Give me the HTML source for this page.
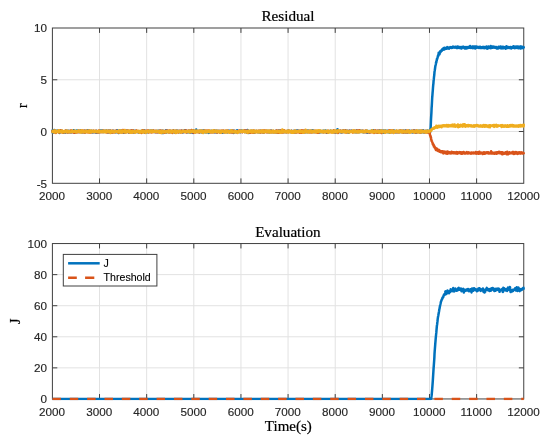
<!DOCTYPE html>
<html><head><meta charset="utf-8"><title>Residual / Evaluation</title>
<style>html,body{margin:0;padding:0;background:#fff}body{width:550px;height:438px;overflow:hidden}</style></head>
<body>
<svg width="550" height="438" viewBox="0 0 550 438" style="display:block">
<rect width="550" height="438" fill="#fff"/>
<line x1="99.53" y1="28.0" x2="99.53" y2="183.3" stroke="#e2e2e2" stroke-width="1"/>
<line x1="146.67" y1="28.0" x2="146.67" y2="183.3" stroke="#e2e2e2" stroke-width="1"/>
<line x1="193.81" y1="28.0" x2="193.81" y2="183.3" stroke="#e2e2e2" stroke-width="1"/>
<line x1="240.94" y1="28.0" x2="240.94" y2="183.3" stroke="#e2e2e2" stroke-width="1"/>
<line x1="288.07" y1="28.0" x2="288.07" y2="183.3" stroke="#e2e2e2" stroke-width="1"/>
<line x1="335.21" y1="28.0" x2="335.21" y2="183.3" stroke="#e2e2e2" stroke-width="1"/>
<line x1="382.35" y1="28.0" x2="382.35" y2="183.3" stroke="#e2e2e2" stroke-width="1"/>
<line x1="429.48" y1="28.0" x2="429.48" y2="183.3" stroke="#e2e2e2" stroke-width="1"/>
<line x1="476.62" y1="28.0" x2="476.62" y2="183.3" stroke="#e2e2e2" stroke-width="1"/>
<line x1="52.4" y1="131.53" x2="523.75" y2="131.53" stroke="#e2e2e2" stroke-width="1"/>
<line x1="52.4" y1="79.77" x2="523.75" y2="79.77" stroke="#e2e2e2" stroke-width="1"/>
<rect x="52.4" y="28.0" width="471.35" height="155.3" fill="none" stroke="#404040" stroke-width="1"/>
<line x1="99.53" y1="183.3" x2="99.53" y2="178.4" stroke="#404040" stroke-width="1"/>
<line x1="99.53" y1="28.0" x2="99.53" y2="32.9" stroke="#404040" stroke-width="1"/>
<line x1="146.67" y1="183.3" x2="146.67" y2="178.4" stroke="#404040" stroke-width="1"/>
<line x1="146.67" y1="28.0" x2="146.67" y2="32.9" stroke="#404040" stroke-width="1"/>
<line x1="193.81" y1="183.3" x2="193.81" y2="178.4" stroke="#404040" stroke-width="1"/>
<line x1="193.81" y1="28.0" x2="193.81" y2="32.9" stroke="#404040" stroke-width="1"/>
<line x1="240.94" y1="183.3" x2="240.94" y2="178.4" stroke="#404040" stroke-width="1"/>
<line x1="240.94" y1="28.0" x2="240.94" y2="32.9" stroke="#404040" stroke-width="1"/>
<line x1="288.07" y1="183.3" x2="288.07" y2="178.4" stroke="#404040" stroke-width="1"/>
<line x1="288.07" y1="28.0" x2="288.07" y2="32.9" stroke="#404040" stroke-width="1"/>
<line x1="335.21" y1="183.3" x2="335.21" y2="178.4" stroke="#404040" stroke-width="1"/>
<line x1="335.21" y1="28.0" x2="335.21" y2="32.9" stroke="#404040" stroke-width="1"/>
<line x1="382.35" y1="183.3" x2="382.35" y2="178.4" stroke="#404040" stroke-width="1"/>
<line x1="382.35" y1="28.0" x2="382.35" y2="32.9" stroke="#404040" stroke-width="1"/>
<line x1="429.48" y1="183.3" x2="429.48" y2="178.4" stroke="#404040" stroke-width="1"/>
<line x1="429.48" y1="28.0" x2="429.48" y2="32.9" stroke="#404040" stroke-width="1"/>
<line x1="476.62" y1="183.3" x2="476.62" y2="178.4" stroke="#404040" stroke-width="1"/>
<line x1="476.62" y1="28.0" x2="476.62" y2="32.9" stroke="#404040" stroke-width="1"/>
<line x1="52.4" y1="131.53" x2="57.3" y2="131.53" stroke="#404040" stroke-width="1"/>
<line x1="523.75" y1="131.53" x2="518.85" y2="131.53" stroke="#404040" stroke-width="1"/>
<line x1="52.4" y1="79.77" x2="57.3" y2="79.77" stroke="#404040" stroke-width="1"/>
<line x1="523.75" y1="79.77" x2="518.85" y2="79.77" stroke="#404040" stroke-width="1"/>
<text x="52.10" y="200.1" text-anchor="middle" font-family='"Liberation Sans", Arial, sans-serif' font-size="11.7" fill="#262626" stroke="#262626" stroke-width="0.15">2000</text>
<text x="99.23" y="200.1" text-anchor="middle" font-family='"Liberation Sans", Arial, sans-serif' font-size="11.7" fill="#262626" stroke="#262626" stroke-width="0.15">3000</text>
<text x="146.37" y="200.1" text-anchor="middle" font-family='"Liberation Sans", Arial, sans-serif' font-size="11.7" fill="#262626" stroke="#262626" stroke-width="0.15">4000</text>
<text x="193.51" y="200.1" text-anchor="middle" font-family='"Liberation Sans", Arial, sans-serif' font-size="11.7" fill="#262626" stroke="#262626" stroke-width="0.15">5000</text>
<text x="240.64" y="200.1" text-anchor="middle" font-family='"Liberation Sans", Arial, sans-serif' font-size="11.7" fill="#262626" stroke="#262626" stroke-width="0.15">6000</text>
<text x="287.77" y="200.1" text-anchor="middle" font-family='"Liberation Sans", Arial, sans-serif' font-size="11.7" fill="#262626" stroke="#262626" stroke-width="0.15">7000</text>
<text x="334.91" y="200.1" text-anchor="middle" font-family='"Liberation Sans", Arial, sans-serif' font-size="11.7" fill="#262626" stroke="#262626" stroke-width="0.15">8000</text>
<text x="382.05" y="200.1" text-anchor="middle" font-family='"Liberation Sans", Arial, sans-serif' font-size="11.7" fill="#262626" stroke="#262626" stroke-width="0.15">9000</text>
<text x="429.18" y="200.1" text-anchor="middle" font-family='"Liberation Sans", Arial, sans-serif' font-size="11.7" fill="#262626" stroke="#262626" stroke-width="0.15">10000</text>
<text x="476.31" y="200.1" text-anchor="middle" font-family='"Liberation Sans", Arial, sans-serif' font-size="11.7" fill="#262626" stroke="#262626" stroke-width="0.15">11000</text>
<text x="523.45" y="200.1" text-anchor="middle" font-family='"Liberation Sans", Arial, sans-serif' font-size="11.7" fill="#262626" stroke="#262626" stroke-width="0.15">12000</text>
<text x="47.1" y="187.6" text-anchor="end" font-family='"Liberation Sans", Arial, sans-serif' font-size="11.7" fill="#262626" stroke="#262626" stroke-width="0.15">-5</text>
<text x="47.1" y="135.8" text-anchor="end" font-family='"Liberation Sans", Arial, sans-serif' font-size="11.7" fill="#262626" stroke="#262626" stroke-width="0.15">0</text>
<text x="47.1" y="84.1" text-anchor="end" font-family='"Liberation Sans", Arial, sans-serif' font-size="11.7" fill="#262626" stroke="#262626" stroke-width="0.15">5</text>
<text x="47.1" y="32.3" text-anchor="end" font-family='"Liberation Sans", Arial, sans-serif' font-size="11.7" fill="#262626" stroke="#262626" stroke-width="0.15">10</text>
<clipPath id="c1"><rect x="51.199999999999996" y="28.0" width="473.75" height="156.5"/></clipPath>
<clipPath id="c2"><rect x="51.199999999999996" y="243.55" width="473.75" height="156.59999999999997"/></clipPath>
<g clip-path="url(#c1)" fill="none" stroke-linejoin="round" stroke-linecap="round" stroke-width="2.5">
<polyline stroke="#0072BD" points="52.4,130.6 52.6,132.7 52.8,131.3 53.0,131.8 53.2,131.7 53.4,131.6 53.6,132.5 53.8,131.6 54.0,131.9 54.2,130.0 54.4,131.4 54.6,131.7 54.8,131.7 55.0,131.8 55.2,132.0 55.3,131.7 55.5,131.3 55.7,131.6 55.9,131.1 56.1,131.6 56.3,131.5 56.5,130.8 56.7,131.3 56.9,131.8 57.1,131.6 57.3,131.3 57.5,130.6 57.7,131.7 57.9,131.6 58.1,131.1 58.3,131.9 58.5,131.7 58.7,131.1 58.9,131.3 59.1,131.5 59.3,131.2 59.5,132.9 59.7,131.1 59.9,132.0 60.1,132.3 60.3,131.4 60.5,131.2 60.7,131.7 60.8,132.0 61.0,131.5 61.2,131.6 61.4,130.9 61.6,131.2 61.8,131.4 62.0,131.0 62.2,131.6 62.4,132.0 62.6,131.3 62.8,131.3 63.0,131.6 63.2,131.9 63.4,131.4 63.6,132.7 63.8,131.2 64.0,131.3 64.2,132.3 64.4,131.5 64.6,132.0 64.8,131.2 65.0,132.5 65.2,132.0 65.4,131.2 65.6,131.0 65.8,132.5 66.0,131.8 66.2,131.4 66.3,131.8 66.5,130.8 66.7,132.1 66.9,131.4 67.1,132.0 67.3,130.9 67.5,131.5 67.7,131.7 67.9,132.3 68.1,130.7 68.3,131.2 68.5,131.2 68.7,131.0 68.9,131.4 69.1,131.8 69.3,131.9 69.5,131.9 69.7,130.9 69.9,132.2 70.1,131.8 70.3,131.7 70.5,131.4 70.7,131.3 70.9,132.1 71.1,132.3 71.3,131.5 71.5,131.0 71.7,131.2 71.9,131.4 72.0,131.7 72.2,131.4 72.4,131.6 72.6,131.2 72.8,131.9 73.0,131.5 73.2,131.6 73.4,131.3 73.6,131.4 73.8,130.3 74.0,130.8 74.2,130.8 74.4,132.5 74.6,131.7 74.8,131.8 75.0,131.3 75.2,132.6 75.4,131.0 75.6,131.0 75.8,132.1 76.0,132.0 76.2,131.9 76.4,131.5 76.6,131.2 76.8,130.6 77.0,131.6 77.2,131.2 77.4,131.5 77.5,130.7 77.7,131.2 77.9,130.9 78.1,132.0 78.3,131.6 78.5,131.9 78.7,130.8 78.9,131.2 79.1,131.7 79.3,131.7 79.5,131.3 79.7,131.9 79.9,132.0 80.1,131.3 80.3,130.4 80.5,131.6 80.7,131.8 80.9,132.1 81.1,132.2 81.3,131.3 81.5,131.1 81.7,131.5 81.9,131.4 82.1,131.5 82.3,131.5 82.5,132.2 82.7,131.7 82.9,131.5 83.1,131.9 83.2,131.8 83.4,131.9 83.6,131.7 83.8,131.1 84.0,131.7 84.2,131.6 84.4,131.2 84.6,131.2 84.8,130.7 85.0,132.5 85.2,131.1 85.4,131.8 85.6,131.5 85.8,131.1 86.0,131.0 86.2,131.0 86.4,131.5 86.6,130.8 86.8,131.7 87.0,131.6 87.2,131.2 87.4,131.8 87.6,130.5 87.8,131.1 88.0,130.5 88.2,131.5 88.4,131.7 88.6,131.5 88.7,131.2 88.9,131.8 89.1,131.4 89.3,131.5 89.5,130.8 89.7,131.8 89.9,131.0 90.1,131.8 90.3,132.0 90.5,131.9 90.7,132.1 90.9,131.5 91.1,131.1 91.3,131.5 91.5,131.2 91.7,130.8 91.9,131.4 92.1,131.4 92.3,131.7 92.5,132.3 92.7,131.2 92.9,132.4 93.1,131.2 93.3,131.5 93.5,131.0 93.7,131.6 93.9,131.9 94.1,131.4 94.2,131.8 94.4,131.6 94.6,131.5 94.8,131.6 95.0,131.6 95.2,131.9 95.4,131.6 95.6,132.5 95.8,131.6 96.0,132.1 96.2,131.0 96.4,130.9 96.6,132.4 96.8,131.5 97.0,131.6 97.2,132.0 97.4,131.3 97.6,131.7 97.8,132.4 98.0,131.7 98.2,131.6 98.4,131.5 98.6,132.1 98.8,131.2 99.0,131.2 99.2,132.1 99.4,131.8 99.6,131.6 99.8,131.8 99.9,130.7 100.1,131.4 100.3,132.0 100.5,131.9 100.7,131.6 100.9,130.5 101.1,131.6 101.3,131.5 101.5,131.3 101.7,131.6 101.9,130.5 102.1,131.8 102.3,131.2 102.5,131.5 102.7,131.2 102.9,132.1 103.1,130.7 103.3,131.6 103.5,131.5 103.7,132.0 103.9,131.9 104.1,131.3 104.3,131.1 104.5,131.2 104.7,131.0 104.9,131.2 105.1,131.5 105.3,131.1 105.4,131.3 105.6,131.6 105.8,131.2 106.0,130.9 106.2,131.4 106.4,131.7 106.6,131.2 106.8,130.6 107.0,131.6 107.2,131.6 107.4,131.6 107.6,131.0 107.8,132.4 108.0,131.4 108.2,131.0 108.4,131.9 108.6,130.8 108.8,131.3 109.0,131.8 109.2,131.4 109.4,132.2 109.6,131.8 109.8,130.7 110.0,131.9 110.2,130.7 110.4,131.6 110.6,131.1 110.8,131.5 111.0,132.6 111.1,131.8 111.3,131.4 111.5,132.1 111.7,132.2 111.9,131.4 112.1,131.8 112.3,132.3 112.5,131.9 112.7,131.1 112.9,131.8 113.1,131.1 113.3,130.8 113.5,131.5 113.7,132.1 113.9,132.1 114.1,131.5 114.3,131.1 114.5,131.4 114.7,131.3 114.9,131.7 115.1,131.4 115.3,131.8 115.5,131.7 115.7,132.1 115.9,132.3 116.1,131.8 116.3,132.0 116.5,132.0 116.6,131.2 116.8,131.6 117.0,130.2 117.2,131.1 117.4,131.8 117.6,131.2 117.8,131.4 118.0,131.9 118.2,131.0 118.4,131.9 118.6,133.0 118.8,131.2 119.0,131.8 119.2,130.8 119.4,131.8 119.6,132.1 119.8,130.8 120.0,132.0 120.2,131.4 120.4,130.9 120.6,131.5 120.8,131.6 121.0,131.5 121.2,131.1 121.4,131.9 121.6,131.2 121.8,131.3 122.0,130.4 122.1,131.7 122.3,132.0 122.5,131.2 122.7,131.7 122.9,131.4 123.1,131.5 123.3,131.0 123.5,131.8 123.7,131.6 123.9,132.7 124.1,131.9 124.3,130.8 124.5,131.9 124.7,131.9 124.9,132.1 125.1,131.3 125.3,131.5 125.5,132.1 125.7,131.2 125.9,131.4 126.1,131.2 126.3,131.8 126.5,130.7 126.7,131.3 126.9,131.6 127.1,131.8 127.3,131.6 127.5,131.1 127.7,131.7 127.8,131.0 128.0,131.3 128.2,130.9 128.4,131.2 128.6,131.6 128.8,132.4 129.0,131.4 129.2,131.2 129.4,131.5 129.6,131.3 129.8,131.8 130.0,131.7 130.2,132.0 130.4,130.9 130.6,131.5 130.8,131.8 131.0,132.2 131.2,131.6 131.4,130.9 131.6,131.3 131.8,131.9 132.0,130.9 132.2,130.9 132.4,131.1 132.6,131.2 132.8,131.0 133.0,131.3 133.2,131.2 133.3,131.9 133.5,130.8 133.7,131.4 133.9,130.6 134.1,132.5 134.3,131.2 134.5,131.1 134.7,131.7 134.9,131.3 135.1,131.2 135.3,131.3 135.5,131.8 135.7,131.6 135.9,131.1 136.1,130.9 136.3,131.5 136.5,131.5 136.7,131.4 136.9,131.0 137.1,132.0 137.3,132.2 137.5,131.5 137.7,132.0 137.9,131.8 138.1,131.5 138.3,131.3 138.5,132.0 138.7,131.2 138.9,132.4 139.0,131.3 139.2,132.3 139.4,132.1 139.6,131.2 139.8,131.7 140.0,131.9 140.2,131.7 140.4,131.3 140.6,131.6 140.8,131.5 141.0,131.0 141.2,131.9 141.4,131.8 141.6,131.8 141.8,131.0 142.0,131.1 142.2,130.9 142.4,131.5 142.6,131.6 142.8,131.1 143.0,131.7 143.2,131.1 143.4,131.2 143.6,131.9 143.8,131.6 144.0,131.6 144.2,130.7 144.4,130.3 144.5,131.6 144.7,131.5 144.9,132.6 145.1,131.4 145.3,131.5 145.5,132.0 145.7,131.2 145.9,132.3 146.1,131.6 146.3,131.5 146.5,132.1 146.7,131.1 146.9,131.0 147.1,132.2 147.3,132.2 147.5,131.3 147.7,131.5 147.9,132.1 148.1,131.7 148.3,131.6 148.5,131.6 148.7,131.1 148.9,131.4 149.1,130.7 149.3,130.9 149.5,131.2 149.7,131.0 149.9,130.9 150.0,131.2 150.2,132.1 150.4,131.1 150.6,131.5 150.8,130.8 151.0,131.5 151.2,131.3 151.4,131.4 151.6,130.8 151.8,131.5 152.0,131.7 152.2,131.4 152.4,131.7 152.6,131.5 152.8,131.5 153.0,131.4 153.2,130.6 153.4,131.7 153.6,131.5 153.8,131.6 154.0,131.2 154.2,132.1 154.4,131.9 154.6,131.6 154.8,131.3 155.0,131.6 155.2,131.8 155.4,131.9 155.6,131.3 155.7,130.9 155.9,131.4 156.1,131.4 156.3,131.3 156.5,132.0 156.7,131.7 156.9,131.7 157.1,131.4 157.3,131.5 157.5,132.1 157.7,131.0 157.9,130.7 158.1,131.7 158.3,131.3 158.5,131.4 158.7,131.2 158.9,132.2 159.1,130.8 159.3,131.8 159.5,130.9 159.7,131.5 159.9,131.7 160.1,131.6 160.3,131.1 160.5,131.9 160.7,131.7 160.9,131.8 161.1,132.3 161.2,130.9 161.4,131.3 161.6,131.5 161.8,131.0 162.0,132.0 162.2,131.6 162.4,130.7 162.6,131.1 162.8,132.6 163.0,133.1 163.2,132.0 163.4,131.0 163.6,131.8 163.8,131.6 164.0,131.2 164.2,131.9 164.4,131.4 164.6,131.2 164.8,131.3 165.0,131.3 165.2,131.8 165.4,131.3 165.6,131.7 165.8,130.9 166.0,130.3 166.2,131.9 166.4,132.5 166.6,131.7 166.8,131.4 166.9,131.0 167.1,131.0 167.3,131.9 167.5,131.9 167.7,130.9 167.9,132.0 168.1,131.0 168.3,131.6 168.5,131.2 168.7,131.2 168.9,131.2 169.1,131.2 169.3,132.0 169.5,131.4 169.7,131.5 169.9,131.4 170.1,131.0 170.3,131.7 170.5,131.9 170.7,131.9 170.9,131.7 171.1,131.2 171.3,131.9 171.5,131.0 171.7,131.4 171.9,131.6 172.1,132.2 172.3,131.4 172.4,131.2 172.6,132.4 172.8,131.0 173.0,130.8 173.2,131.4 173.4,131.3 173.6,130.4 173.8,131.0 174.0,132.0 174.2,131.5 174.4,131.6 174.6,131.6 174.8,132.6 175.0,131.2 175.2,131.8 175.4,131.5 175.6,131.6 175.8,131.1 176.0,131.7 176.2,131.9 176.4,131.3 176.6,130.9 176.8,131.7 177.0,130.9 177.2,131.4 177.4,131.8 177.6,130.8 177.8,131.9 177.9,131.1 178.1,131.8 178.3,131.3 178.5,132.1 178.7,131.9 178.9,131.0 179.1,131.4 179.3,131.5 179.5,131.7 179.7,131.3 179.9,132.2 180.1,132.1 180.3,131.6 180.5,131.9 180.7,131.9 180.9,131.6 181.1,131.6 181.3,131.6 181.5,130.8 181.7,131.1 181.9,131.0 182.1,131.5 182.3,131.8 182.5,132.2 182.7,131.7 182.9,132.5 183.1,131.8 183.3,131.2 183.5,130.8 183.6,131.1 183.8,131.9 184.0,131.3 184.2,131.9 184.4,131.1 184.6,131.6 184.8,131.1 185.0,130.3 185.2,131.1 185.4,130.4 185.6,131.5 185.8,131.7 186.0,130.9 186.2,130.7 186.4,131.8 186.6,131.5 186.8,132.2 187.0,131.6 187.2,131.1 187.4,131.6 187.6,131.8 187.8,132.2 188.0,131.4 188.2,131.2 188.4,131.3 188.6,131.4 188.8,132.1 189.0,130.7 189.1,131.6 189.3,131.6 189.5,131.2 189.7,132.5 189.9,131.6 190.1,131.6 190.3,131.4 190.5,130.9 190.7,131.3 190.9,132.4 191.1,131.7 191.3,131.4 191.5,131.5 191.7,132.1 191.9,132.3 192.1,131.3 192.3,131.4 192.5,131.5 192.7,132.3 192.9,130.7 193.1,132.9 193.3,131.7 193.5,130.6 193.7,131.6 193.9,131.4 194.1,132.1 194.3,130.9 194.5,132.1 194.6,131.4 194.8,131.5 195.0,132.0 195.2,131.1 195.4,132.2 195.6,131.9 195.8,131.5 196.0,131.7 196.2,129.6 196.4,131.1 196.6,131.7 196.8,131.8 197.0,131.8 197.2,131.7 197.4,131.2 197.6,131.6 197.8,131.3 198.0,131.6 198.2,131.9 198.4,131.1 198.6,132.0 198.8,131.5 199.0,130.8 199.2,132.0 199.4,131.6 199.6,132.3 199.8,131.8 200.0,132.2 200.2,131.7 200.3,131.8 200.5,131.5 200.7,130.8 200.9,131.4 201.1,131.2 201.3,131.6 201.5,131.6 201.7,131.9 201.9,132.4 202.1,131.5 202.3,130.8 202.5,131.3 202.7,131.8 202.9,130.8 203.1,131.7 203.3,131.8 203.5,132.1 203.7,132.0 203.9,131.6 204.1,130.6 204.3,131.6 204.5,132.0 204.7,131.8 204.9,131.6 205.1,132.3 205.3,131.5 205.5,131.2 205.7,131.4 205.8,131.3 206.0,132.1 206.2,132.3 206.4,130.9 206.6,131.0 206.8,132.3 207.0,131.4 207.2,131.5 207.4,131.3 207.6,131.4 207.8,131.8 208.0,131.4 208.2,131.5 208.4,131.6 208.6,132.4 208.8,132.9 209.0,131.9 209.2,132.3 209.4,131.4 209.6,131.2 209.8,131.4 210.0,131.7 210.2,131.5 210.4,131.0 210.6,131.9 210.8,131.1 211.0,131.2 211.2,131.4 211.4,130.9 211.5,131.9 211.7,131.1 211.9,132.0 212.1,131.9 212.3,132.0 212.5,131.3 212.7,132.0 212.9,131.5 213.1,132.1 213.3,131.0 213.5,130.7 213.7,131.4 213.9,130.8 214.1,131.3 214.3,130.5 214.5,131.5 214.7,132.3 214.9,130.8 215.1,131.6 215.3,132.0 215.5,131.8 215.7,132.3 215.9,131.6 216.1,132.0 216.3,130.8 216.5,131.2 216.7,132.3 216.9,132.2 217.0,131.8 217.2,132.4 217.4,131.6 217.6,131.6 217.8,131.9 218.0,131.8 218.2,131.3 218.4,130.9 218.6,130.8 218.8,131.5 219.0,131.1 219.2,131.9 219.4,131.3 219.6,132.0 219.8,131.2 220.0,132.1 220.2,132.0 220.4,131.5 220.6,131.3 220.8,132.2 221.0,131.8 221.2,131.5 221.4,131.4 221.6,131.9 221.8,131.5 222.0,131.7 222.2,130.9 222.4,131.3 222.5,132.2 222.7,132.6 222.9,131.5 223.1,131.0 223.3,131.5 223.5,131.1 223.7,131.8 223.9,132.2 224.1,131.2 224.3,131.5 224.5,131.2 224.7,132.2 224.9,131.4 225.1,131.8 225.3,131.2 225.5,131.8 225.7,131.8 225.9,131.8 226.1,130.9 226.3,131.5 226.5,131.9 226.7,132.0 226.9,132.0 227.1,130.9 227.3,132.4 227.5,131.9 227.7,131.2 227.9,131.0 228.1,131.6 228.2,131.2 228.4,131.2 228.6,131.1 228.8,131.5 229.0,130.8 229.2,131.4 229.4,130.8 229.6,132.0 229.8,131.1 230.0,132.1 230.2,132.2 230.4,131.3 230.6,131.9 230.8,131.3 231.0,132.0 231.2,130.8 231.4,131.5 231.6,132.0 231.8,131.4 232.0,131.1 232.2,131.9 232.4,131.3 232.6,130.6 232.8,131.1 233.0,131.5 233.2,131.8 233.4,131.2 233.6,132.2 233.7,132.9 233.9,131.8 234.1,132.0 234.3,130.7 234.5,131.4 234.7,132.0 234.9,132.0 235.1,131.3 235.3,131.9 235.5,131.8 235.7,131.5 235.9,131.5 236.1,131.5 236.3,131.4 236.5,130.9 236.7,130.7 236.9,132.3 237.1,130.3 237.3,131.4 237.5,130.9 237.7,131.8 237.9,131.3 238.1,131.4 238.3,131.4 238.5,131.1 238.7,131.2 238.9,132.0 239.1,131.6 239.3,131.2 239.4,131.2 239.6,131.7 239.8,131.6 240.0,131.6 240.2,132.0 240.4,132.1 240.6,130.8 240.8,131.7 241.0,131.5 241.2,131.8 241.4,130.9 241.6,130.7 241.8,131.6 242.0,131.3 242.2,131.8 242.4,130.7 242.6,131.1 242.8,131.9 243.0,130.9 243.2,131.3 243.4,131.3 243.6,131.3 243.8,131.8 244.0,131.7 244.2,131.2 244.4,131.5 244.6,131.9 244.8,130.6 244.9,131.6 245.1,131.8 245.3,131.8 245.5,131.2 245.7,131.0 245.9,131.4 246.1,131.1 246.3,132.2 246.5,131.7 246.7,131.7 246.9,131.5 247.1,131.3 247.3,132.5 247.5,130.0 247.7,131.9 247.9,131.3 248.1,131.1 248.3,131.1 248.5,131.4 248.7,132.9 248.9,132.0 249.1,131.2 249.3,131.9 249.5,132.0 249.7,132.6 249.9,130.9 250.1,131.3 250.3,131.9 250.4,131.6 250.6,131.6 250.8,132.0 251.0,131.6 251.2,131.4 251.4,131.3 251.6,130.9 251.8,131.5 252.0,131.7 252.2,131.3 252.4,131.8 252.6,132.1 252.8,131.0 253.0,131.7 253.2,131.5 253.4,131.2 253.6,132.0 253.8,131.2 254.0,131.3 254.2,131.6 254.4,131.3 254.6,131.9 254.8,132.6 255.0,131.7 255.2,131.9 255.4,131.1 255.6,131.4 255.8,131.8 256.0,131.5 256.1,130.9 256.3,131.0 256.5,131.4 256.7,131.3 256.9,131.7 257.1,131.6 257.3,131.3 257.5,131.6 257.7,131.4 257.9,132.0 258.1,132.3 258.3,132.3 258.5,131.7 258.7,130.9 258.9,131.0 259.1,132.0 259.3,132.3 259.5,131.2 259.7,131.3 259.9,132.2 260.1,131.0 260.3,131.4 260.5,130.9 260.7,131.4 260.9,131.1 261.1,131.4 261.3,132.0 261.5,131.6 261.6,131.8 261.8,131.1 262.0,132.0 262.2,132.2 262.4,131.2 262.6,131.0 262.8,130.9 263.0,131.0 263.2,132.2 263.4,131.9 263.6,131.8 263.8,131.5 264.0,132.5 264.2,131.5 264.4,131.4 264.6,132.0 264.8,131.5 265.0,131.0 265.2,131.5 265.4,131.0 265.6,131.1 265.8,131.3 266.0,131.3 266.2,131.7 266.4,130.9 266.6,131.7 266.8,131.9 267.0,131.2 267.2,131.9 267.3,131.3 267.5,131.0 267.7,131.5 267.9,131.5 268.1,131.1 268.3,131.2 268.5,132.2 268.7,132.1 268.9,130.9 269.1,131.3 269.3,132.5 269.5,132.2 269.7,131.5 269.9,132.0 270.1,131.3 270.3,131.5 270.5,131.3 270.7,132.1 270.9,131.2 271.1,130.6 271.3,131.9 271.5,130.9 271.7,131.1 271.9,131.2 272.1,131.6 272.3,132.1 272.5,131.9 272.7,131.2 272.8,131.1 273.0,131.0 273.2,131.1 273.4,131.1 273.6,131.7 273.8,132.1 274.0,131.4 274.2,131.3 274.4,131.5 274.6,132.2 274.8,131.8 275.0,132.2 275.2,131.5 275.4,132.0 275.6,131.6 275.8,131.4 276.0,131.5 276.2,130.9 276.4,132.0 276.6,132.5 276.8,131.1 277.0,130.9 277.2,130.9 277.4,131.4 277.6,131.3 277.8,131.5 278.0,132.1 278.2,131.8 278.3,131.3 278.5,131.8 278.7,130.6 278.9,132.2 279.1,131.7 279.3,131.0 279.5,131.8 279.7,132.0 279.9,132.2 280.1,131.9 280.3,130.8 280.5,131.3 280.7,131.3 280.9,131.8 281.1,131.1 281.3,131.5 281.5,131.9 281.7,131.7 281.9,131.4 282.1,131.0 282.3,131.5 282.5,131.3 282.7,130.6 282.9,131.9 283.1,132.1 283.3,131.1 283.5,131.3 283.7,131.6 283.9,131.4 284.0,131.7 284.2,131.3 284.4,131.7 284.6,131.1 284.8,132.1 285.0,131.9 285.2,131.5 285.4,131.7 285.6,131.2 285.8,131.5 286.0,131.8 286.2,131.4 286.4,131.8 286.6,132.2 286.8,132.0 287.0,131.9 287.2,131.7 287.4,131.5 287.6,131.1 287.8,131.3 288.0,130.7 288.2,130.9 288.4,131.6 288.6,130.7 288.8,131.0 289.0,131.7 289.2,131.4 289.4,131.0 289.5,131.4 289.7,131.0 289.9,131.3 290.1,131.2 290.3,131.7 290.5,131.3 290.7,131.7 290.9,131.2 291.1,132.3 291.3,131.4 291.5,130.9 291.7,131.2 291.9,131.5 292.1,131.3 292.3,131.9 292.5,131.9 292.7,131.7 292.9,131.6 293.1,131.1 293.3,131.9 293.5,131.0 293.7,132.2 293.9,131.9 294.1,131.5 294.3,131.0 294.5,131.8 294.7,132.5 294.9,131.3 295.0,131.5 295.2,132.0 295.4,132.0 295.6,131.8 295.8,131.5 296.0,131.2 296.2,132.2 296.4,130.4 296.6,131.5 296.8,131.7 297.0,131.2 297.2,131.5 297.4,130.4 297.6,131.0 297.8,131.7 298.0,131.7 298.2,131.7 298.4,131.7 298.6,131.2 298.8,131.8 299.0,130.8 299.2,131.6 299.4,131.6 299.6,131.1 299.8,132.4 300.0,131.9 300.2,131.2 300.4,131.5 300.6,131.5 300.7,131.3 300.9,131.8 301.1,131.6 301.3,132.1 301.5,132.4 301.7,130.9 301.9,131.9 302.1,131.8 302.3,130.9 302.5,131.0 302.7,131.8 302.9,131.8 303.1,131.6 303.3,132.0 303.5,131.3 303.7,131.4 303.9,131.5 304.1,131.2 304.3,131.2 304.5,130.7 304.7,130.8 304.9,132.3 305.1,131.1 305.3,132.0 305.5,132.2 305.7,131.2 305.9,131.8 306.1,131.7 306.2,131.0 306.4,131.8 306.6,131.9 306.8,131.4 307.0,130.9 307.2,131.3 307.4,132.2 307.6,131.8 307.8,131.6 308.0,130.6 308.2,131.1 308.4,131.1 308.6,131.0 308.8,131.7 309.0,131.3 309.2,131.3 309.4,132.0 309.6,131.5 309.8,131.3 310.0,132.0 310.2,131.1 310.4,131.2 310.6,131.0 310.8,131.9 311.0,131.5 311.2,130.8 311.4,131.1 311.6,131.9 311.8,131.4 311.9,130.9 312.1,131.6 312.3,131.3 312.5,130.3 312.7,131.5 312.9,131.6 313.1,132.0 313.3,131.8 313.5,130.8 313.7,131.6 313.9,132.1 314.1,132.0 314.3,131.5 314.5,131.2 314.7,131.9 314.9,131.2 315.1,131.7 315.3,131.4 315.5,131.3 315.7,131.2 315.9,131.7 316.1,131.6 316.3,131.3 316.5,132.1 316.7,131.4 316.9,131.3 317.1,131.0 317.3,131.5 317.4,131.6 317.6,131.5 317.8,131.9 318.0,131.6 318.2,131.3 318.4,131.4 318.6,132.0 318.8,131.7 319.0,132.5 319.2,131.2 319.4,131.8 319.6,131.4 319.8,132.0 320.0,131.6 320.2,131.3 320.4,131.1 320.6,132.2 320.8,131.1 321.0,131.6 321.2,131.9 321.4,131.3 321.6,131.7 321.8,131.7 322.0,131.9 322.2,131.4 322.4,131.5 322.6,131.6 322.8,132.0 322.9,131.8 323.1,131.4 323.3,130.9 323.5,131.6 323.7,130.9 323.9,131.5 324.1,132.1 324.3,131.2 324.5,132.0 324.7,131.4 324.9,131.0 325.1,131.7 325.3,131.6 325.5,130.4 325.7,131.4 325.9,131.4 326.1,131.2 326.3,131.6 326.5,131.6 326.7,131.4 326.9,132.7 327.1,130.9 327.3,132.0 327.5,132.0 327.7,131.3 327.9,131.5 328.1,132.1 328.3,131.4 328.5,132.1 328.6,131.9 328.8,132.2 329.0,131.9 329.2,131.4 329.4,131.5 329.6,131.4 329.8,131.1 330.0,131.6 330.2,131.8 330.4,131.7 330.6,130.8 330.8,131.5 331.0,131.4 331.2,131.6 331.4,131.4 331.6,131.3 331.8,131.5 332.0,131.6 332.2,131.9 332.4,131.9 332.6,131.4 332.8,131.2 333.0,131.1 333.2,131.5 333.4,131.9 333.6,131.2 333.8,131.3 334.0,132.2 334.1,131.2 334.3,131.3 334.5,130.8 334.7,132.1 334.9,132.1 335.1,131.2 335.3,132.4 335.5,131.9 335.7,132.0 335.9,132.0 336.1,132.4 336.3,131.7 336.5,131.1 336.7,131.3 336.9,131.3 337.1,131.7 337.3,130.9 337.5,129.2 337.7,131.1 337.9,132.3 338.1,131.4 338.3,132.1 338.5,131.4 338.7,131.4 338.9,132.1 339.1,131.5 339.3,131.0 339.5,131.3 339.7,131.3 339.8,131.9 340.0,131.9 340.2,132.1 340.4,131.5 340.6,131.0 340.8,131.3 341.0,131.5 341.2,132.1 341.4,131.3 341.6,131.6 341.8,132.4 342.0,132.3 342.2,131.7 342.4,131.9 342.6,130.8 342.8,131.5 343.0,132.0 343.2,131.8 343.4,130.8 343.6,132.0 343.8,131.2 344.0,131.3 344.2,130.9 344.4,131.3 344.6,131.7 344.8,131.3 345.0,131.5 345.2,131.1 345.3,131.6 345.5,130.6 345.7,131.6 345.9,131.3 346.1,131.8 346.3,131.5 346.5,131.5 346.7,131.4 346.9,131.1 347.1,131.8 347.3,131.9 347.5,131.0 347.7,131.7 347.9,131.8 348.1,131.0 348.3,131.2 348.5,132.8 348.7,131.7 348.9,131.2 349.1,131.1 349.3,131.8 349.5,130.8 349.7,131.9 349.9,131.6 350.1,131.5 350.3,131.5 350.5,131.2 350.7,131.1 350.8,131.5 351.0,130.9 351.2,131.8 351.4,131.6 351.6,130.7 351.8,131.5 352.0,131.0 352.2,131.7 352.4,131.6 352.6,131.6 352.8,131.4 353.0,131.7 353.2,131.5 353.4,131.2 353.6,131.0 353.8,131.5 354.0,131.2 354.2,131.1 354.4,132.0 354.6,132.2 354.8,130.8 355.0,130.9 355.2,131.5 355.4,131.4 355.6,132.0 355.8,132.2 356.0,131.4 356.2,132.2 356.4,131.1 356.5,131.8 356.7,131.4 356.9,130.6 357.1,130.6 357.3,131.6 357.5,131.0 357.7,132.0 357.9,131.8 358.1,131.3 358.3,130.9 358.5,131.8 358.7,131.3 358.9,131.5 359.1,132.1 359.3,131.6 359.5,130.8 359.7,131.6 359.9,131.3 360.1,131.1 360.3,131.9 360.5,130.9 360.7,130.8 360.9,130.8 361.1,130.9 361.3,131.7 361.5,131.8 361.7,131.9 361.9,131.9 362.0,131.9 362.2,131.1 362.4,130.8 362.6,131.8 362.8,131.1 363.0,132.1 363.2,131.7 363.4,132.0 363.6,132.3 363.8,131.5 364.0,131.5 364.2,131.7 364.4,131.8 364.6,132.0 364.8,131.6 365.0,131.8 365.2,131.4 365.4,132.1 365.6,131.4 365.8,131.3 366.0,130.9 366.2,131.0 366.4,131.4 366.6,131.8 366.8,132.4 367.0,131.5 367.2,130.9 367.4,130.8 367.6,132.7 367.7,131.9 367.9,131.7 368.1,132.0 368.3,131.4 368.5,131.5 368.7,131.8 368.9,131.5 369.1,132.3 369.3,132.0 369.5,131.9 369.7,131.1 369.9,132.3 370.1,131.6 370.3,131.2 370.5,131.6 370.7,131.2 370.9,131.8 371.1,131.3 371.3,131.1 371.5,130.5 371.7,131.2 371.9,130.9 372.1,131.5 372.3,131.5 372.5,130.8 372.7,131.3 372.9,130.9 373.1,131.2 373.2,130.5 373.4,130.4 373.6,131.9 373.8,130.7 374.0,131.3 374.2,131.3 374.4,131.6 374.6,131.2 374.8,132.0 375.0,131.9 375.2,131.9 375.4,131.4 375.6,131.1 375.8,131.2 376.0,131.3 376.2,131.8 376.4,132.3 376.6,131.3 376.8,131.5 377.0,131.4 377.2,130.9 377.4,131.6 377.6,131.6 377.8,132.6 378.0,131.3 378.2,131.5 378.4,131.9 378.6,131.3 378.7,132.0 378.9,131.8 379.1,130.6 379.3,131.2 379.5,131.1 379.7,131.2 379.9,131.2 380.1,131.4 380.3,130.5 380.5,131.6 380.7,131.2 380.9,131.6 381.1,131.7 381.3,132.7 381.5,132.4 381.7,130.8 381.9,130.8 382.1,131.7 382.3,131.5 382.5,131.2 382.7,132.0 382.9,130.7 383.1,132.0 383.3,131.9 383.5,132.8 383.7,130.8 383.9,131.5 384.1,130.8 384.3,132.0 384.4,131.4 384.6,131.5 384.8,131.4 385.0,130.6 385.2,130.5 385.4,130.9 385.6,131.7 385.8,131.1 386.0,130.9 386.2,131.3 386.4,131.3 386.6,131.3 386.8,131.9 387.0,131.4 387.2,130.8 387.4,132.0 387.6,131.5 387.8,131.1 388.0,132.2 388.2,131.6 388.4,132.3 388.6,131.8 388.8,132.2 389.0,131.9 389.2,131.8 389.4,131.7 389.6,131.6 389.8,132.7 389.9,130.8 390.1,131.7 390.3,132.0 390.5,131.8 390.7,131.4 390.9,132.0 391.1,131.7 391.3,131.8 391.5,131.3 391.7,131.9 391.9,131.3 392.1,131.4 392.3,131.6 392.5,131.0 392.7,131.5 392.9,132.1 393.1,131.4 393.3,131.5 393.5,131.6 393.7,131.4 393.9,130.4 394.1,131.4 394.3,131.3 394.5,131.6 394.7,130.9 394.9,131.6 395.1,131.9 395.3,132.1 395.5,131.3 395.6,131.2 395.8,132.3 396.0,131.9 396.2,131.2 396.4,131.1 396.6,132.1 396.8,131.7 397.0,131.1 397.2,131.8 397.4,131.7 397.6,131.8 397.8,132.1 398.0,131.5 398.2,131.4 398.4,132.2 398.6,131.5 398.8,131.0 399.0,131.4 399.2,131.1 399.4,131.8 399.6,130.9 399.8,131.9 400.0,130.7 400.2,131.7 400.4,131.9 400.6,132.0 400.8,131.7 401.0,131.8 401.1,131.9 401.3,131.7 401.5,131.2 401.7,131.1 401.9,131.7 402.1,131.0 402.3,132.0 402.5,132.0 402.7,132.1 402.9,131.3 403.1,132.3 403.3,132.2 403.5,130.9 403.7,130.7 403.9,130.9 404.1,132.2 404.3,131.5 404.5,131.1 404.7,131.5 404.9,132.3 405.1,131.7 405.3,132.3 405.5,132.1 405.7,130.5 405.9,131.2 406.1,132.2 406.3,132.2 406.5,131.3 406.6,131.8 406.8,131.3 407.0,131.8 407.2,131.6 407.4,131.4 407.6,132.0 407.8,132.4 408.0,132.1 408.2,131.9 408.4,131.6 408.6,131.6 408.8,131.6 409.0,131.3 409.2,132.0 409.4,130.9 409.6,130.6 409.8,131.4 410.0,131.5 410.2,131.0 410.4,131.2 410.6,131.5 410.8,131.6 411.0,131.9 411.2,132.1 411.4,131.2 411.6,131.0 411.8,132.0 412.0,131.6 412.2,131.4 412.3,131.7 412.5,131.9 412.7,131.7 412.9,132.5 413.1,131.6 413.3,131.7 413.5,130.6 413.7,131.1 413.9,131.7 414.1,131.5 414.3,130.7 414.5,130.8 414.7,131.5 414.9,131.6 415.1,132.2 415.3,131.7 415.5,131.6 415.7,131.9 415.9,130.7 416.1,132.4 416.3,131.6 416.5,131.4 416.7,131.3 416.9,130.8 417.1,132.2 417.3,131.9 417.5,131.5 417.7,131.5 417.8,131.7 418.0,131.9 418.2,131.0 418.4,132.0 418.6,131.8 418.8,130.9 419.0,130.7 419.2,131.1 419.4,131.9 419.6,131.9 419.8,132.0 420.0,132.1 420.2,131.7 420.4,130.9 420.6,131.4 420.8,131.9 421.0,131.9 421.2,132.1 421.4,131.0 421.6,132.5 421.8,131.4 422.0,132.2 422.2,132.0 422.4,132.2 422.6,131.1 422.8,131.6 423.0,130.3 423.2,132.0 423.3,132.1 423.5,131.3 423.7,131.3 423.9,131.7 424.1,132.5 424.3,130.9 424.5,131.3 424.7,131.4 424.9,131.8 425.1,131.3 425.3,131.8 425.5,131.5 425.7,131.6 425.9,131.0 426.1,131.8 426.3,131.7 426.5,131.0 426.7,131.4 426.9,131.6 427.1,131.7 427.3,131.1 427.5,131.9 427.7,131.3 427.9,130.6 428.1,131.4 428.3,131.9 428.5,132.1 428.7,131.5 428.9,132.1 429.0,132.3 429.2,131.9 429.4,132.1 429.6,131.2 429.8,132.2 430.0,130.8 430.2,131.9 430.4,131.5 430.6,128.7 430.8,124.2 431.0,119.5 431.2,116.1 431.4,112.8 431.6,108.1 431.8,105.3 432.0,101.5 432.2,97.7 432.4,95.3 432.6,92.7 432.8,90.4 433.0,87.5 433.2,85.2 433.4,83.6 433.6,80.7 433.8,79.4 434.0,77.0 434.2,75.6 434.4,73.3 434.5,71.9 434.7,70.8 434.9,69.5 435.1,68.0 435.3,66.4 435.5,65.4 435.7,64.8 435.9,63.7 436.1,62.1 436.3,62.7 436.5,60.9 436.7,60.8 436.9,59.0 437.1,59.1 437.3,58.3 437.5,58.1 437.7,57.0 437.9,56.1 438.1,55.2 438.3,56.1 438.5,55.2 438.7,52.7 438.9,53.7 439.1,53.8 439.3,53.2 439.5,54.3 439.7,52.0 439.9,52.4 440.1,52.8 440.2,51.3 440.4,51.9 440.6,51.9 440.8,50.9 441.0,50.7 441.2,51.0 441.4,50.6 441.6,51.0 441.8,50.9 442.0,49.6 442.2,49.3 442.4,49.6 442.6,49.4 442.8,49.7 443.0,49.4 443.2,49.7 443.4,48.3 443.6,49.3 443.8,48.8 444.0,48.9 444.2,49.5 444.4,47.8 444.6,48.8 444.8,48.9 445.0,48.5 445.2,48.9 445.4,48.4 445.6,48.8 445.7,48.0 445.9,48.2 446.1,48.8 446.3,47.7 446.5,48.0 446.7,48.6 446.9,47.9 447.1,47.8 447.3,47.1 447.5,48.4 447.7,47.5 447.9,47.9 448.1,47.6 448.3,48.0 448.5,47.8 448.7,47.6 448.9,48.3 449.1,48.7 449.3,47.7 449.5,47.9 449.7,47.7 449.9,47.4 450.1,47.8 450.3,47.1 450.5,47.7 450.7,47.6 450.9,47.2 451.1,47.3 451.2,47.7 451.4,47.5 451.6,47.9 451.8,47.9 452.0,47.5 452.2,47.2 452.4,47.8 452.6,47.2 452.8,46.6 453.0,46.5 453.2,47.5 453.4,47.0 453.6,47.2 453.8,47.1 454.0,47.1 454.2,47.3 454.4,47.1 454.6,47.4 454.8,47.6 455.0,47.4 455.2,47.3 455.4,46.9 455.6,47.3 455.8,47.1 456.0,46.8 456.2,47.9 456.4,47.6 456.6,47.2 456.8,47.5 456.9,47.9 457.1,47.0 457.3,47.5 457.5,47.9 457.7,46.6 457.9,48.1 458.1,47.5 458.3,47.8 458.5,47.4 458.7,47.2 458.9,47.8 459.1,47.5 459.3,47.5 459.5,47.9 459.7,46.9 459.9,47.4 460.1,47.6 460.3,47.8 460.5,47.6 460.7,47.4 460.9,47.7 461.1,46.9 461.3,48.6 461.5,48.5 461.7,47.6 461.9,48.3 462.1,47.5 462.3,47.8 462.4,47.2 462.6,47.3 462.8,46.8 463.0,47.0 463.2,46.9 463.4,47.2 463.6,46.9 463.8,47.2 464.0,47.7 464.2,48.0 464.4,48.0 464.6,47.2 464.8,48.6 465.0,47.4 465.2,47.8 465.4,47.1 465.6,47.4 465.8,47.8 466.0,47.4 466.2,48.5 466.4,47.3 466.6,47.2 466.8,48.3 467.0,47.0 467.2,47.5 467.4,47.4 467.6,48.1 467.8,47.2 468.0,47.2 468.1,47.4 468.3,47.9 468.5,47.1 468.7,46.9 468.9,47.3 469.1,47.0 469.3,47.7 469.5,47.4 469.7,47.3 469.9,47.4 470.1,46.1 470.3,47.2 470.5,47.7 470.7,47.0 470.9,47.9 471.1,47.3 471.3,47.1 471.5,47.7 471.7,47.6 471.9,47.9 472.1,47.4 472.3,47.7 472.5,46.6 472.7,47.1 472.9,47.5 473.1,48.1 473.3,46.5 473.5,46.8 473.6,47.2 473.8,47.3 474.0,47.3 474.2,47.6 474.4,46.5 474.6,47.3 474.8,48.1 475.0,47.7 475.2,48.6 475.4,47.1 475.6,47.1 475.8,46.6 476.0,46.4 476.2,47.8 476.4,47.2 476.6,47.0 476.8,47.0 477.0,47.7 477.2,47.0 477.4,47.2 477.6,46.8 477.8,47.4 478.0,47.5 478.2,47.7 478.4,47.6 478.6,47.8 478.8,47.6 479.0,47.2 479.1,47.2 479.3,46.8 479.5,46.9 479.7,47.1 479.9,48.0 480.1,47.2 480.3,46.9 480.5,48.0 480.7,47.9 480.9,47.9 481.1,47.9 481.3,47.6 481.5,47.9 481.7,47.3 481.9,48.0 482.1,47.5 482.3,47.7 482.5,47.9 482.7,47.0 482.9,47.4 483.1,47.2 483.3,47.6 483.5,47.1 483.7,47.2 483.9,47.5 484.1,48.3 484.3,47.1 484.5,47.1 484.7,47.4 484.8,47.3 485.0,47.4 485.2,47.3 485.4,47.9 485.6,47.5 485.8,47.3 486.0,47.7 486.2,47.9 486.4,46.6 486.6,47.2 486.8,47.6 487.0,47.7 487.2,48.7 487.4,48.1 487.6,47.6 487.8,46.8 488.0,48.4 488.2,47.8 488.4,46.5 488.6,47.1 488.8,47.2 489.0,46.9 489.2,47.5 489.4,47.5 489.6,47.1 489.8,47.0 490.0,47.9 490.2,46.7 490.3,48.2 490.5,47.8 490.7,46.0 490.9,47.7 491.1,47.1 491.3,47.9 491.5,47.6 491.7,47.8 491.9,47.6 492.1,47.1 492.3,46.6 492.5,47.0 492.7,46.7 492.9,47.7 493.1,46.8 493.3,47.2 493.5,46.8 493.7,47.6 493.9,47.5 494.1,46.8 494.3,47.2 494.5,47.4 494.7,47.8 494.9,47.5 495.1,47.2 495.3,47.1 495.5,47.7 495.7,47.6 495.9,47.2 496.0,48.0 496.2,47.0 496.4,47.5 496.6,47.5 496.8,48.6 497.0,48.2 497.2,47.9 497.4,47.7 497.6,48.0 497.8,47.3 498.0,47.4 498.2,47.6 498.4,48.4 498.6,46.8 498.8,47.6 499.0,47.2 499.2,47.8 499.4,47.5 499.6,47.1 499.8,47.4 500.0,47.0 500.2,47.6 500.4,46.5 500.6,48.3 500.8,47.7 501.0,47.0 501.2,47.6 501.4,47.7 501.5,48.3 501.7,46.9 501.9,48.4 502.1,47.2 502.3,47.4 502.5,47.1 502.7,46.8 502.9,47.8 503.1,47.8 503.3,47.6 503.5,48.3 503.7,47.1 503.9,47.7 504.1,47.4 504.3,48.0 504.5,47.5 504.7,47.8 504.9,47.5 505.1,48.0 505.3,47.0 505.5,47.8 505.7,48.7 505.9,47.2 506.1,47.6 506.3,47.9 506.5,46.3 506.7,47.5 506.9,48.1 507.0,47.8 507.2,47.3 507.4,47.6 507.6,46.9 507.8,47.0 508.0,47.9 508.2,47.5 508.4,47.2 508.6,47.7 508.8,47.7 509.0,47.1 509.2,47.3 509.4,48.1 509.6,47.7 509.8,47.7 510.0,47.5 510.2,47.8 510.4,46.9 510.6,47.9 510.8,48.0 511.0,47.4 511.2,48.5 511.4,48.0 511.6,47.2 511.8,48.1 512.0,47.9 512.2,47.0 512.4,47.3 512.6,47.5 512.7,47.4 512.9,47.8 513.1,47.3 513.3,47.6 513.5,46.3 513.7,47.2 513.9,47.6 514.1,47.5 514.3,47.5 514.5,48.1 514.7,47.9 514.9,46.8 515.1,48.1 515.3,47.7 515.5,47.0 515.7,46.8 515.9,48.0 516.1,46.8 516.3,47.6 516.5,46.7 516.7,47.2 516.9,47.6 517.1,47.1 517.3,47.2 517.5,47.8 517.7,46.5 517.9,47.6 518.1,46.9 518.2,47.7 518.4,48.3 518.6,48.0 518.8,47.5 519.0,47.2 519.2,46.6 519.4,47.4 519.6,47.6 519.8,48.0 520.0,47.5 520.2,47.3 520.4,48.5 520.6,46.9 520.8,46.9 521.0,46.4 521.2,47.9 521.4,47.5 521.6,47.5 521.8,48.1 522.0,47.9 522.2,47.9 522.4,47.2 522.6,47.3 522.8,46.8 523.0,47.7 523.2,48.1 523.4,47.3 523.6,47.3 523.8,47.2"/>
<polyline stroke="#D95319" points="52.4,131.0 52.6,131.8 52.8,131.2 53.0,132.0 53.2,131.5 53.4,131.2 53.6,131.6 53.8,131.4 54.0,132.2 54.2,131.8 54.4,131.5 54.6,132.1 54.8,131.9 55.0,130.4 55.2,131.4 55.3,131.9 55.5,132.0 55.7,130.9 55.9,132.9 56.1,131.7 56.3,131.3 56.5,131.8 56.7,131.3 56.9,132.1 57.1,131.6 57.3,131.6 57.5,131.6 57.7,131.5 57.9,131.6 58.1,131.1 58.3,131.7 58.5,131.9 58.7,131.7 58.9,131.7 59.1,132.3 59.3,132.5 59.5,132.2 59.7,131.5 59.9,131.9 60.1,131.8 60.3,130.3 60.5,131.1 60.7,131.7 60.8,131.9 61.0,131.0 61.2,132.0 61.4,131.0 61.6,131.3 61.8,130.9 62.0,131.9 62.2,131.2 62.4,132.4 62.6,131.7 62.8,131.1 63.0,131.3 63.2,132.5 63.4,131.3 63.6,131.4 63.8,131.6 64.0,131.9 64.2,131.7 64.4,131.9 64.6,131.2 64.8,131.4 65.0,131.1 65.2,131.3 65.4,132.2 65.6,131.5 65.8,130.6 66.0,132.1 66.2,131.5 66.3,132.0 66.5,132.0 66.7,131.5 66.9,131.2 67.1,131.2 67.3,131.4 67.5,131.2 67.7,132.4 67.9,131.2 68.1,131.4 68.3,131.7 68.5,131.6 68.7,132.0 68.9,131.1 69.1,132.0 69.3,132.3 69.5,131.6 69.7,131.9 69.9,131.6 70.1,130.9 70.3,131.7 70.5,131.5 70.7,130.5 70.9,132.3 71.1,131.4 71.3,131.1 71.5,130.9 71.7,130.5 71.9,131.9 72.0,131.3 72.2,131.6 72.4,131.8 72.6,131.9 72.8,132.3 73.0,131.4 73.2,131.2 73.4,132.1 73.6,131.2 73.8,131.9 74.0,132.1 74.2,132.8 74.4,131.1 74.6,131.3 74.8,131.7 75.0,131.8 75.2,132.2 75.4,131.4 75.6,131.6 75.8,131.3 76.0,131.5 76.2,132.3 76.4,132.3 76.6,131.4 76.8,132.4 77.0,131.5 77.2,131.2 77.4,132.2 77.5,131.3 77.7,131.6 77.9,131.3 78.1,131.9 78.3,131.6 78.5,131.4 78.7,130.7 78.9,131.2 79.1,131.3 79.3,132.2 79.5,131.4 79.7,131.9 79.9,131.6 80.1,131.4 80.3,131.1 80.5,131.3 80.7,131.5 80.9,131.6 81.1,130.9 81.3,132.0 81.5,131.5 81.7,130.9 81.9,131.6 82.1,131.2 82.3,131.1 82.5,130.6 82.7,131.0 82.9,132.3 83.1,131.6 83.2,131.4 83.4,131.2 83.6,131.4 83.8,130.7 84.0,131.0 84.2,132.1 84.4,131.9 84.6,132.5 84.8,130.8 85.0,131.6 85.2,131.6 85.4,132.3 85.6,131.8 85.8,131.4 86.0,131.8 86.2,131.8 86.4,131.9 86.6,130.7 86.8,131.9 87.0,132.3 87.2,131.8 87.4,131.8 87.6,131.7 87.8,131.7 88.0,132.1 88.2,131.7 88.4,131.4 88.6,132.3 88.7,130.7 88.9,130.8 89.1,132.5 89.3,131.8 89.5,131.1 89.7,131.0 89.9,130.8 90.1,132.5 90.3,132.1 90.5,131.9 90.7,131.4 90.9,132.1 91.1,131.4 91.3,131.4 91.5,131.3 91.7,132.2 91.9,131.5 92.1,131.6 92.3,131.8 92.5,131.0 92.7,131.7 92.9,130.9 93.1,131.9 93.3,130.8 93.5,130.8 93.7,132.0 93.9,131.4 94.1,131.4 94.2,132.1 94.4,131.2 94.6,131.3 94.8,132.0 95.0,131.5 95.2,131.2 95.4,131.7 95.6,131.9 95.8,130.8 96.0,132.0 96.2,131.4 96.4,131.0 96.6,131.2 96.8,132.4 97.0,131.7 97.2,131.6 97.4,131.7 97.6,131.3 97.8,131.3 98.0,131.5 98.2,131.4 98.4,131.1 98.6,131.0 98.8,132.4 99.0,130.5 99.2,131.8 99.4,131.2 99.6,132.3 99.8,131.8 99.9,132.1 100.1,131.0 100.3,131.1 100.5,131.5 100.7,131.6 100.9,131.4 101.1,132.0 101.3,131.8 101.5,131.9 101.7,131.2 101.9,131.5 102.1,132.1 102.3,131.4 102.5,131.3 102.7,130.9 102.9,131.8 103.1,131.3 103.3,130.6 103.5,131.7 103.7,131.7 103.9,131.3 104.1,131.8 104.3,131.5 104.5,131.8 104.7,131.9 104.9,131.1 105.1,131.7 105.3,132.0 105.4,131.7 105.6,131.6 105.8,131.4 106.0,131.1 106.2,130.7 106.4,132.1 106.6,131.7 106.8,132.4 107.0,131.4 107.2,131.3 107.4,131.9 107.6,132.0 107.8,132.0 108.0,132.3 108.2,131.3 108.4,130.7 108.6,132.1 108.8,130.8 109.0,131.6 109.2,132.2 109.4,131.3 109.6,131.2 109.8,131.4 110.0,131.7 110.2,130.8 110.4,131.7 110.6,131.3 110.8,131.3 111.0,132.0 111.1,132.4 111.3,132.4 111.5,131.8 111.7,131.4 111.9,132.4 112.1,131.9 112.3,130.8 112.5,132.4 112.7,131.4 112.9,131.4 113.1,131.2 113.3,132.3 113.5,131.4 113.7,132.2 113.9,130.9 114.1,132.0 114.3,131.4 114.5,132.0 114.7,131.5 114.9,132.3 115.1,131.4 115.3,131.3 115.5,131.6 115.7,130.8 115.9,131.4 116.1,131.2 116.3,131.3 116.5,130.7 116.6,131.9 116.8,131.7 117.0,131.7 117.2,131.3 117.4,131.5 117.6,131.2 117.8,131.4 118.0,131.8 118.2,131.6 118.4,131.4 118.6,132.7 118.8,130.9 119.0,131.8 119.2,131.7 119.4,131.4 119.6,131.7 119.8,132.3 120.0,131.7 120.2,130.9 120.4,131.1 120.6,131.0 120.8,131.8 121.0,131.7 121.2,131.1 121.4,130.9 121.6,131.5 121.8,132.0 122.0,132.5 122.1,130.9 122.3,132.3 122.5,131.3 122.7,131.1 122.9,130.0 123.1,131.5 123.3,131.6 123.5,131.3 123.7,131.3 123.9,130.9 124.1,131.2 124.3,131.9 124.5,132.5 124.7,131.4 124.9,131.9 125.1,130.9 125.3,132.2 125.5,131.4 125.7,131.9 125.9,132.0 126.1,130.7 126.3,131.5 126.5,131.6 126.7,131.2 126.9,131.9 127.1,131.7 127.3,131.8 127.5,130.6 127.7,131.4 127.8,131.2 128.0,131.0 128.2,131.6 128.4,131.6 128.6,132.3 128.8,131.3 129.0,131.4 129.2,131.7 129.4,131.0 129.6,132.4 129.8,131.3 130.0,132.2 130.2,132.1 130.4,131.6 130.6,130.9 130.8,132.1 131.0,132.0 131.2,132.1 131.4,130.6 131.6,131.3 131.8,131.3 132.0,130.5 132.2,131.4 132.4,132.6 132.6,131.8 132.8,132.1 133.0,130.6 133.2,132.2 133.3,131.4 133.5,131.8 133.7,131.7 133.9,131.5 134.1,131.6 134.3,131.9 134.5,132.1 134.7,131.9 134.9,132.0 135.1,132.0 135.3,131.5 135.5,131.6 135.7,131.3 135.9,131.7 136.1,130.6 136.3,131.9 136.5,132.0 136.7,131.0 136.9,131.9 137.1,131.5 137.3,131.1 137.5,131.6 137.7,131.7 137.9,131.1 138.1,131.4 138.3,131.8 138.5,132.1 138.7,131.7 138.9,132.3 139.0,132.0 139.2,132.1 139.4,131.4 139.6,131.2 139.8,131.9 140.0,131.8 140.2,132.1 140.4,132.2 140.6,131.8 140.8,131.3 141.0,131.3 141.2,131.3 141.4,131.7 141.6,132.9 141.8,131.1 142.0,130.9 142.2,131.1 142.4,131.1 142.6,131.0 142.8,130.2 143.0,131.4 143.2,130.8 143.4,131.1 143.6,131.2 143.8,131.6 144.0,131.7 144.2,132.1 144.4,131.3 144.5,131.7 144.7,132.1 144.9,131.9 145.1,132.1 145.3,130.8 145.5,131.7 145.7,131.5 145.9,132.1 146.1,132.0 146.3,131.0 146.5,131.6 146.7,131.4 146.9,130.6 147.1,130.5 147.3,131.2 147.5,131.3 147.7,131.4 147.9,131.7 148.1,130.6 148.3,132.1 148.5,131.6 148.7,132.5 148.9,132.1 149.1,131.3 149.3,131.3 149.5,131.4 149.7,131.7 149.9,131.9 150.0,131.8 150.2,131.7 150.4,131.0 150.6,130.8 150.8,131.3 151.0,131.8 151.2,132.0 151.4,131.4 151.6,131.6 151.8,132.4 152.0,130.9 152.2,131.5 152.4,131.7 152.6,132.0 152.8,132.0 153.0,131.1 153.2,132.0 153.4,131.5 153.6,131.2 153.8,130.6 154.0,131.2 154.2,131.5 154.4,131.7 154.6,131.1 154.8,131.0 155.0,131.7 155.2,131.2 155.4,131.6 155.6,132.3 155.7,132.0 155.9,131.1 156.1,130.8 156.3,131.2 156.5,131.6 156.7,131.9 156.9,131.3 157.1,131.4 157.3,132.3 157.5,131.2 157.7,131.9 157.9,131.2 158.1,131.3 158.3,131.2 158.5,131.0 158.7,131.2 158.9,132.0 159.1,132.0 159.3,131.0 159.5,131.3 159.7,132.3 159.9,132.5 160.1,131.1 160.3,130.5 160.5,131.1 160.7,131.6 160.9,131.4 161.1,132.9 161.2,132.0 161.4,131.0 161.6,131.1 161.8,132.6 162.0,131.0 162.2,131.3 162.4,131.1 162.6,131.6 162.8,131.5 163.0,132.1 163.2,131.4 163.4,131.1 163.6,132.0 163.8,131.4 164.0,131.8 164.2,131.0 164.4,131.1 164.6,132.7 164.8,131.3 165.0,131.0 165.2,131.8 165.4,131.6 165.6,131.6 165.8,132.1 166.0,131.6 166.2,130.8 166.4,131.3 166.6,130.8 166.8,131.1 166.9,131.0 167.1,131.5 167.3,131.2 167.5,130.6 167.7,130.8 167.9,131.4 168.1,131.9 168.3,132.0 168.5,131.4 168.7,131.3 168.9,132.4 169.1,131.4 169.3,131.4 169.5,131.4 169.7,131.8 169.9,130.4 170.1,131.1 170.3,132.2 170.5,131.9 170.7,131.1 170.9,131.3 171.1,131.5 171.3,131.5 171.5,131.6 171.7,131.8 171.9,132.0 172.1,131.3 172.3,132.9 172.4,131.9 172.6,130.9 172.8,131.9 173.0,132.1 173.2,130.6 173.4,131.0 173.6,131.6 173.8,131.8 174.0,131.7 174.2,131.7 174.4,131.7 174.6,131.9 174.8,131.3 175.0,131.8 175.2,132.4 175.4,132.2 175.6,131.6 175.8,132.0 176.0,132.8 176.2,130.8 176.4,131.3 176.6,131.8 176.8,131.8 177.0,131.3 177.2,130.9 177.4,131.9 177.6,131.4 177.8,131.9 177.9,131.4 178.1,132.1 178.3,132.4 178.5,131.5 178.7,131.6 178.9,131.2 179.1,131.9 179.3,130.9 179.5,131.5 179.7,130.8 179.9,131.7 180.1,130.8 180.3,131.6 180.5,131.5 180.7,131.1 180.9,132.4 181.1,132.1 181.3,130.7 181.5,132.3 181.7,131.8 181.9,131.3 182.1,130.9 182.3,131.8 182.5,131.5 182.7,132.1 182.9,131.8 183.1,131.1 183.3,131.4 183.5,131.6 183.6,131.4 183.8,131.5 184.0,131.5 184.2,131.7 184.4,132.0 184.6,131.2 184.8,132.1 185.0,131.1 185.2,130.5 185.4,130.8 185.6,130.4 185.8,132.1 186.0,131.4 186.2,132.0 186.4,131.9 186.6,132.4 186.8,132.1 187.0,131.1 187.2,131.2 187.4,131.0 187.6,131.0 187.8,131.2 188.0,131.9 188.2,131.6 188.4,131.2 188.6,130.9 188.8,131.7 189.0,131.8 189.1,131.8 189.3,130.8 189.5,131.3 189.7,131.7 189.9,131.9 190.1,131.3 190.3,132.3 190.5,131.6 190.7,131.8 190.9,131.8 191.1,131.4 191.3,131.3 191.5,130.1 191.7,131.5 191.9,131.2 192.1,131.9 192.3,132.3 192.5,131.0 192.7,130.6 192.9,132.0 193.1,131.6 193.3,131.0 193.5,131.5 193.7,132.7 193.9,131.0 194.1,131.6 194.3,131.2 194.5,132.0 194.6,131.1 194.8,131.0 195.0,131.9 195.2,131.3 195.4,131.8 195.6,131.8 195.8,132.0 196.0,131.7 196.2,131.9 196.4,131.0 196.6,131.6 196.8,132.1 197.0,130.9 197.2,131.3 197.4,131.1 197.6,131.6 197.8,131.2 198.0,131.6 198.2,132.0 198.4,131.5 198.6,131.5 198.8,131.5 199.0,131.1 199.2,132.4 199.4,131.4 199.6,131.9 199.8,131.7 200.0,131.3 200.2,131.5 200.3,131.8 200.5,131.2 200.7,131.5 200.9,131.1 201.1,130.9 201.3,131.7 201.5,132.0 201.7,131.5 201.9,131.1 202.1,131.4 202.3,132.1 202.5,132.3 202.7,132.0 202.9,132.0 203.1,131.2 203.3,131.5 203.5,131.1 203.7,131.5 203.9,130.7 204.1,131.5 204.3,131.2 204.5,131.7 204.7,131.3 204.9,131.0 205.1,131.1 205.3,130.9 205.5,131.8 205.7,131.3 205.8,130.7 206.0,131.4 206.2,131.6 206.4,131.6 206.6,131.7 206.8,131.4 207.0,130.8 207.2,131.3 207.4,131.5 207.6,131.9 207.8,132.0 208.0,130.4 208.2,131.7 208.4,131.5 208.6,131.7 208.8,131.4 209.0,131.7 209.2,131.5 209.4,130.8 209.6,131.9 209.8,131.3 210.0,131.5 210.2,131.2 210.4,131.8 210.6,131.3 210.8,132.0 211.0,132.4 211.2,132.1 211.4,132.0 211.5,132.0 211.7,131.7 211.9,131.0 212.1,132.1 212.3,131.3 212.5,131.5 212.7,131.9 212.9,132.0 213.1,131.3 213.3,131.3 213.5,131.7 213.7,131.6 213.9,131.5 214.1,132.2 214.3,131.5 214.5,131.4 214.7,130.7 214.9,132.1 215.1,131.9 215.3,131.5 215.5,131.8 215.7,131.7 215.9,131.5 216.1,131.7 216.3,131.5 216.5,131.3 216.7,132.3 216.9,131.3 217.0,132.6 217.2,130.7 217.4,131.1 217.6,131.8 217.8,131.1 218.0,131.6 218.2,131.3 218.4,131.2 218.6,131.4 218.8,131.5 219.0,131.2 219.2,131.6 219.4,131.7 219.6,132.0 219.8,132.4 220.0,130.8 220.2,131.2 220.4,132.2 220.6,131.3 220.8,131.4 221.0,132.6 221.2,131.9 221.4,131.6 221.6,130.7 221.8,131.0 222.0,130.9 222.2,131.4 222.4,131.1 222.5,132.1 222.7,131.2 222.9,131.2 223.1,132.1 223.3,131.4 223.5,130.8 223.7,130.6 223.9,130.9 224.1,131.8 224.3,131.6 224.5,131.8 224.7,130.9 224.9,131.9 225.1,132.0 225.3,132.3 225.5,131.4 225.7,131.3 225.9,131.8 226.1,131.9 226.3,131.6 226.5,130.9 226.7,132.1 226.9,131.5 227.1,131.4 227.3,131.3 227.5,130.9 227.7,131.1 227.9,131.4 228.1,130.8 228.2,131.0 228.4,131.4 228.6,131.4 228.8,132.1 229.0,131.4 229.2,131.9 229.4,132.0 229.6,131.6 229.8,132.3 230.0,131.9 230.2,131.8 230.4,131.4 230.6,131.7 230.8,131.3 231.0,130.8 231.2,131.1 231.4,132.1 231.6,132.3 231.8,131.9 232.0,131.9 232.2,132.5 232.4,132.3 232.6,132.3 232.8,131.8 233.0,130.9 233.2,130.7 233.4,132.0 233.6,131.8 233.7,132.2 233.9,132.3 234.1,131.6 234.3,131.5 234.5,131.9 234.7,131.3 234.9,131.7 235.1,131.1 235.3,131.8 235.5,131.2 235.7,131.7 235.9,131.5 236.1,131.3 236.3,132.2 236.5,131.9 236.7,131.6 236.9,131.7 237.1,131.5 237.3,132.0 237.5,132.2 237.7,131.6 237.9,131.4 238.1,132.0 238.3,131.0 238.5,131.3 238.7,131.2 238.9,131.2 239.1,132.0 239.3,130.6 239.4,131.9 239.6,131.4 239.8,131.2 240.0,131.4 240.2,131.5 240.4,131.9 240.6,131.7 240.8,131.5 241.0,130.9 241.2,131.8 241.4,131.2 241.6,131.3 241.8,131.5 242.0,131.8 242.2,131.6 242.4,132.3 242.6,131.5 242.8,131.4 243.0,131.7 243.2,131.3 243.4,131.4 243.6,131.8 243.8,131.1 244.0,131.7 244.2,130.4 244.4,132.0 244.6,131.9 244.8,131.8 244.9,131.4 245.1,131.0 245.3,131.4 245.5,131.7 245.7,130.6 245.9,131.0 246.1,131.6 246.3,131.5 246.5,132.2 246.7,131.5 246.9,130.7 247.1,132.0 247.3,132.2 247.5,131.4 247.7,132.6 247.9,130.9 248.1,132.2 248.3,131.8 248.5,131.6 248.7,131.0 248.9,131.3 249.1,132.4 249.3,132.3 249.5,131.4 249.7,132.5 249.9,131.7 250.1,131.9 250.3,131.2 250.4,131.0 250.6,132.7 250.8,131.3 251.0,131.2 251.2,131.9 251.4,131.8 251.6,132.1 251.8,131.7 252.0,131.4 252.2,130.9 252.4,130.9 252.6,131.7 252.8,131.9 253.0,131.1 253.2,132.8 253.4,132.2 253.6,131.3 253.8,130.5 254.0,131.9 254.2,131.5 254.4,132.1 254.6,131.6 254.8,131.6 255.0,131.9 255.2,131.4 255.4,131.6 255.6,131.3 255.8,131.6 256.0,132.1 256.1,131.5 256.3,131.1 256.5,131.9 256.7,130.9 256.9,131.3 257.1,131.7 257.3,131.5 257.5,131.7 257.7,132.0 257.9,131.1 258.1,131.1 258.3,131.7 258.5,131.6 258.7,131.6 258.9,131.2 259.1,130.9 259.3,131.8 259.5,131.4 259.7,131.5 259.9,131.3 260.1,130.9 260.3,131.9 260.5,132.5 260.7,131.6 260.9,132.3 261.1,130.8 261.3,131.9 261.5,131.7 261.6,131.4 261.8,131.4 262.0,131.7 262.2,131.5 262.4,131.1 262.6,131.7 262.8,130.7 263.0,131.4 263.2,132.6 263.4,131.1 263.6,132.3 263.8,131.4 264.0,130.5 264.2,131.0 264.4,132.1 264.6,131.9 264.8,131.5 265.0,130.8 265.2,131.9 265.4,131.0 265.6,131.4 265.8,131.6 266.0,131.6 266.2,130.7 266.4,132.2 266.6,132.1 266.8,131.1 267.0,131.1 267.2,132.1 267.3,132.0 267.5,132.1 267.7,131.3 267.9,131.8 268.1,130.9 268.3,131.2 268.5,131.4 268.7,131.4 268.9,131.3 269.1,131.1 269.3,131.5 269.5,131.4 269.7,131.2 269.9,131.6 270.1,131.1 270.3,131.6 270.5,131.9 270.7,131.4 270.9,130.8 271.1,130.8 271.3,132.3 271.5,131.4 271.7,131.8 271.9,131.7 272.1,131.7 272.3,131.6 272.5,131.8 272.7,131.7 272.8,131.4 273.0,132.1 273.2,132.1 273.4,132.1 273.6,132.1 273.8,131.3 274.0,132.0 274.2,131.6 274.4,131.5 274.6,131.2 274.8,131.5 275.0,131.0 275.2,131.6 275.4,131.4 275.6,131.2 275.8,132.2 276.0,131.4 276.2,130.8 276.4,131.5 276.6,131.6 276.8,130.6 277.0,131.5 277.2,131.0 277.4,132.6 277.6,131.5 277.8,131.8 278.0,131.4 278.2,131.0 278.3,131.6 278.5,131.6 278.7,132.8 278.9,131.2 279.1,130.9 279.3,131.5 279.5,131.8 279.7,131.4 279.9,131.1 280.1,131.2 280.3,130.6 280.5,131.8 280.7,132.2 280.9,131.3 281.1,130.9 281.3,131.7 281.5,131.5 281.7,131.8 281.9,132.1 282.1,131.9 282.3,132.5 282.5,131.4 282.7,131.3 282.9,131.1 283.1,131.9 283.3,131.8 283.5,132.3 283.7,132.2 283.9,131.1 284.0,130.2 284.2,132.0 284.4,131.7 284.6,131.1 284.8,131.9 285.0,131.3 285.2,131.7 285.4,131.7 285.6,131.1 285.8,131.7 286.0,132.1 286.2,131.2 286.4,131.5 286.6,131.8 286.8,131.9 287.0,131.3 287.2,131.9 287.4,131.5 287.6,131.1 287.8,131.6 288.0,131.0 288.2,132.2 288.4,131.3 288.6,131.3 288.8,130.7 289.0,131.5 289.2,131.1 289.4,131.6 289.5,132.0 289.7,131.9 289.9,131.9 290.1,131.2 290.3,131.9 290.5,131.5 290.7,131.1 290.9,131.0 291.1,131.1 291.3,130.8 291.5,132.1 291.7,131.8 291.9,131.4 292.1,131.0 292.3,131.3 292.5,131.9 292.7,131.6 292.9,132.3 293.1,131.2 293.3,132.4 293.5,131.4 293.7,131.0 293.9,131.1 294.1,132.3 294.3,131.4 294.5,131.7 294.7,131.7 294.9,130.8 295.0,131.4 295.2,132.2 295.4,132.0 295.6,131.2 295.8,131.4 296.0,132.1 296.2,132.3 296.4,131.8 296.6,131.7 296.8,131.2 297.0,131.8 297.2,131.2 297.4,131.0 297.6,132.3 297.8,131.8 298.0,130.8 298.2,131.7 298.4,131.5 298.6,131.1 298.8,131.9 299.0,131.7 299.2,132.3 299.4,131.3 299.6,131.8 299.8,131.7 300.0,132.7 300.2,131.1 300.4,131.2 300.6,131.9 300.7,131.0 300.9,132.7 301.1,131.6 301.3,132.3 301.5,130.3 301.7,132.8 301.9,132.1 302.1,131.9 302.3,131.2 302.5,131.2 302.7,131.4 302.9,131.7 303.1,130.6 303.3,131.9 303.5,131.4 303.7,130.7 303.9,132.1 304.1,131.9 304.3,131.1 304.5,131.4 304.7,132.2 304.9,131.6 305.1,130.7 305.3,131.7 305.5,131.2 305.7,131.5 305.9,131.9 306.1,130.8 306.2,131.1 306.4,131.0 306.6,131.6 306.8,131.5 307.0,131.5 307.2,131.4 307.4,131.7 307.6,131.8 307.8,131.0 308.0,132.1 308.2,131.8 308.4,131.7 308.6,131.8 308.8,132.1 309.0,131.9 309.2,131.2 309.4,131.7 309.6,131.9 309.8,130.8 310.0,132.2 310.2,131.1 310.4,131.4 310.6,132.2 310.8,131.8 311.0,131.8 311.2,131.0 311.4,131.1 311.6,131.7 311.8,132.1 311.9,132.4 312.1,131.7 312.3,132.2 312.5,131.7 312.7,131.7 312.9,131.4 313.1,131.1 313.3,131.5 313.5,131.4 313.7,131.7 313.9,131.1 314.1,131.2 314.3,130.8 314.5,130.9 314.7,131.9 314.9,132.3 315.1,131.3 315.3,131.0 315.5,131.9 315.7,130.9 315.9,131.5 316.1,131.6 316.3,131.4 316.5,132.2 316.7,132.3 316.9,131.7 317.1,132.1 317.3,131.6 317.4,131.6 317.6,132.8 317.8,132.0 318.0,131.3 318.2,132.7 318.4,131.7 318.6,132.2 318.8,132.5 319.0,131.1 319.2,131.1 319.4,131.8 319.6,131.8 319.8,130.9 320.0,131.0 320.2,131.6 320.4,131.2 320.6,131.5 320.8,131.7 321.0,131.3 321.2,131.8 321.4,131.3 321.6,131.7 321.8,131.8 322.0,131.9 322.2,131.4 322.4,131.2 322.6,131.4 322.8,132.0 322.9,131.3 323.1,132.0 323.3,132.1 323.5,131.7 323.7,131.2 323.9,131.3 324.1,131.3 324.3,131.0 324.5,131.2 324.7,131.8 324.9,131.2 325.1,131.7 325.3,131.4 325.5,131.3 325.7,131.6 325.9,132.3 326.1,131.7 326.3,131.7 326.5,131.6 326.7,131.8 326.9,132.1 327.1,132.3 327.3,131.3 327.5,131.2 327.7,131.4 327.9,131.6 328.1,130.7 328.3,131.3 328.5,131.6 328.6,131.2 328.8,131.6 329.0,131.2 329.2,131.4 329.4,131.3 329.6,131.5 329.8,131.8 330.0,131.3 330.2,131.0 330.4,132.0 330.6,131.8 330.8,132.1 331.0,131.2 331.2,131.7 331.4,131.1 331.6,131.9 331.8,131.2 332.0,131.8 332.2,131.8 332.4,131.3 332.6,131.7 332.8,131.8 333.0,131.1 333.2,131.6 333.4,131.0 333.6,130.4 333.8,131.8 334.0,131.7 334.1,132.3 334.3,132.1 334.5,131.3 334.7,131.4 334.9,131.4 335.1,131.3 335.3,131.9 335.5,132.3 335.7,131.1 335.9,131.4 336.1,131.0 336.3,131.6 336.5,131.2 336.7,131.8 336.9,131.6 337.1,131.6 337.3,131.4 337.5,130.9 337.7,131.3 337.9,132.9 338.1,131.6 338.3,131.5 338.5,131.2 338.7,131.5 338.9,131.9 339.1,131.9 339.3,131.7 339.5,131.9 339.7,130.9 339.8,131.3 340.0,131.5 340.2,131.1 340.4,130.6 340.6,131.6 340.8,131.6 341.0,131.7 341.2,132.1 341.4,131.8 341.6,132.0 341.8,131.3 342.0,131.3 342.2,131.1 342.4,131.9 342.6,131.1 342.8,132.0 343.0,131.6 343.2,130.9 343.4,131.0 343.6,131.0 343.8,130.6 344.0,131.1 344.2,131.7 344.4,131.6 344.6,131.9 344.8,131.4 345.0,131.9 345.2,131.8 345.3,132.0 345.5,132.3 345.7,130.4 345.9,131.1 346.1,132.5 346.3,131.3 346.5,131.8 346.7,132.5 346.9,131.6 347.1,131.4 347.3,131.3 347.5,131.0 347.7,131.9 347.9,131.6 348.1,131.2 348.3,131.3 348.5,131.4 348.7,131.5 348.9,131.0 349.1,132.1 349.3,132.2 349.5,130.7 349.7,131.3 349.9,131.0 350.1,131.4 350.3,131.7 350.5,131.7 350.7,131.5 350.8,131.7 351.0,131.6 351.2,131.6 351.4,131.1 351.6,131.2 351.8,130.8 352.0,131.8 352.2,131.5 352.4,131.1 352.6,131.4 352.8,132.6 353.0,131.3 353.2,131.5 353.4,131.7 353.6,131.7 353.8,131.8 354.0,131.0 354.2,131.2 354.4,131.4 354.6,131.0 354.8,131.1 355.0,131.9 355.2,132.0 355.4,132.0 355.6,131.2 355.8,131.5 356.0,130.9 356.2,131.3 356.4,131.6 356.5,132.1 356.7,131.6 356.9,130.5 357.1,131.8 357.3,131.9 357.5,131.6 357.7,130.9 357.9,131.5 358.1,132.0 358.3,131.8 358.5,131.5 358.7,131.4 358.9,131.0 359.1,130.3 359.3,130.9 359.5,131.2 359.7,131.5 359.9,131.9 360.1,131.2 360.3,130.9 360.5,131.1 360.7,131.5 360.9,131.2 361.1,131.6 361.3,131.6 361.5,131.6 361.7,131.5 361.9,131.5 362.0,131.0 362.2,131.5 362.4,131.5 362.6,131.0 362.8,131.2 363.0,131.0 363.2,131.8 363.4,130.9 363.6,131.5 363.8,132.0 364.0,131.6 364.2,132.1 364.4,132.0 364.6,131.7 364.8,131.1 365.0,132.1 365.2,131.4 365.4,131.6 365.6,130.8 365.8,131.4 366.0,131.2 366.2,130.9 366.4,132.0 366.6,131.7 366.8,132.2 367.0,131.9 367.2,131.4 367.4,131.6 367.6,131.3 367.7,131.7 367.9,131.8 368.1,131.6 368.3,131.9 368.5,132.0 368.7,132.2 368.9,131.6 369.1,131.3 369.3,132.1 369.5,131.7 369.7,132.6 369.9,132.1 370.1,131.5 370.3,132.1 370.5,131.4 370.7,131.7 370.9,131.4 371.1,131.8 371.3,132.2 371.5,131.6 371.7,131.2 371.9,131.8 372.1,131.4 372.3,131.9 372.5,131.7 372.7,131.0 372.9,131.6 373.1,132.0 373.2,131.3 373.4,131.5 373.6,131.8 373.8,131.2 374.0,132.9 374.2,131.3 374.4,130.7 374.6,131.4 374.8,132.4 375.0,130.9 375.2,130.4 375.4,131.3 375.6,132.0 375.8,131.9 376.0,131.6 376.2,131.5 376.4,131.0 376.6,131.3 376.8,132.6 377.0,131.7 377.2,131.6 377.4,130.7 377.6,131.8 377.8,132.2 378.0,131.7 378.2,131.4 378.4,132.4 378.6,131.1 378.7,131.6 378.9,131.2 379.1,131.2 379.3,131.3 379.5,130.9 379.7,130.8 379.9,131.7 380.1,131.6 380.3,131.1 380.5,131.5 380.7,131.8 380.9,131.5 381.1,131.9 381.3,131.8 381.5,133.1 381.7,131.5 381.9,130.7 382.1,131.2 382.3,131.2 382.5,131.5 382.7,131.9 382.9,131.3 383.1,131.5 383.3,131.6 383.5,131.4 383.7,131.8 383.9,131.5 384.1,131.2 384.3,131.1 384.4,131.5 384.6,131.2 384.8,131.5 385.0,132.6 385.2,132.4 385.4,131.6 385.6,132.0 385.8,131.3 386.0,132.1 386.2,131.7 386.4,131.8 386.6,131.9 386.8,131.8 387.0,131.5 387.2,131.5 387.4,131.8 387.6,131.5 387.8,131.3 388.0,131.6 388.2,131.8 388.4,131.8 388.6,131.8 388.8,131.8 389.0,131.5 389.2,130.3 389.4,131.0 389.6,131.5 389.8,131.3 389.9,131.3 390.1,131.0 390.3,130.9 390.5,132.0 390.7,130.5 390.9,131.9 391.1,131.5 391.3,131.9 391.5,132.3 391.7,132.3 391.9,130.6 392.1,130.8 392.3,132.0 392.5,132.0 392.7,130.8 392.9,132.0 393.1,131.3 393.3,130.6 393.5,131.2 393.7,130.8 393.9,131.4 394.1,132.3 394.3,131.9 394.5,132.3 394.7,131.4 394.9,132.1 395.1,131.5 395.3,131.7 395.5,131.8 395.6,131.3 395.8,131.7 396.0,131.9 396.2,131.1 396.4,131.5 396.6,132.2 396.8,131.0 397.0,132.2 397.2,131.4 397.4,131.3 397.6,131.6 397.8,131.9 398.0,131.7 398.2,131.7 398.4,132.0 398.6,131.1 398.8,131.8 399.0,131.9 399.2,130.9 399.4,131.9 399.6,132.2 399.8,131.6 400.0,131.5 400.2,131.5 400.4,130.6 400.6,131.8 400.8,130.9 401.0,131.1 401.1,130.9 401.3,131.6 401.5,131.7 401.7,131.6 401.9,131.4 402.1,131.1 402.3,130.8 402.5,132.3 402.7,131.0 402.9,131.4 403.1,131.5 403.3,132.0 403.5,131.4 403.7,132.4 403.9,130.9 404.1,131.9 404.3,131.6 404.5,131.6 404.7,131.3 404.9,132.1 405.1,131.1 405.3,131.3 405.5,130.8 405.7,131.4 405.9,131.6 406.1,132.4 406.3,131.7 406.5,130.8 406.6,131.7 406.8,131.7 407.0,131.6 407.2,131.1 407.4,132.3 407.6,130.7 407.8,131.2 408.0,131.2 408.2,131.5 408.4,130.6 408.6,131.7 408.8,131.1 409.0,131.5 409.2,132.1 409.4,131.6 409.6,131.2 409.8,131.6 410.0,131.7 410.2,131.5 410.4,131.9 410.6,132.0 410.8,131.5 411.0,132.0 411.2,131.3 411.4,131.2 411.6,130.9 411.8,131.1 412.0,131.6 412.2,131.3 412.3,132.0 412.5,131.3 412.7,131.7 412.9,130.9 413.1,131.8 413.3,131.4 413.5,131.9 413.7,131.2 413.9,131.2 414.1,132.0 414.3,130.6 414.5,131.3 414.7,132.2 414.9,131.9 415.1,132.4 415.3,132.4 415.5,131.6 415.7,132.5 415.9,131.3 416.1,132.3 416.3,131.7 416.5,130.7 416.7,131.7 416.9,131.5 417.1,131.0 417.3,131.7 417.5,131.3 417.7,131.9 417.8,131.7 418.0,131.5 418.2,131.5 418.4,131.9 418.6,131.4 418.8,131.2 419.0,131.2 419.2,131.5 419.4,132.0 419.6,131.2 419.8,131.1 420.0,132.0 420.2,132.6 420.4,131.6 420.6,131.1 420.8,131.1 421.0,132.1 421.2,130.9 421.4,131.9 421.6,131.1 421.8,131.7 422.0,131.1 422.2,131.3 422.4,131.6 422.6,131.2 422.8,131.8 423.0,131.7 423.2,131.7 423.3,131.9 423.5,131.1 423.7,131.1 423.9,131.5 424.1,132.0 424.3,131.3 424.5,131.4 424.7,131.3 424.9,131.5 425.1,131.6 425.3,130.9 425.5,131.8 425.7,131.6 425.9,132.4 426.1,131.7 426.3,131.8 426.5,131.7 426.7,131.3 426.9,131.8 427.1,131.4 427.3,131.7 427.5,131.8 427.7,132.4 427.9,131.4 428.1,131.3 428.3,132.0 428.5,131.8 428.7,132.4 428.9,131.7 429.0,132.1 429.2,131.4 429.4,131.6 429.6,132.1 429.8,133.8 430.0,135.1 430.2,135.3 430.4,136.3 430.6,136.0 430.8,137.6 431.0,137.7 431.2,138.9 431.4,139.9 431.6,141.1 431.8,141.1 432.0,141.3 432.2,142.1 432.4,142.5 432.6,143.0 432.8,144.2 433.0,143.9 433.2,144.9 433.4,144.9 433.6,144.7 433.8,146.6 434.0,146.1 434.2,146.2 434.4,146.2 434.5,146.9 434.7,147.6 434.9,147.2 435.1,147.5 435.3,148.8 435.5,148.2 435.7,149.3 435.9,149.9 436.1,149.4 436.3,149.5 436.5,150.3 436.7,148.6 436.9,150.2 437.1,149.6 437.3,149.6 437.5,149.1 437.7,150.4 437.9,149.6 438.1,151.0 438.3,150.6 438.5,150.9 438.7,151.3 438.9,150.8 439.1,150.1 439.3,150.1 439.5,150.9 439.7,151.8 439.9,151.7 440.1,151.2 440.2,151.2 440.4,151.3 440.6,151.8 440.8,152.1 441.0,151.6 441.2,151.8 441.4,151.2 441.6,152.3 441.8,151.6 442.0,151.4 442.2,151.2 442.4,151.2 442.6,152.6 442.8,152.7 443.0,152.2 443.2,152.7 443.4,153.4 443.6,151.6 443.8,152.1 444.0,151.9 444.2,152.3 444.4,151.9 444.6,152.3 444.8,152.4 445.0,151.6 445.2,153.1 445.4,152.3 445.6,153.3 445.7,151.9 445.9,152.7 446.1,153.2 446.3,153.5 446.5,152.8 446.7,151.8 446.9,152.5 447.1,153.4 447.3,153.7 447.5,151.4 447.7,153.0 447.9,153.4 448.1,152.7 448.3,152.5 448.5,152.0 448.7,152.9 448.9,153.1 449.1,152.5 449.3,153.2 449.5,152.7 449.7,152.7 449.9,152.4 450.1,153.2 450.3,153.2 450.5,152.7 450.7,152.6 450.9,153.6 451.1,153.3 451.2,152.8 451.4,153.1 451.6,151.8 451.8,152.6 452.0,152.3 452.2,152.9 452.4,152.9 452.6,152.9 452.8,152.4 453.0,153.1 453.2,152.2 453.4,153.3 453.6,152.5 453.8,152.8 454.0,153.1 454.2,152.2 454.4,152.5 454.6,153.0 454.8,153.3 455.0,152.5 455.2,153.3 455.4,152.7 455.6,153.4 455.8,152.9 456.0,153.3 456.2,153.0 456.4,152.2 456.6,152.1 456.8,153.2 456.9,153.1 457.1,153.7 457.3,152.8 457.5,152.4 457.7,153.4 457.9,153.4 458.1,152.8 458.3,153.2 458.5,152.9 458.7,152.2 458.9,152.7 459.1,152.6 459.3,152.1 459.5,152.8 459.7,152.6 459.9,152.9 460.1,153.3 460.3,152.2 460.5,153.6 460.7,152.9 460.9,153.5 461.1,153.3 461.3,153.6 461.5,153.1 461.7,152.7 461.9,152.4 462.1,153.8 462.3,152.9 462.4,153.1 462.6,153.3 462.8,153.0 463.0,152.9 463.2,153.0 463.4,153.0 463.6,151.9 463.8,152.9 464.0,152.8 464.2,153.5 464.4,152.5 464.6,153.2 464.8,153.0 465.0,153.3 465.2,153.0 465.4,153.4 465.6,153.6 465.8,153.6 466.0,153.1 466.2,153.0 466.4,152.6 466.6,152.2 466.8,152.1 467.0,153.3 467.2,153.3 467.4,152.6 467.6,153.4 467.8,152.4 468.0,152.5 468.1,153.4 468.3,152.6 468.5,152.3 468.7,152.7 468.9,153.1 469.1,153.0 469.3,152.7 469.5,153.3 469.7,152.8 469.9,153.1 470.1,153.3 470.3,153.4 470.5,152.7 470.7,153.4 470.9,152.8 471.1,153.8 471.3,153.0 471.5,152.9 471.7,152.8 471.9,152.5 472.1,152.7 472.3,152.7 472.5,153.1 472.7,153.4 472.9,153.5 473.1,153.3 473.3,152.8 473.5,152.5 473.6,152.8 473.8,152.8 474.0,152.6 474.2,153.1 474.4,152.9 474.6,153.0 474.8,152.8 475.0,153.0 475.2,153.5 475.4,153.1 475.6,153.3 475.8,152.1 476.0,152.3 476.2,153.2 476.4,153.3 476.6,152.9 476.8,153.6 477.0,152.4 477.2,153.0 477.4,153.2 477.6,152.5 477.8,152.4 478.0,152.9 478.2,152.5 478.4,153.7 478.6,153.3 478.8,153.3 479.0,153.7 479.1,152.6 479.3,151.8 479.5,153.6 479.7,153.2 479.9,152.5 480.1,153.1 480.3,153.0 480.5,153.3 480.7,152.8 480.9,153.4 481.1,152.6 481.3,152.7 481.5,152.8 481.7,153.3 481.9,153.1 482.1,152.7 482.3,153.4 482.5,153.4 482.7,154.0 482.9,153.2 483.1,153.0 483.3,152.5 483.5,153.5 483.7,153.6 483.9,152.4 484.1,152.5 484.3,153.5 484.5,153.2 484.7,153.8 484.8,153.0 485.0,152.4 485.2,152.6 485.4,153.5 485.6,152.8 485.8,153.3 486.0,152.8 486.2,153.2 486.4,152.7 486.6,152.4 486.8,152.8 487.0,152.8 487.2,152.8 487.4,152.6 487.6,153.2 487.8,153.0 488.0,153.0 488.2,152.4 488.4,152.9 488.6,152.7 488.8,153.1 489.0,153.6 489.2,153.1 489.4,152.7 489.6,153.1 489.8,153.2 490.0,153.1 490.2,152.7 490.3,152.8 490.5,153.0 490.7,153.4 490.9,153.3 491.1,151.3 491.3,153.0 491.5,152.7 491.7,152.8 491.9,153.6 492.1,152.4 492.3,152.9 492.5,153.4 492.7,152.6 492.9,153.2 493.1,152.8 493.3,153.6 493.5,153.0 493.7,152.7 493.9,153.2 494.1,153.6 494.3,153.3 494.5,152.7 494.7,153.7 494.9,153.6 495.1,152.6 495.3,152.9 495.5,153.0 495.7,153.2 495.9,152.8 496.0,152.6 496.2,152.8 496.4,153.8 496.6,152.7 496.8,153.7 497.0,152.2 497.2,153.2 497.4,152.7 497.6,152.8 497.8,153.3 498.0,152.4 498.2,152.9 498.4,152.0 498.6,152.7 498.8,152.8 499.0,151.8 499.2,152.3 499.4,152.9 499.6,153.3 499.8,152.1 500.0,152.4 500.2,152.4 500.4,153.1 500.6,153.2 500.8,153.4 501.0,152.4 501.2,153.0 501.4,152.6 501.5,153.9 501.7,152.5 501.9,153.3 502.1,154.2 502.3,153.5 502.5,152.8 502.7,152.3 502.9,154.2 503.1,153.6 503.3,152.9 503.5,153.7 503.7,153.2 503.9,153.4 504.1,152.9 504.3,153.7 504.5,153.1 504.7,153.4 504.9,152.9 505.1,153.0 505.3,152.5 505.5,152.9 505.7,152.2 505.9,153.7 506.1,153.1 506.3,152.6 506.5,152.9 506.7,154.2 506.9,152.8 507.0,153.2 507.2,151.8 507.4,153.0 507.6,152.7 507.8,153.4 508.0,152.6 508.2,154.3 508.4,153.4 508.6,153.1 508.8,153.7 509.0,152.5 509.2,153.0 509.4,152.2 509.6,153.6 509.8,153.4 510.0,152.7 510.2,153.2 510.4,152.6 510.6,152.7 510.8,153.3 511.0,152.9 511.2,152.7 511.4,152.8 511.6,153.1 511.8,153.2 512.0,153.1 512.2,152.5 512.4,152.0 512.6,153.6 512.7,153.4 512.9,153.0 513.1,152.3 513.3,153.4 513.5,151.9 513.7,151.9 513.9,154.1 514.1,152.6 514.3,152.7 514.5,153.2 514.7,153.8 514.9,152.8 515.1,153.1 515.3,152.4 515.5,152.7 515.7,153.4 515.9,152.0 516.1,152.1 516.3,152.2 516.5,152.9 516.7,152.5 516.9,152.9 517.1,153.2 517.3,153.8 517.5,152.8 517.7,153.9 517.9,152.6 518.1,153.6 518.2,152.8 518.4,153.1 518.6,153.5 518.8,153.4 519.0,153.2 519.2,152.2 519.4,152.8 519.6,153.1 519.8,152.5 520.0,153.5 520.2,153.7 520.4,153.4 520.6,152.5 520.8,153.1 521.0,152.9 521.2,152.9 521.4,153.1 521.6,152.4 521.8,152.6 522.0,153.4 522.2,153.4 522.4,153.0 522.6,153.4 522.8,153.0 523.0,152.6 523.2,152.9 523.4,152.9 523.6,153.2 523.8,153.3"/>
<polyline stroke="#EFAD1F" points="52.4,132.1 52.6,130.9 52.8,131.9 53.0,131.5 53.2,131.5 53.4,131.3 53.6,131.7 53.8,132.3 54.0,130.5 54.2,132.1 54.4,131.2 54.6,132.1 54.8,131.2 55.0,132.1 55.2,130.7 55.3,131.3 55.5,132.3 55.7,130.7 55.9,132.5 56.1,131.7 56.3,131.0 56.5,131.7 56.7,130.9 56.9,131.5 57.1,131.8 57.3,130.9 57.5,131.5 57.7,131.8 57.9,131.1 58.1,131.7 58.3,132.2 58.5,131.9 58.7,130.3 58.9,130.4 59.1,132.3 59.3,131.1 59.5,130.9 59.7,131.7 59.9,131.2 60.1,132.1 60.3,131.7 60.5,131.0 60.7,131.6 60.8,131.6 61.0,131.7 61.2,132.2 61.4,132.1 61.6,131.8 61.8,131.6 62.0,132.0 62.2,130.6 62.4,132.5 62.6,132.1 62.8,131.9 63.0,131.3 63.2,132.3 63.4,131.4 63.6,132.0 63.8,132.0 64.0,131.3 64.2,131.1 64.4,131.0 64.6,132.2 64.8,131.0 65.0,131.0 65.2,131.4 65.4,131.3 65.6,131.5 65.8,131.6 66.0,131.1 66.2,130.7 66.3,131.7 66.5,131.4 66.7,131.1 66.9,132.2 67.1,130.7 67.3,131.3 67.5,130.8 67.7,131.7 67.9,132.0 68.1,131.6 68.3,131.4 68.5,132.0 68.7,131.1 68.9,131.4 69.1,132.1 69.3,131.3 69.5,131.6 69.7,131.5 69.9,131.7 70.1,131.9 70.3,132.1 70.5,131.5 70.7,131.5 70.9,131.3 71.1,131.9 71.3,131.3 71.5,131.1 71.7,132.1 71.9,131.4 72.0,130.4 72.2,131.8 72.4,131.7 72.6,131.5 72.8,131.8 73.0,131.1 73.2,131.6 73.4,131.6 73.6,131.9 73.8,131.2 74.0,131.6 74.2,131.7 74.4,131.7 74.6,130.7 74.8,131.5 75.0,131.4 75.2,130.8 75.4,131.6 75.6,131.0 75.8,132.0 76.0,131.2 76.2,132.6 76.4,131.5 76.6,131.7 76.8,131.9 77.0,131.0 77.2,131.2 77.4,131.1 77.5,130.8 77.7,131.3 77.9,131.2 78.1,131.6 78.3,130.6 78.5,131.1 78.7,131.9 78.9,132.0 79.1,131.9 79.3,131.9 79.5,130.9 79.7,131.4 79.9,131.0 80.1,131.9 80.3,131.9 80.5,130.9 80.7,132.6 80.9,132.1 81.1,132.6 81.3,131.9 81.5,130.2 81.7,131.9 81.9,131.0 82.1,130.7 82.3,131.9 82.5,131.9 82.7,131.4 82.9,131.2 83.1,132.3 83.2,132.0 83.4,130.7 83.6,132.0 83.8,131.4 84.0,131.0 84.2,131.7 84.4,131.6 84.6,131.8 84.8,131.9 85.0,131.8 85.2,132.4 85.4,131.8 85.6,131.7 85.8,131.2 86.0,131.8 86.2,131.9 86.4,130.6 86.6,131.5 86.8,131.7 87.0,131.8 87.2,131.5 87.4,132.0 87.6,131.8 87.8,132.0 88.0,132.2 88.2,131.8 88.4,132.2 88.6,130.7 88.7,132.1 88.9,130.7 89.1,131.4 89.3,131.1 89.5,130.8 89.7,132.4 89.9,130.7 90.1,131.3 90.3,131.8 90.5,131.9 90.7,131.4 90.9,132.3 91.1,130.6 91.3,131.6 91.5,131.1 91.7,131.5 91.9,131.7 92.1,131.7 92.3,131.9 92.5,130.9 92.7,131.5 92.9,131.2 93.1,131.3 93.3,131.2 93.5,131.3 93.7,130.9 93.9,131.8 94.1,132.0 94.2,131.6 94.4,131.7 94.6,131.5 94.8,130.9 95.0,131.0 95.2,131.2 95.4,131.9 95.6,131.2 95.8,131.4 96.0,131.1 96.2,131.5 96.4,131.7 96.6,131.4 96.8,131.9 97.0,131.9 97.2,131.4 97.4,131.5 97.6,131.0 97.8,131.4 98.0,132.1 98.2,130.8 98.4,130.7 98.6,132.0 98.8,131.8 99.0,131.0 99.2,131.4 99.4,132.2 99.6,130.9 99.8,131.5 99.9,131.3 100.1,130.9 100.3,131.8 100.5,131.9 100.7,131.2 100.9,131.0 101.1,131.5 101.3,130.9 101.5,131.3 101.7,131.0 101.9,131.9 102.1,131.6 102.3,131.0 102.5,131.9 102.7,131.9 102.9,131.4 103.1,131.7 103.3,132.0 103.5,132.3 103.7,130.8 103.9,131.5 104.1,130.8 104.3,132.0 104.5,131.5 104.7,131.6 104.9,131.5 105.1,132.3 105.3,130.9 105.4,131.7 105.6,131.4 105.8,132.0 106.0,130.8 106.2,132.3 106.4,130.6 106.6,131.7 106.8,131.7 107.0,131.9 107.2,130.8 107.4,132.0 107.6,132.0 107.8,132.0 108.0,131.3 108.2,131.3 108.4,131.9 108.6,131.3 108.8,130.8 109.0,131.2 109.2,131.3 109.4,132.0 109.6,130.8 109.8,131.2 110.0,132.2 110.2,131.9 110.4,132.9 110.6,131.3 110.8,132.2 111.0,131.7 111.1,130.9 111.3,132.2 111.5,131.1 111.7,131.7 111.9,132.1 112.1,130.9 112.3,131.4 112.5,131.9 112.7,131.3 112.9,131.9 113.1,132.0 113.3,131.7 113.5,131.1 113.7,132.3 113.9,132.2 114.1,131.1 114.3,132.3 114.5,131.7 114.7,131.7 114.9,132.2 115.1,131.9 115.3,131.6 115.5,131.6 115.7,131.3 115.9,131.5 116.1,131.1 116.3,131.5 116.5,131.8 116.6,131.3 116.8,131.3 117.0,131.1 117.2,131.6 117.4,131.6 117.6,131.6 117.8,132.3 118.0,131.3 118.2,131.9 118.4,131.9 118.6,131.7 118.8,130.5 119.0,132.0 119.2,130.8 119.4,132.6 119.6,131.7 119.8,130.6 120.0,131.5 120.2,131.4 120.4,131.8 120.6,132.5 120.8,131.3 121.0,131.1 121.2,131.0 121.4,130.6 121.6,131.6 121.8,131.3 122.0,132.6 122.1,131.7 122.3,131.5 122.5,130.9 122.7,130.6 122.9,130.7 123.1,131.3 123.3,131.6 123.5,131.6 123.7,131.6 123.9,131.5 124.1,131.0 124.3,131.6 124.5,132.4 124.7,132.1 124.9,130.1 125.1,130.9 125.3,131.8 125.5,131.7 125.7,131.2 125.9,131.4 126.1,131.4 126.3,132.5 126.5,132.2 126.7,131.5 126.9,131.2 127.1,131.4 127.3,130.8 127.5,131.5 127.7,131.4 127.8,131.5 128.0,131.0 128.2,131.8 128.4,130.5 128.6,132.1 128.8,131.1 129.0,131.2 129.2,130.7 129.4,132.1 129.6,132.0 129.8,131.7 130.0,131.2 130.2,131.1 130.4,132.8 130.6,131.7 130.8,131.4 131.0,131.4 131.2,131.4 131.4,131.6 131.6,131.5 131.8,132.5 132.0,131.1 132.2,132.7 132.4,131.6 132.6,132.0 132.8,131.4 133.0,132.0 133.2,131.1 133.3,131.4 133.5,131.2 133.7,131.0 133.9,131.0 134.1,131.6 134.3,131.1 134.5,131.3 134.7,131.2 134.9,131.5 135.1,132.8 135.3,131.7 135.5,131.6 135.7,131.8 135.9,131.9 136.1,131.5 136.3,131.9 136.5,131.2 136.7,130.9 136.9,131.6 137.1,131.1 137.3,132.1 137.5,132.1 137.7,131.7 137.9,132.0 138.1,131.5 138.3,131.5 138.5,130.8 138.7,131.8 138.9,130.9 139.0,132.1 139.2,131.7 139.4,131.1 139.6,131.4 139.8,132.8 140.0,131.6 140.2,131.3 140.4,132.3 140.6,131.8 140.8,131.7 141.0,131.4 141.2,130.9 141.4,132.2 141.6,132.0 141.8,130.8 142.0,131.0 142.2,130.7 142.4,131.6 142.6,131.0 142.8,132.7 143.0,131.3 143.2,132.0 143.4,132.2 143.6,132.1 143.8,131.1 144.0,130.8 144.2,131.8 144.4,131.7 144.5,131.0 144.7,131.9 144.9,131.4 145.1,131.2 145.3,131.0 145.5,131.7 145.7,132.9 145.9,131.6 146.1,131.2 146.3,131.8 146.5,131.8 146.7,132.0 146.9,131.3 147.1,131.5 147.3,131.4 147.5,131.5 147.7,130.9 147.9,131.4 148.1,131.6 148.3,132.1 148.5,131.7 148.7,131.5 148.9,130.8 149.1,131.3 149.3,131.7 149.5,131.2 149.7,131.2 149.9,131.8 150.0,131.3 150.2,132.1 150.4,131.5 150.6,130.5 150.8,131.1 151.0,131.2 151.2,131.1 151.4,131.2 151.6,132.1 151.8,131.8 152.0,131.9 152.2,131.3 152.4,131.1 152.6,130.5 152.8,131.6 153.0,132.1 153.2,131.4 153.4,131.5 153.6,131.4 153.8,131.5 154.0,131.3 154.2,131.8 154.4,131.4 154.6,131.0 154.8,131.4 155.0,131.3 155.2,131.8 155.4,131.1 155.6,131.6 155.7,131.8 155.9,131.6 156.1,131.7 156.3,131.6 156.5,131.8 156.7,130.7 156.9,131.1 157.1,131.3 157.3,131.3 157.5,131.6 157.7,131.1 157.9,131.6 158.1,131.6 158.3,131.9 158.5,130.9 158.7,131.0 158.9,131.0 159.1,131.0 159.3,132.7 159.5,131.5 159.7,131.0 159.9,131.3 160.1,132.3 160.3,131.4 160.5,131.2 160.7,131.8 160.9,132.1 161.1,131.8 161.2,133.0 161.4,131.4 161.6,132.0 161.8,131.7 162.0,131.6 162.2,131.6 162.4,130.8 162.6,132.0 162.8,131.7 163.0,132.6 163.2,131.9 163.4,132.5 163.6,131.2 163.8,131.6 164.0,131.9 164.2,131.1 164.4,132.1 164.6,131.7 164.8,132.0 165.0,132.0 165.2,131.7 165.4,131.9 165.6,131.6 165.8,132.1 166.0,132.3 166.2,130.9 166.4,131.4 166.6,131.7 166.8,131.5 166.9,132.1 167.1,131.4 167.3,132.3 167.5,131.3 167.7,131.4 167.9,131.6 168.1,131.2 168.3,131.6 168.5,130.7 168.7,131.2 168.9,132.3 169.1,132.0 169.3,130.7 169.5,131.8 169.7,131.4 169.9,131.8 170.1,130.8 170.3,131.0 170.5,131.2 170.7,131.7 170.9,131.7 171.1,130.9 171.3,131.8 171.5,132.6 171.7,130.8 171.9,131.1 172.1,132.2 172.3,131.4 172.4,131.2 172.6,131.4 172.8,130.7 173.0,130.9 173.2,131.9 173.4,131.6 173.6,131.1 173.8,131.1 174.0,131.7 174.2,131.0 174.4,131.9 174.6,131.1 174.8,132.4 175.0,131.3 175.2,130.5 175.4,130.8 175.6,131.9 175.8,133.0 176.0,131.4 176.2,131.0 176.4,131.5 176.6,131.4 176.8,132.2 177.0,131.8 177.2,132.2 177.4,132.2 177.6,131.8 177.8,130.8 177.9,131.4 178.1,131.9 178.3,131.6 178.5,132.0 178.7,131.8 178.9,131.5 179.1,132.3 179.3,131.4 179.5,131.9 179.7,131.0 179.9,132.0 180.1,131.5 180.3,132.0 180.5,131.3 180.7,132.4 180.9,131.8 181.1,132.0 181.3,132.3 181.5,131.7 181.7,131.7 181.9,131.9 182.1,132.1 182.3,131.9 182.5,131.9 182.7,131.0 182.9,131.3 183.1,130.9 183.3,131.1 183.5,130.7 183.6,131.5 183.8,131.4 184.0,131.5 184.2,131.7 184.4,131.2 184.6,131.3 184.8,131.3 185.0,131.4 185.2,131.0 185.4,132.2 185.6,131.2 185.8,131.5 186.0,131.8 186.2,131.7 186.4,131.3 186.6,131.1 186.8,131.6 187.0,131.2 187.2,131.3 187.4,131.0 187.6,131.0 187.8,131.1 188.0,131.7 188.2,132.0 188.4,130.8 188.6,131.9 188.8,131.1 189.0,131.5 189.1,130.7 189.3,131.5 189.5,131.6 189.7,132.5 189.9,131.2 190.1,131.5 190.3,131.8 190.5,131.7 190.7,130.9 190.9,131.3 191.1,131.1 191.3,131.6 191.5,131.3 191.7,131.0 191.9,131.6 192.1,130.9 192.3,131.6 192.5,130.5 192.7,131.7 192.9,131.7 193.1,131.4 193.3,131.6 193.5,131.5 193.7,131.5 193.9,130.9 194.1,131.7 194.3,130.9 194.5,131.0 194.6,131.4 194.8,131.6 195.0,130.5 195.2,132.7 195.4,131.7 195.6,131.5 195.8,131.2 196.0,131.4 196.2,131.0 196.4,131.2 196.6,130.9 196.8,131.8 197.0,131.2 197.2,130.7 197.4,131.8 197.6,131.4 197.8,132.1 198.0,131.3 198.2,131.8 198.4,131.2 198.6,132.0 198.8,131.4 199.0,132.0 199.2,131.5 199.4,131.3 199.6,130.4 199.8,131.3 200.0,131.2 200.2,130.6 200.3,131.0 200.5,132.0 200.7,131.2 200.9,131.4 201.1,131.1 201.3,131.2 201.5,132.3 201.7,131.8 201.9,130.6 202.1,131.1 202.3,131.9 202.5,131.7 202.7,131.6 202.9,132.2 203.1,133.1 203.3,131.3 203.5,132.1 203.7,131.9 203.9,131.9 204.1,131.7 204.3,131.8 204.5,130.8 204.7,131.7 204.9,131.3 205.1,131.6 205.3,130.9 205.5,131.5 205.7,132.6 205.8,130.7 206.0,130.7 206.2,131.2 206.4,132.3 206.6,130.9 206.8,131.4 207.0,132.0 207.2,131.8 207.4,131.0 207.6,131.9 207.8,131.6 208.0,131.9 208.2,131.3 208.4,132.0 208.6,131.3 208.8,131.7 209.0,130.5 209.2,131.8 209.4,131.5 209.6,131.1 209.8,131.1 210.0,132.3 210.2,131.5 210.4,131.3 210.6,131.2 210.8,131.6 211.0,130.8 211.2,130.9 211.4,131.7 211.5,132.1 211.7,131.6 211.9,131.2 212.1,131.0 212.3,132.1 212.5,131.8 212.7,132.5 212.9,132.0 213.1,130.9 213.3,130.4 213.5,131.1 213.7,131.6 213.9,131.6 214.1,130.5 214.3,130.9 214.5,131.4 214.7,131.7 214.9,131.8 215.1,131.5 215.3,130.6 215.5,131.6 215.7,131.6 215.9,131.3 216.1,131.6 216.3,131.0 216.5,132.0 216.7,131.4 216.9,131.8 217.0,131.1 217.2,131.4 217.4,131.9 217.6,131.8 217.8,131.5 218.0,130.8 218.2,131.2 218.4,131.4 218.6,132.0 218.8,132.3 219.0,132.3 219.2,131.8 219.4,131.3 219.6,131.5 219.8,131.0 220.0,132.1 220.2,131.7 220.4,131.7 220.6,132.0 220.8,132.6 221.0,132.0 221.2,131.1 221.4,132.4 221.6,131.1 221.8,131.1 222.0,131.6 222.2,131.4 222.4,131.6 222.5,131.5 222.7,130.8 222.9,131.0 223.1,131.1 223.3,131.4 223.5,131.6 223.7,131.4 223.9,132.2 224.1,132.0 224.3,131.5 224.5,132.4 224.7,131.5 224.9,131.6 225.1,131.6 225.3,131.6 225.5,131.9 225.7,130.5 225.9,132.5 226.1,131.9 226.3,132.5 226.5,131.4 226.7,131.1 226.9,130.7 227.1,131.9 227.3,131.2 227.5,132.0 227.7,131.6 227.9,131.3 228.1,132.3 228.2,131.7 228.4,131.9 228.6,131.4 228.8,131.2 229.0,132.3 229.2,131.6 229.4,132.3 229.6,132.7 229.8,132.1 230.0,131.9 230.2,132.2 230.4,132.1 230.6,130.9 230.8,131.5 231.0,131.0 231.2,130.9 231.4,131.5 231.6,130.3 231.8,131.3 232.0,131.5 232.2,132.0 232.4,131.7 232.6,131.4 232.8,131.5 233.0,131.4 233.2,131.4 233.4,132.2 233.6,132.0 233.7,131.8 233.9,131.8 234.1,132.2 234.3,131.6 234.5,132.0 234.7,131.1 234.9,132.0 235.1,131.5 235.3,132.6 235.5,131.7 235.7,131.1 235.9,131.6 236.1,131.3 236.3,131.5 236.5,131.7 236.7,131.3 236.9,131.4 237.1,131.4 237.3,131.9 237.5,131.8 237.7,132.9 237.9,131.5 238.1,132.1 238.3,132.0 238.5,131.2 238.7,131.5 238.9,131.4 239.1,131.9 239.3,131.3 239.4,131.6 239.6,131.5 239.8,131.6 240.0,130.8 240.2,132.1 240.4,131.5 240.6,131.4 240.8,131.1 241.0,131.3 241.2,131.8 241.4,131.5 241.6,130.8 241.8,131.0 242.0,131.8 242.2,131.5 242.4,131.6 242.6,130.9 242.8,131.8 243.0,130.9 243.2,130.7 243.4,131.6 243.6,130.4 243.8,131.7 244.0,131.6 244.2,131.2 244.4,131.8 244.6,131.5 244.8,132.1 244.9,131.7 245.1,131.5 245.3,132.2 245.5,131.2 245.7,131.2 245.9,131.6 246.1,131.2 246.3,131.2 246.5,131.9 246.7,131.3 246.9,131.4 247.1,131.9 247.3,131.4 247.5,132.1 247.7,132.9 247.9,131.3 248.1,131.4 248.3,130.6 248.5,131.7 248.7,131.1 248.9,132.0 249.1,132.1 249.3,131.7 249.5,131.4 249.7,131.5 249.9,131.0 250.1,130.9 250.3,132.1 250.4,131.8 250.6,130.6 250.8,130.8 251.0,132.1 251.2,131.9 251.4,130.5 251.6,131.9 251.8,130.9 252.0,132.5 252.2,131.6 252.4,132.0 252.6,131.3 252.8,130.8 253.0,131.2 253.2,130.9 253.4,130.9 253.6,130.6 253.8,131.3 254.0,132.4 254.2,132.2 254.4,131.0 254.6,131.1 254.8,130.9 255.0,131.6 255.2,131.7 255.4,132.4 255.6,132.1 255.8,131.6 256.0,131.9 256.1,132.3 256.3,130.8 256.5,131.5 256.7,131.4 256.9,131.5 257.1,131.5 257.3,132.1 257.5,131.1 257.7,131.8 257.9,132.0 258.1,130.9 258.3,131.5 258.5,131.2 258.7,132.5 258.9,130.7 259.1,132.0 259.3,132.1 259.5,131.7 259.7,132.0 259.9,132.0 260.1,131.3 260.3,130.8 260.5,131.7 260.7,131.5 260.9,131.5 261.1,131.4 261.3,132.2 261.5,130.7 261.6,132.2 261.8,131.9 262.0,130.5 262.2,131.6 262.4,132.0 262.6,131.5 262.8,130.4 263.0,131.5 263.2,132.1 263.4,131.4 263.6,131.4 263.8,131.9 264.0,131.4 264.2,132.6 264.4,131.3 264.6,131.4 264.8,131.5 265.0,131.8 265.2,130.8 265.4,131.2 265.6,130.8 265.8,131.8 266.0,131.1 266.2,130.6 266.4,130.8 266.6,132.0 266.8,131.5 267.0,131.8 267.2,131.7 267.3,131.5 267.5,130.6 267.7,130.8 267.9,131.6 268.1,131.1 268.3,131.8 268.5,132.1 268.7,132.5 268.9,131.9 269.1,130.5 269.3,131.4 269.5,131.2 269.7,131.0 269.9,132.5 270.1,131.6 270.3,131.5 270.5,130.9 270.7,131.3 270.9,132.4 271.1,132.4 271.3,131.4 271.5,131.4 271.7,132.2 271.9,132.2 272.1,131.5 272.3,132.2 272.5,131.4 272.7,131.7 272.8,131.7 273.0,130.5 273.2,131.9 273.4,132.1 273.6,131.8 273.8,132.7 274.0,131.1 274.2,131.2 274.4,131.5 274.6,131.6 274.8,131.6 275.0,132.3 275.2,131.6 275.4,131.6 275.6,131.1 275.8,131.4 276.0,131.0 276.2,131.2 276.4,132.6 276.6,131.9 276.8,131.2 277.0,131.8 277.2,131.6 277.4,131.1 277.6,132.0 277.8,131.5 278.0,130.7 278.2,131.5 278.3,131.9 278.5,131.5 278.7,131.7 278.9,132.2 279.1,131.2 279.3,131.5 279.5,132.5 279.7,130.9 279.9,132.0 280.1,131.5 280.3,131.3 280.5,131.6 280.7,132.2 280.9,132.7 281.1,131.8 281.3,131.4 281.5,132.2 281.7,131.7 281.9,130.9 282.1,132.0 282.3,129.5 282.5,131.4 282.7,132.1 282.9,131.3 283.1,131.7 283.3,130.9 283.5,132.2 283.7,131.2 283.9,132.1 284.0,131.4 284.2,130.8 284.4,131.5 284.6,130.9 284.8,131.7 285.0,131.1 285.2,131.9 285.4,131.7 285.6,131.5 285.8,132.3 286.0,132.0 286.2,131.8 286.4,130.7 286.6,131.5 286.8,132.1 287.0,132.2 287.2,131.6 287.4,132.1 287.6,131.4 287.8,132.1 288.0,132.1 288.2,131.1 288.4,132.5 288.6,130.4 288.8,131.9 289.0,132.3 289.2,131.2 289.4,131.0 289.5,130.9 289.7,131.3 289.9,131.9 290.1,131.6 290.3,131.5 290.5,131.1 290.7,131.0 290.9,131.2 291.1,131.1 291.3,132.7 291.5,131.8 291.7,130.9 291.9,131.8 292.1,131.6 292.3,131.9 292.5,131.6 292.7,131.9 292.9,132.6 293.1,131.3 293.3,131.3 293.5,132.0 293.7,132.6 293.9,131.7 294.1,132.2 294.3,131.0 294.5,131.7 294.7,132.4 294.9,131.9 295.0,130.6 295.2,131.7 295.4,132.0 295.6,131.7 295.8,132.2 296.0,131.1 296.2,132.3 296.4,131.3 296.6,131.0 296.8,131.1 297.0,131.6 297.2,131.8 297.4,131.5 297.6,131.4 297.8,131.3 298.0,131.6 298.2,131.4 298.4,131.8 298.6,132.0 298.8,131.0 299.0,131.3 299.2,131.2 299.4,130.7 299.6,131.9 299.8,131.9 300.0,131.7 300.2,131.1 300.4,132.3 300.6,131.9 300.7,131.1 300.9,132.3 301.1,131.2 301.3,130.7 301.5,131.3 301.7,132.0 301.9,131.8 302.1,132.0 302.3,131.6 302.5,131.1 302.7,131.0 302.9,132.7 303.1,131.9 303.3,131.4 303.5,131.7 303.7,132.8 303.9,131.4 304.1,131.3 304.3,131.5 304.5,131.6 304.7,131.1 304.9,132.3 305.1,131.7 305.3,131.3 305.5,129.8 305.7,131.9 305.9,131.1 306.1,130.7 306.2,131.1 306.4,131.1 306.6,130.9 306.8,132.4 307.0,131.3 307.2,131.8 307.4,130.7 307.6,131.3 307.8,131.4 308.0,131.4 308.2,132.2 308.4,131.1 308.6,132.4 308.8,131.6 309.0,131.7 309.2,131.0 309.4,131.5 309.6,132.0 309.8,131.2 310.0,130.6 310.2,132.0 310.4,130.8 310.6,131.9 310.8,131.6 311.0,131.6 311.2,132.1 311.4,130.7 311.6,131.1 311.8,131.2 311.9,132.2 312.1,131.2 312.3,132.0 312.5,130.8 312.7,132.4 312.9,131.2 313.1,132.3 313.3,132.3 313.5,131.4 313.7,131.1 313.9,131.0 314.1,131.7 314.3,131.8 314.5,131.0 314.7,132.1 314.9,132.1 315.1,131.3 315.3,131.3 315.5,131.5 315.7,130.9 315.9,132.4 316.1,131.3 316.3,130.4 316.5,131.7 316.7,132.2 316.9,130.9 317.1,131.2 317.3,130.9 317.4,131.2 317.6,131.7 317.8,131.6 318.0,132.1 318.2,130.2 318.4,132.0 318.6,131.7 318.8,131.9 319.0,131.3 319.2,130.8 319.4,131.8 319.6,131.3 319.8,131.1 320.0,130.4 320.2,131.6 320.4,131.4 320.6,130.7 320.8,132.2 321.0,131.5 321.2,131.5 321.4,132.1 321.6,131.6 321.8,131.4 322.0,130.9 322.2,131.0 322.4,131.8 322.6,132.0 322.8,131.0 322.9,132.3 323.1,131.8 323.3,132.1 323.5,132.3 323.7,131.4 323.9,132.2 324.1,131.8 324.3,130.9 324.5,130.7 324.7,132.2 324.9,132.0 325.1,132.0 325.3,132.2 325.5,130.9 325.7,131.1 325.9,131.3 326.1,132.0 326.3,131.1 326.5,131.4 326.7,131.5 326.9,131.2 327.1,130.8 327.3,131.6 327.5,131.7 327.7,132.0 327.9,130.8 328.1,131.3 328.3,132.8 328.5,131.5 328.6,131.1 328.8,132.3 329.0,132.3 329.2,131.0 329.4,131.7 329.6,132.3 329.8,131.5 330.0,131.4 330.2,132.0 330.4,131.9 330.6,131.5 330.8,131.6 331.0,130.6 331.2,130.9 331.4,131.3 331.6,131.9 331.8,131.8 332.0,132.7 332.2,131.6 332.4,131.7 332.6,131.9 332.8,131.2 333.0,130.9 333.2,132.5 333.4,131.3 333.6,131.3 333.8,131.9 334.0,131.9 334.1,130.7 334.3,131.2 334.5,130.5 334.7,131.9 334.9,132.1 335.1,131.7 335.3,131.1 335.5,130.9 335.7,130.5 335.9,131.9 336.1,132.3 336.3,131.0 336.5,131.1 336.7,131.2 336.9,130.8 337.1,131.9 337.3,132.4 337.5,130.5 337.7,131.4 337.9,131.7 338.1,131.1 338.3,130.4 338.5,131.4 338.7,130.6 338.9,131.5 339.1,130.6 339.3,131.4 339.5,130.9 339.7,131.5 339.8,131.2 340.0,131.4 340.2,131.7 340.4,131.5 340.6,131.2 340.8,131.6 341.0,131.8 341.2,131.3 341.4,130.8 341.6,131.6 341.8,132.0 342.0,132.0 342.2,131.5 342.4,130.7 342.6,132.1 342.8,131.0 343.0,131.6 343.2,131.9 343.4,131.8 343.6,130.9 343.8,131.8 344.0,130.8 344.2,130.5 344.4,132.0 344.6,132.2 344.8,132.4 345.0,131.3 345.2,132.0 345.3,131.9 345.5,131.9 345.7,130.9 345.9,131.2 346.1,131.2 346.3,132.4 346.5,132.0 346.7,131.6 346.9,131.6 347.1,131.4 347.3,130.7 347.5,131.2 347.7,131.1 347.9,131.6 348.1,131.8 348.3,131.8 348.5,131.6 348.7,132.4 348.9,131.8 349.1,131.5 349.3,131.8 349.5,131.6 349.7,132.5 349.9,131.8 350.1,131.5 350.3,131.0 350.5,131.5 350.7,131.7 350.8,131.8 351.0,131.5 351.2,131.8 351.4,131.2 351.6,131.8 351.8,131.2 352.0,131.9 352.2,132.3 352.4,132.3 352.6,131.1 352.8,131.9 353.0,131.8 353.2,130.3 353.4,132.2 353.6,131.6 353.8,132.3 354.0,131.9 354.2,131.3 354.4,131.7 354.6,130.6 354.8,132.0 355.0,131.9 355.2,132.3 355.4,131.6 355.6,132.0 355.8,131.6 356.0,132.0 356.2,131.3 356.4,131.9 356.5,131.5 356.7,131.6 356.9,131.9 357.1,131.6 357.3,131.6 357.5,131.3 357.7,132.6 357.9,130.8 358.1,131.5 358.3,131.3 358.5,131.3 358.7,132.2 358.9,131.2 359.1,131.4 359.3,131.8 359.5,131.1 359.7,131.7 359.9,132.1 360.1,131.1 360.3,131.2 360.5,131.4 360.7,131.6 360.9,130.7 361.1,131.8 361.3,131.4 361.5,131.6 361.7,131.6 361.9,131.3 362.0,132.0 362.2,131.3 362.4,131.4 362.6,131.7 362.8,131.9 363.0,132.2 363.2,131.5 363.4,130.7 363.6,131.8 363.8,132.0 364.0,131.9 364.2,131.4 364.4,131.3 364.6,131.4 364.8,131.6 365.0,132.1 365.2,131.0 365.4,131.7 365.6,131.3 365.8,131.5 366.0,131.5 366.2,131.1 366.4,131.5 366.6,130.5 366.8,130.8 367.0,131.1 367.2,131.7 367.4,131.1 367.6,131.3 367.7,131.2 367.9,131.5 368.1,132.0 368.3,132.0 368.5,131.6 368.7,131.1 368.9,131.6 369.1,131.8 369.3,131.6 369.5,131.2 369.7,131.8 369.9,131.8 370.1,131.5 370.3,131.2 370.5,132.1 370.7,131.7 370.9,131.5 371.1,131.7 371.3,131.3 371.5,131.1 371.7,131.9 371.9,130.3 372.1,131.3 372.3,130.7 372.5,131.1 372.7,132.4 372.9,132.1 373.1,131.4 373.2,131.3 373.4,131.2 373.6,132.5 373.8,131.8 374.0,131.3 374.2,130.9 374.4,131.3 374.6,132.2 374.8,131.8 375.0,131.7 375.2,131.7 375.4,131.0 375.6,130.9 375.8,130.9 376.0,132.1 376.2,132.2 376.4,132.3 376.6,131.7 376.8,131.5 377.0,132.2 377.2,131.4 377.4,131.4 377.6,131.6 377.8,131.3 378.0,132.0 378.2,132.1 378.4,130.8 378.6,131.7 378.7,131.0 378.9,131.9 379.1,132.7 379.3,131.3 379.5,132.1 379.7,132.0 379.9,131.1 380.1,132.3 380.3,131.7 380.5,131.0 380.7,130.5 380.9,132.0 381.1,131.5 381.3,131.9 381.5,130.9 381.7,131.8 381.9,130.9 382.1,132.2 382.3,131.1 382.5,130.8 382.7,131.2 382.9,131.5 383.1,131.8 383.3,132.2 383.5,131.1 383.7,131.1 383.9,131.4 384.1,132.2 384.3,132.0 384.4,131.6 384.6,130.7 384.8,130.6 385.0,131.1 385.2,132.2 385.4,132.6 385.6,131.5 385.8,131.3 386.0,130.7 386.2,132.0 386.4,131.0 386.6,131.7 386.8,131.3 387.0,131.8 387.2,131.8 387.4,131.9 387.6,131.7 387.8,132.1 388.0,132.0 388.2,131.4 388.4,132.2 388.6,131.8 388.8,131.9 389.0,131.7 389.2,131.0 389.4,131.9 389.6,130.7 389.8,132.5 389.9,132.0 390.1,131.2 390.3,132.8 390.5,131.7 390.7,131.3 390.9,132.3 391.1,130.8 391.3,130.6 391.5,131.5 391.7,131.5 391.9,131.1 392.1,131.0 392.3,131.8 392.5,131.7 392.7,130.5 392.9,131.4 393.1,131.6 393.3,132.0 393.5,133.0 393.7,131.6 393.9,131.5 394.1,131.6 394.3,131.6 394.5,131.1 394.7,131.4 394.9,131.4 395.1,131.6 395.3,131.7 395.5,131.5 395.6,131.9 395.8,131.0 396.0,131.4 396.2,131.5 396.4,130.5 396.6,131.1 396.8,132.1 397.0,132.0 397.2,131.6 397.4,131.8 397.6,130.9 397.8,131.1 398.0,131.1 398.2,131.0 398.4,131.1 398.6,132.4 398.8,132.2 399.0,132.0 399.2,131.3 399.4,131.4 399.6,130.6 399.8,130.9 400.0,130.9 400.2,131.9 400.4,131.6 400.6,131.0 400.8,132.1 401.0,131.9 401.1,130.6 401.3,130.5 401.5,132.4 401.7,131.6 401.9,132.1 402.1,132.5 402.3,132.0 402.5,131.3 402.7,131.2 402.9,131.4 403.1,130.9 403.3,132.0 403.5,131.7 403.7,130.8 403.9,131.2 404.1,131.9 404.3,132.2 404.5,131.5 404.7,131.5 404.9,131.4 405.1,131.6 405.3,131.5 405.5,131.9 405.7,131.6 405.9,131.9 406.1,132.2 406.3,131.5 406.5,132.0 406.6,132.0 406.8,131.3 407.0,131.4 407.2,130.6 407.4,130.7 407.6,131.7 407.8,131.7 408.0,131.9 408.2,132.2 408.4,130.8 408.6,131.2 408.8,131.8 409.0,130.7 409.2,131.2 409.4,131.2 409.6,131.8 409.8,132.8 410.0,131.2 410.2,131.9 410.4,132.3 410.6,131.3 410.8,131.3 411.0,132.0 411.2,131.6 411.4,131.3 411.6,131.5 411.8,131.8 412.0,130.8 412.2,131.7 412.3,131.0 412.5,131.6 412.7,131.7 412.9,130.9 413.1,131.9 413.3,131.4 413.5,131.3 413.7,131.0 413.9,131.6 414.1,132.3 414.3,132.4 414.5,132.4 414.7,132.1 414.9,131.6 415.1,131.7 415.3,131.8 415.5,131.6 415.7,131.9 415.9,131.6 416.1,131.5 416.3,130.5 416.5,131.7 416.7,131.7 416.9,131.7 417.1,132.0 417.3,131.1 417.5,132.2 417.7,130.5 417.8,132.4 418.0,131.6 418.2,131.0 418.4,131.3 418.6,131.2 418.8,132.3 419.0,131.1 419.2,131.3 419.4,130.7 419.6,131.6 419.8,131.5 420.0,132.4 420.2,131.3 420.4,132.1 420.6,131.3 420.8,130.6 421.0,132.0 421.2,131.4 421.4,131.8 421.6,131.8 421.8,132.5 422.0,131.8 422.2,131.4 422.4,130.9 422.6,130.7 422.8,131.6 423.0,131.1 423.2,131.6 423.3,132.0 423.5,131.8 423.7,131.1 423.9,131.2 424.1,132.4 424.3,131.3 424.5,131.7 424.7,131.2 424.9,131.5 425.1,132.2 425.3,132.2 425.5,131.6 425.7,131.5 425.9,131.5 426.1,132.1 426.3,130.8 426.5,132.7 426.7,130.9 426.9,131.6 427.1,131.8 427.3,130.7 427.5,131.6 427.7,131.5 427.9,131.8 428.1,131.3 428.3,131.3 428.5,130.8 428.7,130.9 428.9,131.5 429.0,131.9 429.2,131.7 429.4,131.9 429.6,131.6 429.8,131.4 430.0,130.7 430.2,130.6 430.4,130.8 430.6,130.1 430.8,131.1 431.0,129.9 431.2,130.8 431.4,129.7 431.6,129.0 431.8,129.1 432.0,129.6 432.2,129.0 432.4,128.8 432.6,128.9 432.8,128.4 433.0,128.7 433.2,128.7 433.4,128.6 433.6,127.8 433.8,128.4 434.0,128.6 434.2,127.4 434.4,128.1 434.5,128.3 434.7,127.2 434.9,127.8 435.1,127.7 435.3,127.7 435.5,126.9 435.7,126.9 435.9,126.6 436.1,127.4 436.3,125.8 436.5,127.3 436.7,127.5 436.9,127.0 437.1,127.7 437.3,127.2 437.5,127.0 437.7,126.6 437.9,126.0 438.1,126.4 438.3,126.7 438.5,126.5 438.7,127.1 438.9,125.7 439.1,126.3 439.3,126.2 439.5,126.7 439.7,126.8 439.9,126.9 440.1,126.8 440.2,126.6 440.4,125.9 440.6,126.6 440.8,126.0 441.0,125.8 441.2,126.0 441.4,125.8 441.6,127.3 441.8,126.0 442.0,126.4 442.2,125.5 442.4,125.9 442.6,126.3 442.8,126.1 443.0,126.0 443.2,125.2 443.4,126.3 443.6,125.9 443.8,126.3 444.0,125.9 444.2,125.8 444.4,125.9 444.6,126.1 444.8,125.2 445.0,125.4 445.2,125.7 445.4,126.2 445.6,125.7 445.7,125.9 445.9,125.5 446.1,125.6 446.3,126.2 446.5,125.6 446.7,125.0 446.9,125.6 447.1,126.4 447.3,126.1 447.5,125.4 447.7,125.3 447.9,126.6 448.1,125.3 448.3,125.0 448.5,125.1 448.7,126.5 448.9,125.8 449.1,125.2 449.3,125.4 449.5,126.0 449.7,126.3 449.9,125.8 450.1,125.5 450.3,126.3 450.5,125.9 450.7,125.2 450.9,125.2 451.1,125.7 451.2,125.1 451.4,125.9 451.6,126.1 451.8,126.1 452.0,126.3 452.2,126.0 452.4,126.0 452.6,124.8 452.8,125.3 453.0,124.7 453.2,126.3 453.4,125.5 453.6,126.0 453.8,126.5 454.0,125.5 454.2,126.1 454.4,125.4 454.6,124.5 454.8,125.8 455.0,125.9 455.2,126.2 455.4,126.6 455.6,125.9 455.8,126.2 456.0,125.7 456.2,126.0 456.4,125.7 456.6,125.6 456.8,125.2 456.9,126.4 457.1,126.2 457.3,125.1 457.5,125.4 457.7,126.2 457.9,124.6 458.1,127.2 458.3,126.0 458.5,126.0 458.7,125.6 458.9,126.5 459.1,125.8 459.3,125.7 459.5,125.2 459.7,126.8 459.9,126.2 460.1,126.1 460.3,125.3 460.5,124.9 460.7,125.0 460.9,126.2 461.1,125.7 461.3,125.9 461.5,125.9 461.7,126.2 461.9,125.8 462.1,125.9 462.3,125.6 462.4,125.9 462.6,124.6 462.8,126.7 463.0,126.1 463.2,126.1 463.4,125.8 463.6,125.4 463.8,125.9 464.0,124.3 464.2,125.6 464.4,125.1 464.6,125.9 464.8,126.2 465.0,124.6 465.2,126.2 465.4,126.6 465.6,126.2 465.8,125.7 466.0,125.1 466.2,126.0 466.4,126.0 466.6,125.7 466.8,125.4 467.0,126.2 467.2,125.7 467.4,126.1 467.6,125.6 467.8,125.6 468.0,125.3 468.1,124.9 468.3,126.1 468.5,126.3 468.7,125.7 468.9,125.8 469.1,125.8 469.3,125.4 469.5,125.7 469.7,125.4 469.9,125.8 470.1,125.8 470.3,126.2 470.5,125.4 470.7,125.8 470.9,125.2 471.1,125.5 471.3,126.1 471.5,125.7 471.7,125.8 471.9,125.9 472.1,126.5 472.3,125.7 472.5,125.8 472.7,126.4 472.9,125.7 473.1,125.6 473.3,126.4 473.5,126.4 473.6,125.7 473.8,125.4 474.0,125.7 474.2,126.7 474.4,126.4 474.6,125.6 474.8,126.3 475.0,125.3 475.2,125.3 475.4,126.2 475.6,125.7 475.8,125.5 476.0,125.6 476.2,126.0 476.4,125.9 476.6,125.9 476.8,125.0 477.0,125.5 477.2,125.3 477.4,125.7 477.6,125.6 477.8,125.4 478.0,125.9 478.2,126.2 478.4,125.6 478.6,126.0 478.8,126.1 479.0,126.2 479.1,126.5 479.3,125.8 479.5,126.3 479.7,126.2 479.9,126.0 480.1,126.4 480.3,125.6 480.5,125.4 480.7,126.4 480.9,126.0 481.1,125.9 481.3,126.0 481.5,125.8 481.7,125.7 481.9,126.1 482.1,125.5 482.3,126.8 482.5,126.3 482.7,125.4 482.9,126.0 483.1,125.7 483.3,125.3 483.5,125.0 483.7,126.4 483.9,126.2 484.1,126.2 484.3,126.2 484.5,125.7 484.7,126.8 484.8,125.6 485.0,125.9 485.2,125.1 485.4,126.6 485.6,125.5 485.8,126.0 486.0,126.2 486.2,125.4 486.4,125.4 486.6,126.5 486.8,125.4 487.0,126.0 487.2,126.0 487.4,126.1 487.6,125.9 487.8,126.1 488.0,125.8 488.2,127.0 488.4,125.4 488.6,125.7 488.8,126.1 489.0,125.7 489.2,125.9 489.4,125.6 489.6,125.3 489.8,125.6 490.0,127.3 490.2,125.2 490.3,125.8 490.5,125.5 490.7,126.2 490.9,125.9 491.1,126.0 491.3,125.6 491.5,125.5 491.7,125.7 491.9,125.7 492.1,125.4 492.3,125.3 492.5,125.5 492.7,126.0 492.9,125.4 493.1,126.1 493.3,125.7 493.5,125.1 493.7,126.6 493.9,126.4 494.1,126.9 494.3,124.9 494.5,125.8 494.7,125.6 494.9,125.7 495.1,125.9 495.3,126.3 495.5,125.8 495.7,126.3 495.9,125.6 496.0,125.1 496.2,124.8 496.4,126.3 496.6,126.1 496.8,126.3 497.0,126.7 497.2,126.5 497.4,126.0 497.6,125.4 497.8,125.3 498.0,126.3 498.2,125.6 498.4,126.0 498.6,125.8 498.8,125.4 499.0,125.4 499.2,125.4 499.4,125.7 499.6,125.7 499.8,125.7 500.0,125.6 500.2,125.9 500.4,125.7 500.6,125.8 500.8,125.2 501.0,126.3 501.2,126.1 501.4,125.8 501.5,125.9 501.7,126.9 501.9,125.3 502.1,125.1 502.3,126.7 502.5,126.5 502.7,125.2 502.9,126.6 503.1,125.8 503.3,125.9 503.5,126.1 503.7,125.7 503.9,126.4 504.1,126.7 504.3,126.2 504.5,126.0 504.7,125.8 504.9,125.5 505.1,125.2 505.3,125.6 505.5,125.9 505.7,125.6 505.9,126.5 506.1,126.2 506.3,126.2 506.5,126.6 506.7,125.5 506.9,126.4 507.0,126.6 507.2,126.4 507.4,125.2 507.6,125.3 507.8,125.8 508.0,125.6 508.2,126.8 508.4,126.3 508.6,125.7 508.8,126.4 509.0,126.6 509.2,126.3 509.4,125.5 509.6,125.2 509.8,126.4 510.0,125.2 510.2,126.5 510.4,125.8 510.6,125.9 510.8,126.1 511.0,125.1 511.2,125.5 511.4,125.9 511.6,125.4 511.8,126.2 512.0,125.7 512.2,125.2 512.4,125.7 512.6,124.9 512.7,126.4 512.9,126.5 513.1,126.0 513.3,126.0 513.5,126.1 513.7,125.2 513.9,125.7 514.1,126.4 514.3,126.2 514.5,125.7 514.7,126.5 514.9,125.7 515.1,126.4 515.3,125.9 515.5,125.8 515.7,126.6 515.9,126.1 516.1,126.1 516.3,125.8 516.5,125.5 516.7,125.9 516.9,126.5 517.1,126.1 517.3,126.3 517.5,126.0 517.7,125.4 517.9,125.4 518.1,125.3 518.2,126.3 518.4,126.7 518.6,126.3 518.8,125.9 519.0,126.2 519.2,126.5 519.4,125.9 519.6,125.3 519.8,126.0 520.0,125.7 520.2,124.9 520.4,126.1 520.6,125.5 520.8,126.6 521.0,126.3 521.2,126.0 521.4,125.3 521.6,125.8 521.8,126.1 522.0,125.5 522.2,125.1 522.4,125.1 522.6,126.3 522.8,125.5 523.0,126.1 523.2,125.5 523.4,125.3 523.6,126.4 523.8,124.8"/>
</g>
<text x="288.0" y="20.5" text-anchor="middle" font-family='"Liberation Serif", "DejaVu Serif", serif' font-size="14" fill="#000" stroke="#000" stroke-width="0.2" textLength="53" lengthAdjust="spacingAndGlyphs">Residual</text>
<text transform="translate(26.8,105.7) rotate(-90)" text-anchor="middle" font-family='"Liberation Serif", "DejaVu Serif", serif' font-size="14" fill="#000" stroke="#000" stroke-width="0.2">r</text>
<line x1="99.53" y1="243.55" x2="99.53" y2="398.95" stroke="#e2e2e2" stroke-width="1"/>
<line x1="146.67" y1="243.55" x2="146.67" y2="398.95" stroke="#e2e2e2" stroke-width="1"/>
<line x1="193.81" y1="243.55" x2="193.81" y2="398.95" stroke="#e2e2e2" stroke-width="1"/>
<line x1="240.94" y1="243.55" x2="240.94" y2="398.95" stroke="#e2e2e2" stroke-width="1"/>
<line x1="288.07" y1="243.55" x2="288.07" y2="398.95" stroke="#e2e2e2" stroke-width="1"/>
<line x1="335.21" y1="243.55" x2="335.21" y2="398.95" stroke="#e2e2e2" stroke-width="1"/>
<line x1="382.35" y1="243.55" x2="382.35" y2="398.95" stroke="#e2e2e2" stroke-width="1"/>
<line x1="429.48" y1="243.55" x2="429.48" y2="398.95" stroke="#e2e2e2" stroke-width="1"/>
<line x1="476.62" y1="243.55" x2="476.62" y2="398.95" stroke="#e2e2e2" stroke-width="1"/>
<line x1="52.4" y1="367.87" x2="523.75" y2="367.87" stroke="#e2e2e2" stroke-width="1"/>
<line x1="52.4" y1="336.79" x2="523.75" y2="336.79" stroke="#e2e2e2" stroke-width="1"/>
<line x1="52.4" y1="305.71" x2="523.75" y2="305.71" stroke="#e2e2e2" stroke-width="1"/>
<line x1="52.4" y1="274.63" x2="523.75" y2="274.63" stroke="#e2e2e2" stroke-width="1"/>
<rect x="52.4" y="243.55" width="471.35" height="155.39999999999998" fill="none" stroke="#404040" stroke-width="1"/>
<line x1="99.53" y1="398.95" x2="99.53" y2="394.05" stroke="#404040" stroke-width="1"/>
<line x1="99.53" y1="243.55" x2="99.53" y2="248.45000000000002" stroke="#404040" stroke-width="1"/>
<line x1="146.67" y1="398.95" x2="146.67" y2="394.05" stroke="#404040" stroke-width="1"/>
<line x1="146.67" y1="243.55" x2="146.67" y2="248.45000000000002" stroke="#404040" stroke-width="1"/>
<line x1="193.81" y1="398.95" x2="193.81" y2="394.05" stroke="#404040" stroke-width="1"/>
<line x1="193.81" y1="243.55" x2="193.81" y2="248.45000000000002" stroke="#404040" stroke-width="1"/>
<line x1="240.94" y1="398.95" x2="240.94" y2="394.05" stroke="#404040" stroke-width="1"/>
<line x1="240.94" y1="243.55" x2="240.94" y2="248.45000000000002" stroke="#404040" stroke-width="1"/>
<line x1="288.07" y1="398.95" x2="288.07" y2="394.05" stroke="#404040" stroke-width="1"/>
<line x1="288.07" y1="243.55" x2="288.07" y2="248.45000000000002" stroke="#404040" stroke-width="1"/>
<line x1="335.21" y1="398.95" x2="335.21" y2="394.05" stroke="#404040" stroke-width="1"/>
<line x1="335.21" y1="243.55" x2="335.21" y2="248.45000000000002" stroke="#404040" stroke-width="1"/>
<line x1="382.35" y1="398.95" x2="382.35" y2="394.05" stroke="#404040" stroke-width="1"/>
<line x1="382.35" y1="243.55" x2="382.35" y2="248.45000000000002" stroke="#404040" stroke-width="1"/>
<line x1="429.48" y1="398.95" x2="429.48" y2="394.05" stroke="#404040" stroke-width="1"/>
<line x1="429.48" y1="243.55" x2="429.48" y2="248.45000000000002" stroke="#404040" stroke-width="1"/>
<line x1="476.62" y1="398.95" x2="476.62" y2="394.05" stroke="#404040" stroke-width="1"/>
<line x1="476.62" y1="243.55" x2="476.62" y2="248.45000000000002" stroke="#404040" stroke-width="1"/>
<line x1="52.4" y1="367.87" x2="57.3" y2="367.87" stroke="#404040" stroke-width="1"/>
<line x1="523.75" y1="367.87" x2="518.85" y2="367.87" stroke="#404040" stroke-width="1"/>
<line x1="52.4" y1="336.79" x2="57.3" y2="336.79" stroke="#404040" stroke-width="1"/>
<line x1="523.75" y1="336.79" x2="518.85" y2="336.79" stroke="#404040" stroke-width="1"/>
<line x1="52.4" y1="305.71" x2="57.3" y2="305.71" stroke="#404040" stroke-width="1"/>
<line x1="523.75" y1="305.71" x2="518.85" y2="305.71" stroke="#404040" stroke-width="1"/>
<line x1="52.4" y1="274.63" x2="57.3" y2="274.63" stroke="#404040" stroke-width="1"/>
<line x1="523.75" y1="274.63" x2="518.85" y2="274.63" stroke="#404040" stroke-width="1"/>
<text x="52.10" y="415.8" text-anchor="middle" font-family='"Liberation Sans", Arial, sans-serif' font-size="11.7" fill="#262626" stroke="#262626" stroke-width="0.15">2000</text>
<text x="99.23" y="415.8" text-anchor="middle" font-family='"Liberation Sans", Arial, sans-serif' font-size="11.7" fill="#262626" stroke="#262626" stroke-width="0.15">3000</text>
<text x="146.37" y="415.8" text-anchor="middle" font-family='"Liberation Sans", Arial, sans-serif' font-size="11.7" fill="#262626" stroke="#262626" stroke-width="0.15">4000</text>
<text x="193.51" y="415.8" text-anchor="middle" font-family='"Liberation Sans", Arial, sans-serif' font-size="11.7" fill="#262626" stroke="#262626" stroke-width="0.15">5000</text>
<text x="240.64" y="415.8" text-anchor="middle" font-family='"Liberation Sans", Arial, sans-serif' font-size="11.7" fill="#262626" stroke="#262626" stroke-width="0.15">6000</text>
<text x="287.77" y="415.8" text-anchor="middle" font-family='"Liberation Sans", Arial, sans-serif' font-size="11.7" fill="#262626" stroke="#262626" stroke-width="0.15">7000</text>
<text x="334.91" y="415.8" text-anchor="middle" font-family='"Liberation Sans", Arial, sans-serif' font-size="11.7" fill="#262626" stroke="#262626" stroke-width="0.15">8000</text>
<text x="382.05" y="415.8" text-anchor="middle" font-family='"Liberation Sans", Arial, sans-serif' font-size="11.7" fill="#262626" stroke="#262626" stroke-width="0.15">9000</text>
<text x="429.18" y="415.8" text-anchor="middle" font-family='"Liberation Sans", Arial, sans-serif' font-size="11.7" fill="#262626" stroke="#262626" stroke-width="0.15">10000</text>
<text x="476.31" y="415.8" text-anchor="middle" font-family='"Liberation Sans", Arial, sans-serif' font-size="11.7" fill="#262626" stroke="#262626" stroke-width="0.15">11000</text>
<text x="523.45" y="415.8" text-anchor="middle" font-family='"Liberation Sans", Arial, sans-serif' font-size="11.7" fill="#262626" stroke="#262626" stroke-width="0.15">12000</text>
<text x="47.1" y="403.2" text-anchor="end" font-family='"Liberation Sans", Arial, sans-serif' font-size="11.7" fill="#262626" stroke="#262626" stroke-width="0.15">0</text>
<text x="47.1" y="372.2" text-anchor="end" font-family='"Liberation Sans", Arial, sans-serif' font-size="11.7" fill="#262626" stroke="#262626" stroke-width="0.15">20</text>
<text x="47.1" y="341.1" text-anchor="end" font-family='"Liberation Sans", Arial, sans-serif' font-size="11.7" fill="#262626" stroke="#262626" stroke-width="0.15">40</text>
<text x="47.1" y="310.0" text-anchor="end" font-family='"Liberation Sans", Arial, sans-serif' font-size="11.7" fill="#262626" stroke="#262626" stroke-width="0.15">60</text>
<text x="47.1" y="278.9" text-anchor="end" font-family='"Liberation Sans", Arial, sans-serif' font-size="11.7" fill="#262626" stroke="#262626" stroke-width="0.15">80</text>
<text x="47.1" y="247.9" text-anchor="end" font-family='"Liberation Sans", Arial, sans-serif' font-size="11.7" fill="#262626" stroke="#262626" stroke-width="0.15">100</text>
<g clip-path="url(#c2)" fill="none" stroke-linejoin="round" stroke-width="2.5">
<polyline stroke="#0072BD" points="52.4,398.9 52.6,398.9 52.8,398.9 53.0,398.9 53.2,398.9 53.4,398.9 53.6,398.9 53.8,398.9 54.0,398.9 54.2,398.9 54.4,398.9 54.6,398.9 54.8,398.9 55.0,398.9 55.2,398.9 55.3,398.9 55.5,398.9 55.7,398.9 55.9,398.9 56.1,398.9 56.3,398.9 56.5,398.9 56.7,398.9 56.9,398.9 57.1,398.9 57.3,398.9 57.5,398.9 57.7,398.9 57.9,398.9 58.1,398.9 58.3,398.9 58.5,398.9 58.7,398.9 58.9,398.9 59.1,398.9 59.3,398.9 59.5,398.9 59.7,398.9 59.9,398.9 60.1,398.9 60.3,398.9 60.5,398.9 60.7,398.9 60.8,398.9 61.0,398.9 61.2,398.9 61.4,398.9 61.6,398.9 61.8,398.9 62.0,398.9 62.2,398.9 62.4,398.9 62.6,398.9 62.8,398.9 63.0,398.9 63.2,398.9 63.4,398.9 63.6,398.9 63.8,398.9 64.0,398.9 64.2,398.9 64.4,398.9 64.6,398.9 64.8,398.9 65.0,398.9 65.2,398.9 65.4,398.9 65.6,398.9 65.8,398.9 66.0,398.9 66.2,398.9 66.3,398.9 66.5,398.9 66.7,398.9 66.9,398.9 67.1,398.9 67.3,398.9 67.5,398.9 67.7,398.9 67.9,398.9 68.1,398.9 68.3,398.9 68.5,398.9 68.7,398.9 68.9,398.9 69.1,398.9 69.3,398.9 69.5,398.9 69.7,398.9 69.9,398.9 70.1,398.9 70.3,398.9 70.5,398.9 70.7,398.9 70.9,398.9 71.1,398.9 71.3,398.9 71.5,398.9 71.7,398.9 71.9,398.9 72.0,398.9 72.2,398.9 72.4,398.9 72.6,398.9 72.8,398.9 73.0,398.9 73.2,398.9 73.4,398.9 73.6,398.9 73.8,398.9 74.0,398.9 74.2,398.9 74.4,398.9 74.6,398.9 74.8,398.9 75.0,398.9 75.2,398.9 75.4,398.9 75.6,398.9 75.8,398.9 76.0,398.9 76.2,398.9 76.4,398.9 76.6,398.9 76.8,398.9 77.0,398.9 77.2,398.9 77.4,398.9 77.5,398.9 77.7,398.9 77.9,398.9 78.1,398.9 78.3,398.9 78.5,398.9 78.7,398.9 78.9,398.9 79.1,398.9 79.3,398.9 79.5,398.9 79.7,398.9 79.9,398.9 80.1,398.9 80.3,398.9 80.5,398.9 80.7,398.9 80.9,398.9 81.1,398.9 81.3,398.9 81.5,398.9 81.7,398.9 81.9,398.9 82.1,398.9 82.3,398.9 82.5,398.9 82.7,398.9 82.9,398.9 83.1,398.9 83.2,398.9 83.4,398.9 83.6,398.9 83.8,398.9 84.0,398.9 84.2,398.9 84.4,398.9 84.6,398.9 84.8,398.9 85.0,398.9 85.2,398.9 85.4,398.9 85.6,398.9 85.8,398.9 86.0,398.9 86.2,398.9 86.4,398.9 86.6,398.9 86.8,398.9 87.0,398.9 87.2,398.9 87.4,398.9 87.6,398.9 87.8,398.9 88.0,398.9 88.2,398.9 88.4,398.9 88.6,398.9 88.7,398.9 88.9,398.9 89.1,398.9 89.3,398.9 89.5,398.9 89.7,398.9 89.9,398.9 90.1,398.9 90.3,398.9 90.5,398.9 90.7,398.9 90.9,398.9 91.1,398.9 91.3,398.9 91.5,398.9 91.7,398.9 91.9,398.9 92.1,398.9 92.3,398.9 92.5,398.9 92.7,398.9 92.9,398.9 93.1,398.9 93.3,398.9 93.5,398.9 93.7,398.9 93.9,398.9 94.1,398.9 94.2,398.9 94.4,398.9 94.6,398.9 94.8,398.9 95.0,398.9 95.2,398.9 95.4,398.9 95.6,398.9 95.8,398.9 96.0,398.9 96.2,398.9 96.4,398.9 96.6,398.9 96.8,398.9 97.0,398.9 97.2,398.9 97.4,398.9 97.6,398.9 97.8,398.9 98.0,398.9 98.2,398.9 98.4,398.9 98.6,398.9 98.8,398.9 99.0,398.9 99.2,398.9 99.4,398.9 99.6,398.9 99.8,398.9 99.9,398.9 100.1,398.9 100.3,398.9 100.5,398.9 100.7,398.9 100.9,398.9 101.1,398.9 101.3,398.9 101.5,398.9 101.7,398.9 101.9,398.9 102.1,398.9 102.3,398.9 102.5,398.9 102.7,398.9 102.9,398.9 103.1,398.9 103.3,398.9 103.5,398.9 103.7,398.9 103.9,398.9 104.1,398.9 104.3,398.9 104.5,398.9 104.7,398.9 104.9,398.9 105.1,398.9 105.3,398.9 105.4,398.9 105.6,398.9 105.8,398.9 106.0,398.9 106.2,398.9 106.4,398.9 106.6,398.9 106.8,398.9 107.0,398.9 107.2,398.9 107.4,398.9 107.6,398.9 107.8,398.9 108.0,398.9 108.2,398.9 108.4,398.9 108.6,398.9 108.8,398.9 109.0,398.9 109.2,398.9 109.4,398.9 109.6,398.9 109.8,398.9 110.0,398.9 110.2,398.9 110.4,398.9 110.6,398.9 110.8,398.9 111.0,398.9 111.1,398.9 111.3,398.9 111.5,398.9 111.7,398.9 111.9,398.9 112.1,398.9 112.3,398.9 112.5,398.9 112.7,398.9 112.9,398.9 113.1,398.9 113.3,398.9 113.5,398.9 113.7,398.9 113.9,398.9 114.1,398.9 114.3,398.9 114.5,398.9 114.7,398.9 114.9,398.9 115.1,398.9 115.3,398.9 115.5,398.9 115.7,398.9 115.9,398.9 116.1,398.9 116.3,398.9 116.5,398.9 116.6,398.9 116.8,398.9 117.0,398.9 117.2,398.9 117.4,398.9 117.6,398.9 117.8,398.9 118.0,398.9 118.2,398.9 118.4,398.9 118.6,398.9 118.8,398.9 119.0,398.9 119.2,398.9 119.4,398.9 119.6,398.9 119.8,398.9 120.0,398.9 120.2,398.9 120.4,398.9 120.6,398.9 120.8,398.9 121.0,398.9 121.2,398.9 121.4,398.9 121.6,398.9 121.8,398.9 122.0,398.9 122.1,398.9 122.3,398.9 122.5,398.9 122.7,398.9 122.9,398.9 123.1,398.9 123.3,398.9 123.5,398.9 123.7,398.9 123.9,398.9 124.1,398.9 124.3,398.9 124.5,398.9 124.7,398.9 124.9,398.9 125.1,398.9 125.3,398.9 125.5,398.9 125.7,398.9 125.9,398.9 126.1,398.9 126.3,398.9 126.5,398.9 126.7,398.9 126.9,398.9 127.1,398.9 127.3,398.9 127.5,398.9 127.7,398.9 127.8,398.9 128.0,398.9 128.2,398.9 128.4,398.9 128.6,398.9 128.8,398.9 129.0,398.9 129.2,398.9 129.4,398.9 129.6,398.9 129.8,398.9 130.0,398.9 130.2,398.9 130.4,398.9 130.6,398.9 130.8,398.9 131.0,398.9 131.2,398.9 131.4,398.9 131.6,398.9 131.8,398.9 132.0,398.9 132.2,398.9 132.4,398.9 132.6,398.9 132.8,398.9 133.0,398.9 133.2,398.9 133.3,398.9 133.5,398.9 133.7,398.9 133.9,398.9 134.1,398.9 134.3,398.9 134.5,398.9 134.7,398.9 134.9,398.9 135.1,398.9 135.3,398.9 135.5,398.9 135.7,398.9 135.9,398.9 136.1,398.9 136.3,398.9 136.5,398.9 136.7,398.9 136.9,398.9 137.1,398.9 137.3,398.9 137.5,398.9 137.7,398.9 137.9,398.9 138.1,398.9 138.3,398.9 138.5,398.9 138.7,398.9 138.9,398.9 139.0,398.9 139.2,398.9 139.4,398.9 139.6,398.9 139.8,398.9 140.0,398.9 140.2,398.9 140.4,398.9 140.6,398.9 140.8,398.9 141.0,398.9 141.2,398.9 141.4,398.9 141.6,398.9 141.8,398.9 142.0,398.9 142.2,398.9 142.4,398.9 142.6,398.9 142.8,398.9 143.0,398.9 143.2,398.9 143.4,398.9 143.6,398.9 143.8,398.9 144.0,398.9 144.2,398.9 144.4,398.9 144.5,398.9 144.7,398.9 144.9,398.9 145.1,398.9 145.3,398.9 145.5,398.9 145.7,398.9 145.9,398.9 146.1,398.9 146.3,398.9 146.5,398.9 146.7,398.9 146.9,398.9 147.1,398.9 147.3,398.9 147.5,398.9 147.7,398.9 147.9,398.9 148.1,398.9 148.3,398.9 148.5,398.9 148.7,398.9 148.9,398.9 149.1,398.9 149.3,398.9 149.5,398.9 149.7,398.9 149.9,398.9 150.0,398.9 150.2,398.9 150.4,398.9 150.6,398.9 150.8,398.9 151.0,398.9 151.2,398.9 151.4,398.9 151.6,398.9 151.8,398.9 152.0,398.9 152.2,398.9 152.4,398.9 152.6,398.9 152.8,398.9 153.0,398.9 153.2,398.9 153.4,398.9 153.6,398.9 153.8,398.9 154.0,398.9 154.2,398.9 154.4,398.9 154.6,398.9 154.8,398.9 155.0,398.9 155.2,398.9 155.4,398.9 155.6,398.9 155.7,398.9 155.9,398.9 156.1,398.9 156.3,398.9 156.5,398.9 156.7,398.9 156.9,398.9 157.1,398.9 157.3,398.9 157.5,398.9 157.7,398.9 157.9,398.9 158.1,398.9 158.3,398.9 158.5,398.9 158.7,398.9 158.9,398.9 159.1,398.9 159.3,398.9 159.5,398.9 159.7,398.9 159.9,398.9 160.1,398.9 160.3,398.9 160.5,398.9 160.7,398.9 160.9,398.9 161.1,398.9 161.2,398.9 161.4,398.9 161.6,398.9 161.8,398.9 162.0,398.9 162.2,398.9 162.4,398.9 162.6,398.9 162.8,398.9 163.0,398.9 163.2,398.9 163.4,398.9 163.6,398.9 163.8,398.9 164.0,398.9 164.2,398.9 164.4,398.9 164.6,398.9 164.8,398.9 165.0,398.9 165.2,398.9 165.4,398.9 165.6,398.9 165.8,398.9 166.0,398.9 166.2,398.9 166.4,398.9 166.6,398.9 166.8,398.9 166.9,398.9 167.1,398.9 167.3,398.9 167.5,398.9 167.7,398.9 167.9,398.9 168.1,398.9 168.3,398.9 168.5,398.9 168.7,398.9 168.9,398.9 169.1,398.9 169.3,398.9 169.5,398.9 169.7,398.9 169.9,398.9 170.1,398.9 170.3,398.9 170.5,398.9 170.7,398.9 170.9,398.9 171.1,398.9 171.3,398.9 171.5,398.9 171.7,398.9 171.9,398.9 172.1,398.9 172.3,398.9 172.4,398.9 172.6,398.9 172.8,398.9 173.0,398.9 173.2,398.9 173.4,398.9 173.6,398.9 173.8,398.9 174.0,398.9 174.2,398.9 174.4,398.9 174.6,398.9 174.8,398.9 175.0,398.9 175.2,398.9 175.4,398.9 175.6,398.9 175.8,398.9 176.0,398.9 176.2,398.9 176.4,398.9 176.6,398.9 176.8,398.9 177.0,398.9 177.2,398.9 177.4,398.9 177.6,398.9 177.8,398.9 177.9,398.9 178.1,398.9 178.3,398.9 178.5,398.9 178.7,398.9 178.9,398.9 179.1,398.9 179.3,398.9 179.5,398.9 179.7,398.9 179.9,398.9 180.1,398.9 180.3,398.9 180.5,398.9 180.7,398.9 180.9,398.9 181.1,398.9 181.3,398.9 181.5,398.9 181.7,398.9 181.9,398.9 182.1,398.9 182.3,398.9 182.5,398.9 182.7,398.9 182.9,398.9 183.1,398.9 183.3,398.9 183.5,398.9 183.6,398.9 183.8,398.9 184.0,398.9 184.2,398.9 184.4,398.9 184.6,398.9 184.8,398.9 185.0,398.9 185.2,398.9 185.4,398.9 185.6,398.9 185.8,398.9 186.0,398.9 186.2,398.9 186.4,398.9 186.6,398.9 186.8,398.9 187.0,398.9 187.2,398.9 187.4,398.9 187.6,398.9 187.8,398.9 188.0,398.9 188.2,398.9 188.4,398.9 188.6,398.9 188.8,398.9 189.0,398.9 189.1,398.9 189.3,398.9 189.5,398.9 189.7,398.9 189.9,398.9 190.1,398.9 190.3,398.9 190.5,398.9 190.7,398.9 190.9,398.9 191.1,398.9 191.3,398.9 191.5,398.9 191.7,398.9 191.9,398.9 192.1,398.9 192.3,398.9 192.5,398.9 192.7,398.9 192.9,398.9 193.1,398.9 193.3,398.9 193.5,398.9 193.7,398.9 193.9,398.9 194.1,398.9 194.3,398.9 194.5,398.9 194.6,398.9 194.8,398.9 195.0,398.9 195.2,398.9 195.4,398.9 195.6,398.9 195.8,398.9 196.0,398.9 196.2,398.9 196.4,398.9 196.6,398.9 196.8,398.9 197.0,398.9 197.2,398.9 197.4,398.9 197.6,398.9 197.8,398.9 198.0,398.9 198.2,398.9 198.4,398.9 198.6,398.9 198.8,398.9 199.0,398.9 199.2,398.9 199.4,398.9 199.6,398.9 199.8,398.9 200.0,398.9 200.2,398.9 200.3,398.9 200.5,398.9 200.7,398.9 200.9,398.9 201.1,398.9 201.3,398.9 201.5,398.9 201.7,398.9 201.9,398.9 202.1,398.9 202.3,398.9 202.5,398.9 202.7,398.9 202.9,398.9 203.1,398.9 203.3,398.9 203.5,398.9 203.7,398.9 203.9,398.9 204.1,398.9 204.3,398.9 204.5,398.9 204.7,398.9 204.9,398.9 205.1,398.9 205.3,398.9 205.5,398.9 205.7,398.9 205.8,398.9 206.0,398.9 206.2,398.9 206.4,398.9 206.6,398.9 206.8,398.9 207.0,398.9 207.2,398.9 207.4,398.9 207.6,398.9 207.8,398.9 208.0,398.9 208.2,398.9 208.4,398.9 208.6,398.9 208.8,398.9 209.0,398.9 209.2,398.9 209.4,398.9 209.6,398.9 209.8,398.9 210.0,398.9 210.2,398.9 210.4,398.9 210.6,398.9 210.8,398.9 211.0,398.9 211.2,398.9 211.4,398.9 211.5,398.9 211.7,398.9 211.9,398.9 212.1,398.9 212.3,398.9 212.5,398.9 212.7,398.9 212.9,398.9 213.1,398.9 213.3,398.9 213.5,398.9 213.7,398.9 213.9,398.9 214.1,398.9 214.3,398.9 214.5,398.9 214.7,398.9 214.9,398.9 215.1,398.9 215.3,398.9 215.5,398.9 215.7,398.9 215.9,398.9 216.1,398.9 216.3,398.9 216.5,398.9 216.7,398.9 216.9,398.9 217.0,398.9 217.2,398.9 217.4,398.9 217.6,398.9 217.8,398.9 218.0,398.9 218.2,398.9 218.4,398.9 218.6,398.9 218.8,398.9 219.0,398.9 219.2,398.9 219.4,398.9 219.6,398.9 219.8,398.9 220.0,398.9 220.2,398.9 220.4,398.9 220.6,398.9 220.8,398.9 221.0,398.9 221.2,398.9 221.4,398.9 221.6,398.9 221.8,398.9 222.0,398.9 222.2,398.9 222.4,398.9 222.5,398.9 222.7,398.9 222.9,398.9 223.1,398.9 223.3,398.9 223.5,398.9 223.7,398.9 223.9,398.9 224.1,398.9 224.3,398.9 224.5,398.9 224.7,398.9 224.9,398.9 225.1,398.9 225.3,398.9 225.5,398.9 225.7,398.9 225.9,398.9 226.1,398.9 226.3,398.9 226.5,398.9 226.7,398.9 226.9,398.9 227.1,398.9 227.3,398.9 227.5,398.9 227.7,398.9 227.9,398.9 228.1,398.9 228.2,398.9 228.4,398.9 228.6,398.9 228.8,398.9 229.0,398.9 229.2,398.9 229.4,398.9 229.6,398.9 229.8,398.9 230.0,398.9 230.2,398.9 230.4,398.9 230.6,398.9 230.8,398.9 231.0,398.9 231.2,398.9 231.4,398.9 231.6,398.9 231.8,398.9 232.0,398.9 232.2,398.9 232.4,398.9 232.6,398.9 232.8,398.9 233.0,398.9 233.2,398.9 233.4,398.9 233.6,398.9 233.7,398.9 233.9,398.9 234.1,398.9 234.3,398.9 234.5,398.9 234.7,398.9 234.9,398.9 235.1,398.9 235.3,398.9 235.5,398.9 235.7,398.9 235.9,398.9 236.1,398.9 236.3,398.9 236.5,398.9 236.7,398.9 236.9,398.9 237.1,398.9 237.3,398.9 237.5,398.9 237.7,398.9 237.9,398.9 238.1,398.9 238.3,398.9 238.5,398.9 238.7,398.9 238.9,398.9 239.1,398.9 239.3,398.9 239.4,398.9 239.6,398.9 239.8,398.9 240.0,398.9 240.2,398.9 240.4,398.9 240.6,398.9 240.8,398.9 241.0,398.9 241.2,398.9 241.4,398.9 241.6,398.9 241.8,398.9 242.0,398.9 242.2,398.9 242.4,398.9 242.6,398.9 242.8,398.9 243.0,398.9 243.2,398.9 243.4,398.9 243.6,398.9 243.8,398.9 244.0,398.9 244.2,398.9 244.4,398.9 244.6,398.9 244.8,398.9 244.9,398.9 245.1,398.9 245.3,398.9 245.5,398.9 245.7,398.9 245.9,398.9 246.1,398.9 246.3,398.9 246.5,398.9 246.7,398.9 246.9,398.9 247.1,398.9 247.3,398.9 247.5,398.9 247.7,398.9 247.9,398.9 248.1,398.9 248.3,398.9 248.5,398.9 248.7,398.9 248.9,398.9 249.1,398.9 249.3,398.9 249.5,398.9 249.7,398.9 249.9,398.9 250.1,398.9 250.3,398.9 250.4,398.9 250.6,398.9 250.8,398.9 251.0,398.9 251.2,398.9 251.4,398.9 251.6,398.9 251.8,398.9 252.0,398.9 252.2,398.9 252.4,398.9 252.6,398.9 252.8,398.9 253.0,398.9 253.2,398.9 253.4,398.9 253.6,398.9 253.8,398.9 254.0,398.9 254.2,398.9 254.4,398.9 254.6,398.9 254.8,398.9 255.0,398.9 255.2,398.9 255.4,398.9 255.6,398.9 255.8,398.9 256.0,398.9 256.1,398.9 256.3,398.9 256.5,398.9 256.7,398.9 256.9,398.9 257.1,398.9 257.3,398.9 257.5,398.9 257.7,398.9 257.9,398.9 258.1,398.9 258.3,398.9 258.5,398.9 258.7,398.9 258.9,398.9 259.1,398.9 259.3,398.9 259.5,398.9 259.7,398.9 259.9,398.9 260.1,398.9 260.3,398.9 260.5,398.9 260.7,398.9 260.9,398.9 261.1,398.9 261.3,398.9 261.5,398.9 261.6,398.9 261.8,398.9 262.0,398.9 262.2,398.9 262.4,398.9 262.6,398.9 262.8,398.9 263.0,398.9 263.2,398.9 263.4,398.9 263.6,398.9 263.8,398.9 264.0,398.9 264.2,398.9 264.4,398.9 264.6,398.9 264.8,398.9 265.0,398.9 265.2,398.9 265.4,398.9 265.6,398.9 265.8,398.9 266.0,398.9 266.2,398.9 266.4,398.9 266.6,398.9 266.8,398.9 267.0,398.9 267.2,398.9 267.3,398.9 267.5,398.9 267.7,398.9 267.9,398.9 268.1,398.9 268.3,398.9 268.5,398.9 268.7,398.9 268.9,398.9 269.1,398.9 269.3,398.9 269.5,398.9 269.7,398.9 269.9,398.9 270.1,398.9 270.3,398.9 270.5,398.9 270.7,398.9 270.9,398.9 271.1,398.9 271.3,398.9 271.5,398.9 271.7,398.9 271.9,398.9 272.1,398.9 272.3,398.9 272.5,398.9 272.7,398.9 272.8,398.9 273.0,398.9 273.2,398.9 273.4,398.9 273.6,398.9 273.8,398.9 274.0,398.9 274.2,398.9 274.4,398.9 274.6,398.9 274.8,398.9 275.0,398.9 275.2,398.9 275.4,398.9 275.6,398.9 275.8,398.9 276.0,398.9 276.2,398.9 276.4,398.9 276.6,398.9 276.8,398.9 277.0,398.9 277.2,398.9 277.4,398.9 277.6,398.9 277.8,398.9 278.0,398.9 278.2,398.9 278.3,398.9 278.5,398.9 278.7,398.9 278.9,398.9 279.1,398.9 279.3,398.9 279.5,398.9 279.7,398.9 279.9,398.9 280.1,398.9 280.3,398.9 280.5,398.9 280.7,398.9 280.9,398.9 281.1,398.9 281.3,398.9 281.5,398.9 281.7,398.9 281.9,398.9 282.1,398.9 282.3,398.9 282.5,398.9 282.7,398.9 282.9,398.9 283.1,398.9 283.3,398.9 283.5,398.9 283.7,398.9 283.9,398.9 284.0,398.9 284.2,398.9 284.4,398.9 284.6,398.9 284.8,398.9 285.0,398.9 285.2,398.9 285.4,398.9 285.6,398.9 285.8,398.9 286.0,398.9 286.2,398.9 286.4,398.9 286.6,398.9 286.8,398.9 287.0,398.9 287.2,398.9 287.4,398.9 287.6,398.9 287.8,398.9 288.0,398.9 288.2,398.9 288.4,398.9 288.6,398.9 288.8,398.9 289.0,398.9 289.2,398.9 289.4,398.9 289.5,398.9 289.7,398.9 289.9,398.9 290.1,398.9 290.3,398.9 290.5,398.9 290.7,398.9 290.9,398.9 291.1,398.9 291.3,398.9 291.5,398.9 291.7,398.9 291.9,398.9 292.1,398.9 292.3,398.9 292.5,398.9 292.7,398.9 292.9,398.9 293.1,398.9 293.3,398.9 293.5,398.9 293.7,398.9 293.9,398.9 294.1,398.9 294.3,398.9 294.5,398.9 294.7,398.9 294.9,398.9 295.0,398.9 295.2,398.9 295.4,398.9 295.6,398.9 295.8,398.9 296.0,398.9 296.2,398.9 296.4,398.9 296.6,398.9 296.8,398.9 297.0,398.9 297.2,398.9 297.4,398.9 297.6,398.9 297.8,398.9 298.0,398.9 298.2,398.9 298.4,398.9 298.6,398.9 298.8,398.9 299.0,398.9 299.2,398.9 299.4,398.9 299.6,398.9 299.8,398.9 300.0,398.9 300.2,398.9 300.4,398.9 300.6,398.9 300.7,398.9 300.9,398.9 301.1,398.9 301.3,398.9 301.5,398.9 301.7,398.9 301.9,398.9 302.1,398.9 302.3,398.9 302.5,398.9 302.7,398.9 302.9,398.9 303.1,398.9 303.3,398.9 303.5,398.9 303.7,398.9 303.9,398.9 304.1,398.9 304.3,398.9 304.5,398.9 304.7,398.9 304.9,398.9 305.1,398.9 305.3,398.9 305.5,398.9 305.7,398.9 305.9,398.9 306.1,398.9 306.2,398.9 306.4,398.9 306.6,398.9 306.8,398.9 307.0,398.9 307.2,398.9 307.4,398.9 307.6,398.9 307.8,398.9 308.0,398.9 308.2,398.9 308.4,398.9 308.6,398.9 308.8,398.9 309.0,398.9 309.2,398.9 309.4,398.9 309.6,398.9 309.8,398.9 310.0,398.9 310.2,398.9 310.4,398.9 310.6,398.9 310.8,398.9 311.0,398.9 311.2,398.9 311.4,398.9 311.6,398.9 311.8,398.9 311.9,398.9 312.1,398.9 312.3,398.9 312.5,398.9 312.7,398.9 312.9,398.9 313.1,398.9 313.3,398.9 313.5,398.9 313.7,398.9 313.9,398.9 314.1,398.9 314.3,398.9 314.5,398.9 314.7,398.9 314.9,398.9 315.1,398.9 315.3,398.9 315.5,398.9 315.7,398.9 315.9,398.9 316.1,398.9 316.3,398.9 316.5,398.9 316.7,398.9 316.9,398.9 317.1,398.9 317.3,398.9 317.4,398.9 317.6,398.9 317.8,398.9 318.0,398.9 318.2,398.9 318.4,398.9 318.6,398.9 318.8,398.9 319.0,398.9 319.2,398.9 319.4,398.9 319.6,398.9 319.8,398.9 320.0,398.9 320.2,398.9 320.4,398.9 320.6,398.9 320.8,398.9 321.0,398.9 321.2,398.9 321.4,398.9 321.6,398.9 321.8,398.9 322.0,398.9 322.2,398.9 322.4,398.9 322.6,398.9 322.8,398.9 322.9,398.9 323.1,398.9 323.3,398.9 323.5,398.9 323.7,398.9 323.9,398.9 324.1,398.9 324.3,398.9 324.5,398.9 324.7,398.9 324.9,398.9 325.1,398.9 325.3,398.9 325.5,398.9 325.7,398.9 325.9,398.9 326.1,398.9 326.3,398.9 326.5,398.9 326.7,398.9 326.9,398.9 327.1,398.9 327.3,398.9 327.5,398.9 327.7,398.9 327.9,398.9 328.1,398.9 328.3,398.9 328.5,398.9 328.6,398.9 328.8,398.9 329.0,398.9 329.2,398.9 329.4,398.9 329.6,398.9 329.8,398.9 330.0,398.9 330.2,398.9 330.4,398.9 330.6,398.9 330.8,398.9 331.0,398.9 331.2,398.9 331.4,398.9 331.6,398.9 331.8,398.9 332.0,398.9 332.2,398.9 332.4,398.9 332.6,398.9 332.8,398.9 333.0,398.9 333.2,398.9 333.4,398.9 333.6,398.9 333.8,398.9 334.0,398.9 334.1,398.9 334.3,398.9 334.5,398.9 334.7,398.9 334.9,398.9 335.1,398.9 335.3,398.9 335.5,398.9 335.7,398.9 335.9,398.9 336.1,398.9 336.3,398.9 336.5,398.9 336.7,398.9 336.9,398.9 337.1,398.9 337.3,398.9 337.5,398.9 337.7,398.9 337.9,398.9 338.1,398.9 338.3,398.9 338.5,398.9 338.7,398.9 338.9,398.9 339.1,398.9 339.3,398.9 339.5,398.9 339.7,398.9 339.8,398.9 340.0,398.9 340.2,398.9 340.4,398.9 340.6,398.9 340.8,398.9 341.0,398.9 341.2,398.9 341.4,398.9 341.6,398.9 341.8,398.9 342.0,398.9 342.2,398.9 342.4,398.9 342.6,398.9 342.8,398.9 343.0,398.9 343.2,398.9 343.4,398.9 343.6,398.9 343.8,398.9 344.0,398.9 344.2,398.9 344.4,398.9 344.6,398.9 344.8,398.9 345.0,398.9 345.2,398.9 345.3,398.9 345.5,398.9 345.7,398.9 345.9,398.9 346.1,398.9 346.3,398.9 346.5,398.9 346.7,398.9 346.9,398.9 347.1,398.9 347.3,398.9 347.5,398.9 347.7,398.9 347.9,398.9 348.1,398.9 348.3,398.9 348.5,398.9 348.7,398.9 348.9,398.9 349.1,398.9 349.3,398.9 349.5,398.9 349.7,398.9 349.9,398.9 350.1,398.9 350.3,398.9 350.5,398.9 350.7,398.9 350.8,398.9 351.0,398.9 351.2,398.9 351.4,398.9 351.6,398.9 351.8,398.9 352.0,398.9 352.2,398.9 352.4,398.9 352.6,398.9 352.8,398.9 353.0,398.9 353.2,398.9 353.4,398.9 353.6,398.9 353.8,398.9 354.0,398.9 354.2,398.9 354.4,398.9 354.6,398.9 354.8,398.9 355.0,398.9 355.2,398.9 355.4,398.9 355.6,398.9 355.8,398.9 356.0,398.9 356.2,398.9 356.4,398.9 356.5,398.9 356.7,398.9 356.9,398.9 357.1,398.9 357.3,398.9 357.5,398.9 357.7,398.9 357.9,398.9 358.1,398.9 358.3,398.9 358.5,398.9 358.7,398.9 358.9,398.9 359.1,398.9 359.3,398.9 359.5,398.9 359.7,398.9 359.9,398.9 360.1,398.9 360.3,398.9 360.5,398.9 360.7,398.9 360.9,398.9 361.1,398.9 361.3,398.9 361.5,398.9 361.7,398.9 361.9,398.9 362.0,398.9 362.2,398.9 362.4,398.9 362.6,398.9 362.8,398.9 363.0,398.9 363.2,398.9 363.4,398.9 363.6,398.9 363.8,398.9 364.0,398.9 364.2,398.9 364.4,398.9 364.6,398.9 364.8,398.9 365.0,398.9 365.2,398.9 365.4,398.9 365.6,398.9 365.8,398.9 366.0,398.9 366.2,398.9 366.4,398.9 366.6,398.9 366.8,398.9 367.0,398.9 367.2,398.9 367.4,398.9 367.6,398.9 367.7,398.9 367.9,398.9 368.1,398.9 368.3,398.9 368.5,398.9 368.7,398.9 368.9,398.9 369.1,398.9 369.3,398.9 369.5,398.9 369.7,398.9 369.9,398.9 370.1,398.9 370.3,398.9 370.5,398.9 370.7,398.9 370.9,398.9 371.1,398.9 371.3,398.9 371.5,398.9 371.7,398.9 371.9,398.9 372.1,398.9 372.3,398.9 372.5,398.9 372.7,398.9 372.9,398.9 373.1,398.9 373.2,398.9 373.4,398.9 373.6,398.9 373.8,398.9 374.0,398.9 374.2,398.9 374.4,398.9 374.6,398.9 374.8,398.9 375.0,398.9 375.2,398.9 375.4,398.9 375.6,398.9 375.8,398.9 376.0,398.9 376.2,398.9 376.4,398.9 376.6,398.9 376.8,398.9 377.0,398.9 377.2,398.9 377.4,398.9 377.6,398.9 377.8,398.9 378.0,398.9 378.2,398.9 378.4,398.9 378.6,398.9 378.7,398.9 378.9,398.9 379.1,398.9 379.3,398.9 379.5,398.9 379.7,398.9 379.9,398.9 380.1,398.9 380.3,398.9 380.5,398.9 380.7,398.9 380.9,398.9 381.1,398.9 381.3,398.9 381.5,398.9 381.7,398.9 381.9,398.9 382.1,398.9 382.3,398.9 382.5,398.9 382.7,398.9 382.9,398.9 383.1,398.9 383.3,398.9 383.5,398.9 383.7,398.9 383.9,398.9 384.1,398.9 384.3,398.9 384.4,398.9 384.6,398.9 384.8,398.9 385.0,398.9 385.2,398.9 385.4,398.9 385.6,398.9 385.8,398.9 386.0,398.9 386.2,398.9 386.4,398.9 386.6,398.9 386.8,398.9 387.0,398.9 387.2,398.9 387.4,398.9 387.6,398.9 387.8,398.9 388.0,398.9 388.2,398.9 388.4,398.9 388.6,398.9 388.8,398.9 389.0,398.9 389.2,398.9 389.4,398.9 389.6,398.9 389.8,398.9 389.9,398.9 390.1,398.9 390.3,398.9 390.5,398.9 390.7,398.9 390.9,398.9 391.1,398.9 391.3,398.9 391.5,398.9 391.7,398.9 391.9,398.9 392.1,398.9 392.3,398.9 392.5,398.9 392.7,398.9 392.9,398.9 393.1,398.9 393.3,398.9 393.5,398.9 393.7,398.9 393.9,398.9 394.1,398.9 394.3,398.9 394.5,398.9 394.7,398.9 394.9,398.9 395.1,398.9 395.3,398.9 395.5,398.9 395.6,398.9 395.8,398.9 396.0,398.9 396.2,398.9 396.4,398.9 396.6,398.9 396.8,398.9 397.0,398.9 397.2,398.9 397.4,398.9 397.6,398.9 397.8,398.9 398.0,398.9 398.2,398.9 398.4,398.9 398.6,398.9 398.8,398.9 399.0,398.9 399.2,398.9 399.4,398.9 399.6,398.9 399.8,398.9 400.0,398.9 400.2,398.9 400.4,398.9 400.6,398.9 400.8,398.9 401.0,398.9 401.1,398.9 401.3,398.9 401.5,398.9 401.7,398.9 401.9,398.9 402.1,398.9 402.3,398.9 402.5,398.9 402.7,398.9 402.9,398.9 403.1,398.9 403.3,398.9 403.5,398.9 403.7,398.9 403.9,398.9 404.1,398.9 404.3,398.9 404.5,398.9 404.7,398.9 404.9,398.9 405.1,398.9 405.3,398.9 405.5,398.9 405.7,398.9 405.9,398.9 406.1,398.9 406.3,398.9 406.5,398.9 406.6,398.9 406.8,398.9 407.0,398.9 407.2,398.9 407.4,398.9 407.6,398.9 407.8,398.9 408.0,398.9 408.2,398.9 408.4,398.9 408.6,398.9 408.8,398.9 409.0,398.9 409.2,398.9 409.4,398.9 409.6,398.9 409.8,398.9 410.0,398.9 410.2,398.9 410.4,398.9 410.6,398.9 410.8,398.9 411.0,398.9 411.2,398.9 411.4,398.9 411.6,398.9 411.8,398.9 412.0,398.9 412.2,398.9 412.3,398.9 412.5,398.9 412.7,398.9 412.9,398.9 413.1,398.9 413.3,398.9 413.5,398.9 413.7,398.9 413.9,398.9 414.1,398.9 414.3,398.9 414.5,398.9 414.7,398.9 414.9,398.9 415.1,398.9 415.3,398.9 415.5,398.9 415.7,398.9 415.9,398.9 416.1,398.9 416.3,398.9 416.5,398.9 416.7,398.9 416.9,398.9 417.1,398.9 417.3,398.9 417.5,398.9 417.7,398.9 417.8,398.9 418.0,398.9 418.2,398.9 418.4,398.9 418.6,398.9 418.8,398.9 419.0,398.9 419.2,398.9 419.4,398.9 419.6,398.9 419.8,398.9 420.0,398.9 420.2,398.9 420.4,398.9 420.6,398.9 420.8,398.9 421.0,398.9 421.2,398.9 421.4,398.9 421.6,398.9 421.8,398.9 422.0,398.9 422.2,398.9 422.4,398.9 422.6,398.9 422.8,398.9 423.0,398.9 423.2,398.9 423.3,398.9 423.5,398.9 423.7,398.9 423.9,398.9 424.1,398.9 424.3,398.9 424.5,398.9 424.7,398.9 424.9,398.9 425.1,398.9 425.3,398.9 425.5,398.9 425.7,398.9 425.9,398.9 426.1,398.9 426.3,398.9 426.5,398.9 426.7,398.9 426.9,398.9 427.1,398.9 427.3,398.9 427.5,398.9 427.7,398.9 427.9,398.9 428.1,398.9 428.3,398.9 428.5,398.9 428.7,398.9 428.9,398.9 429.0,398.9 429.2,398.9 429.4,398.9 429.6,398.9 429.8,398.9 430.0,398.9 430.2,398.9 430.4,398.9 430.6,398.9 430.8,398.9 431.0,398.8 431.2,398.2 431.4,397.0 431.6,395.5 431.8,393.6 432.0,391.3 432.2,388.8 432.4,386.3 432.6,383.6 432.8,380.9 433.0,377.7 433.2,374.5 433.4,371.3 433.6,368.2 433.8,365.7 434.0,362.8 434.2,360.2 434.4,356.9 434.5,354.1 434.7,351.2 434.9,348.6 435.1,346.1 435.3,343.4 435.5,341.2 435.7,338.6 435.9,336.5 436.1,334.5 436.3,332.7 436.5,330.2 436.7,327.9 436.9,325.6 437.1,324.7 437.3,322.6 437.5,321.2 437.7,319.1 437.9,317.6 438.1,316.5 438.3,315.5 438.5,314.3 438.7,313.2 438.9,312.0 439.1,311.2 439.3,309.4 439.5,308.9 439.7,307.6 439.9,306.6 440.1,305.5 440.2,305.0 440.4,304.3 440.6,303.5 440.8,302.4 441.0,301.5 441.2,301.2 441.4,300.6 441.6,300.0 441.8,299.5 442.0,299.1 442.2,299.0 442.4,298.0 442.6,297.5 442.8,297.8 443.0,297.2 443.2,297.3 443.4,296.1 443.6,295.8 443.8,295.1 444.0,294.6 444.2,294.2 444.4,294.2 444.6,294.5 444.8,294.8 445.0,294.0 445.2,293.0 445.4,291.5 445.6,291.2 445.7,292.0 445.9,292.4 446.1,293.1 446.3,293.3 446.5,294.0 446.7,293.2 446.9,293.2 447.1,292.2 447.3,292.4 447.5,290.6 447.7,290.7 447.9,290.8 448.1,292.1 448.3,292.4 448.5,292.0 448.7,292.1 448.9,292.9 449.1,293.2 449.3,292.6 449.5,291.3 449.7,291.1 449.9,291.4 450.1,292.0 450.3,291.1 450.5,290.2 450.7,289.2 450.9,290.1 451.1,290.9 451.2,291.1 451.4,290.5 451.6,290.1 451.8,289.9 452.0,289.9 452.2,290.2 452.4,290.6 452.6,291.1 452.8,290.8 453.0,289.5 453.2,288.1 453.4,288.5 453.6,289.8 453.8,291.0 454.0,291.4 454.2,291.3 454.4,290.6 454.6,290.0 454.8,289.9 455.0,290.0 455.2,288.7 455.4,288.6 455.6,289.1 455.8,289.9 456.0,289.3 456.2,290.1 456.4,290.1 456.6,290.8 456.8,289.8 456.9,289.6 457.1,290.6 457.3,290.2 457.5,290.5 457.7,289.4 457.9,289.7 458.1,289.4 458.3,288.2 458.5,288.0 458.7,287.9 458.9,288.8 459.1,288.8 459.3,289.7 459.5,289.4 459.7,289.6 459.9,288.8 460.1,288.7 460.3,289.5 460.5,289.7 460.7,289.8 460.9,288.6 461.1,289.8 461.3,290.0 461.5,291.2 461.7,290.6 461.9,290.6 462.1,289.6 462.3,289.2 462.4,289.5 462.6,290.0 462.8,289.7 463.0,289.1 463.2,288.8 463.4,290.1 463.6,291.7 463.8,292.6 464.0,291.9 464.2,290.4 464.4,289.8 464.6,289.8 464.8,290.3 465.0,290.2 465.2,290.2 465.4,290.5 465.6,290.8 465.8,290.6 466.0,290.2 466.2,290.2 466.4,289.6 466.6,290.2 466.8,289.6 467.0,290.4 467.2,289.6 467.4,290.3 467.6,290.0 467.8,289.8 468.0,288.9 468.1,289.3 468.3,290.1 468.5,291.1 468.7,290.8 468.9,291.3 469.1,291.0 469.3,291.2 469.5,290.5 469.7,290.4 469.9,290.0 470.1,290.0 470.3,289.3 470.5,289.4 470.7,289.7 470.9,289.6 471.1,291.1 471.3,291.3 471.5,292.4 471.7,290.0 471.9,289.2 472.1,288.4 472.3,289.2 472.5,289.3 472.7,288.8 472.9,289.7 473.1,290.3 473.3,290.8 473.5,290.4 473.6,289.5 473.8,289.3 474.0,288.3 474.2,289.6 474.4,289.9 474.6,289.9 474.8,289.3 475.0,288.9 475.2,289.5 475.4,289.9 475.6,289.6 475.8,290.2 476.0,289.5 476.2,290.4 476.4,290.0 476.6,290.4 476.8,291.2 477.0,290.8 477.2,291.0 477.4,289.2 477.6,289.5 477.8,289.8 478.0,290.6 478.2,289.9 478.4,288.5 478.6,288.9 478.8,289.3 479.0,290.0 479.1,289.5 479.3,288.8 479.5,288.2 479.7,288.7 479.9,289.5 480.1,290.0 480.3,290.1 480.5,290.6 480.7,290.8 480.9,290.2 481.1,289.4 481.3,289.7 481.5,289.9 481.7,290.2 481.9,289.5 482.1,289.3 482.3,289.0 482.5,288.7 482.7,288.7 482.9,288.5 483.1,289.0 483.3,290.3 483.5,291.8 483.7,291.9 483.9,291.1 484.1,290.8 484.3,291.5 484.5,292.5 484.7,291.1 484.8,291.6 485.0,291.5 485.2,291.8 485.4,290.2 485.6,289.4 485.8,289.4 486.0,289.6 486.2,289.6 486.4,288.5 486.6,288.4 486.8,287.9 487.0,289.2 487.2,289.2 487.4,289.9 487.6,290.0 487.8,290.1 488.0,289.5 488.2,289.6 488.4,289.6 488.6,290.0 488.8,289.1 489.0,289.8 489.2,290.3 489.4,291.0 489.6,290.1 489.8,289.6 490.0,289.6 490.2,290.0 490.3,289.5 490.5,288.8 490.7,289.3 490.9,289.9 491.1,290.6 491.3,290.3 491.5,289.7 491.7,288.9 491.9,288.4 492.1,288.8 492.3,289.2 492.5,289.2 492.7,287.9 492.9,288.8 493.1,289.0 493.3,289.5 493.5,288.5 493.7,288.6 493.9,289.4 494.1,290.3 494.3,291.0 494.5,290.5 494.7,289.8 494.9,289.5 495.1,289.9 495.3,290.1 495.5,290.7 495.7,289.1 495.9,289.6 496.0,288.7 496.2,289.9 496.4,289.5 496.6,289.5 496.8,290.0 497.0,289.0 497.2,289.0 497.4,289.3 497.6,289.5 497.8,289.3 498.0,288.5 498.2,289.1 498.4,289.9 498.6,288.8 498.8,288.8 499.0,288.7 499.2,290.5 499.4,291.1 499.6,291.8 499.8,291.1 500.0,290.9 500.2,290.4 500.4,290.5 500.6,290.1 500.8,289.7 501.0,289.8 501.2,289.7 501.4,289.8 501.5,289.4 501.7,289.8 501.9,289.9 502.1,289.0 502.3,289.4 502.5,290.1 502.7,291.9 502.9,292.0 503.1,290.1 503.3,287.8 503.5,288.2 503.7,288.7 503.9,290.2 504.1,288.2 504.3,288.4 504.5,288.7 504.7,289.2 504.9,289.3 505.1,289.0 505.3,290.4 505.5,290.3 505.7,290.3 505.9,289.3 506.1,289.6 506.3,289.5 506.5,289.6 506.7,290.1 506.9,290.2 507.0,290.9 507.2,290.1 507.4,290.1 507.6,288.5 507.8,288.1 508.0,287.6 508.2,288.0 508.4,288.7 508.6,288.9 508.8,288.9 509.0,289.3 509.2,290.0 509.4,289.7 509.6,288.2 509.8,287.0 510.0,287.1 510.2,289.0 510.4,290.4 510.6,292.0 510.8,291.7 511.0,291.0 511.2,290.4 511.4,290.0 511.6,290.8 511.8,290.9 512.0,291.1 512.2,291.3 512.4,290.5 512.6,289.9 512.7,290.1 512.9,290.9 513.1,290.9 513.3,290.5 513.5,289.9 513.7,290.2 513.9,289.6 514.1,289.5 514.3,289.2 514.5,289.5 514.7,289.5 514.9,289.1 515.1,288.2 515.3,288.2 515.5,289.5 515.7,289.5 515.9,290.5 516.1,290.3 516.3,289.9 516.5,288.9 516.7,287.3 516.9,288.4 517.1,288.6 517.3,290.8 517.5,290.9 517.7,290.5 517.9,289.2 518.1,287.8 518.2,287.7 518.4,287.6 518.6,288.3 518.8,288.5 519.0,288.5 519.2,289.4 519.4,290.6 519.6,291.1 519.8,290.9 520.0,289.8 520.2,289.3 520.4,289.1 520.6,289.9 520.8,290.2 521.0,289.7 521.2,289.6 521.4,289.3 521.6,290.1 521.8,289.8 522.0,289.5 522.2,289.2 522.4,288.5 522.6,288.8 522.8,288.6 523.0,288.1 523.2,288.1 523.4,287.7 523.6,288.4 523.8,289.7"/>
<line x1="52.4" y1="398.95" x2="523.75" y2="398.95" stroke="#D95319" stroke-dasharray="8.5 8.863"/>
</g>
<text x="287.9" y="236.7" text-anchor="middle" font-family='"Liberation Serif", "DejaVu Serif", serif' font-size="14" fill="#000" stroke="#000" stroke-width="0.2" textLength="65.5" lengthAdjust="spacingAndGlyphs">Evaluation</text>
<text transform="translate(19.6,321.2) rotate(-90)" text-anchor="middle" font-family='"Liberation Serif", "DejaVu Serif", serif' font-size="14" fill="#000" stroke="#000" stroke-width="0.2">J</text>
<text x="288.3" y="430.6" text-anchor="middle" font-family='"Liberation Serif", "DejaVu Serif", serif' font-size="14" fill="#000" stroke="#000" stroke-width="0.2" textLength="46.9" lengthAdjust="spacingAndGlyphs">Time(s)</text>
<rect x="63.3" y="254.4" width="93.6" height="31.6" fill="#fff" stroke="#404040" stroke-width="1"/>
<line x1="68.1" y1="263.3" x2="99.7" y2="263.3" stroke="#0072BD" stroke-width="2.5"/>
<line x1="68.1" y1="277.7" x2="99.7" y2="277.7" stroke="#D95319" stroke-width="2.5" stroke-dasharray="8.7 8.3 9.2 20"/>
<text x="103.6" y="267.1" font-family='"Liberation Sans", Arial, sans-serif' font-size="10.6" fill="#000" stroke="#000" stroke-width="0.12">J</text>
<text x="103.6" y="281.2" font-family='"Liberation Sans", Arial, sans-serif' font-size="10.6" fill="#000" stroke="#000" stroke-width="0.12">Threshold</text>
</svg>
</body></html>
